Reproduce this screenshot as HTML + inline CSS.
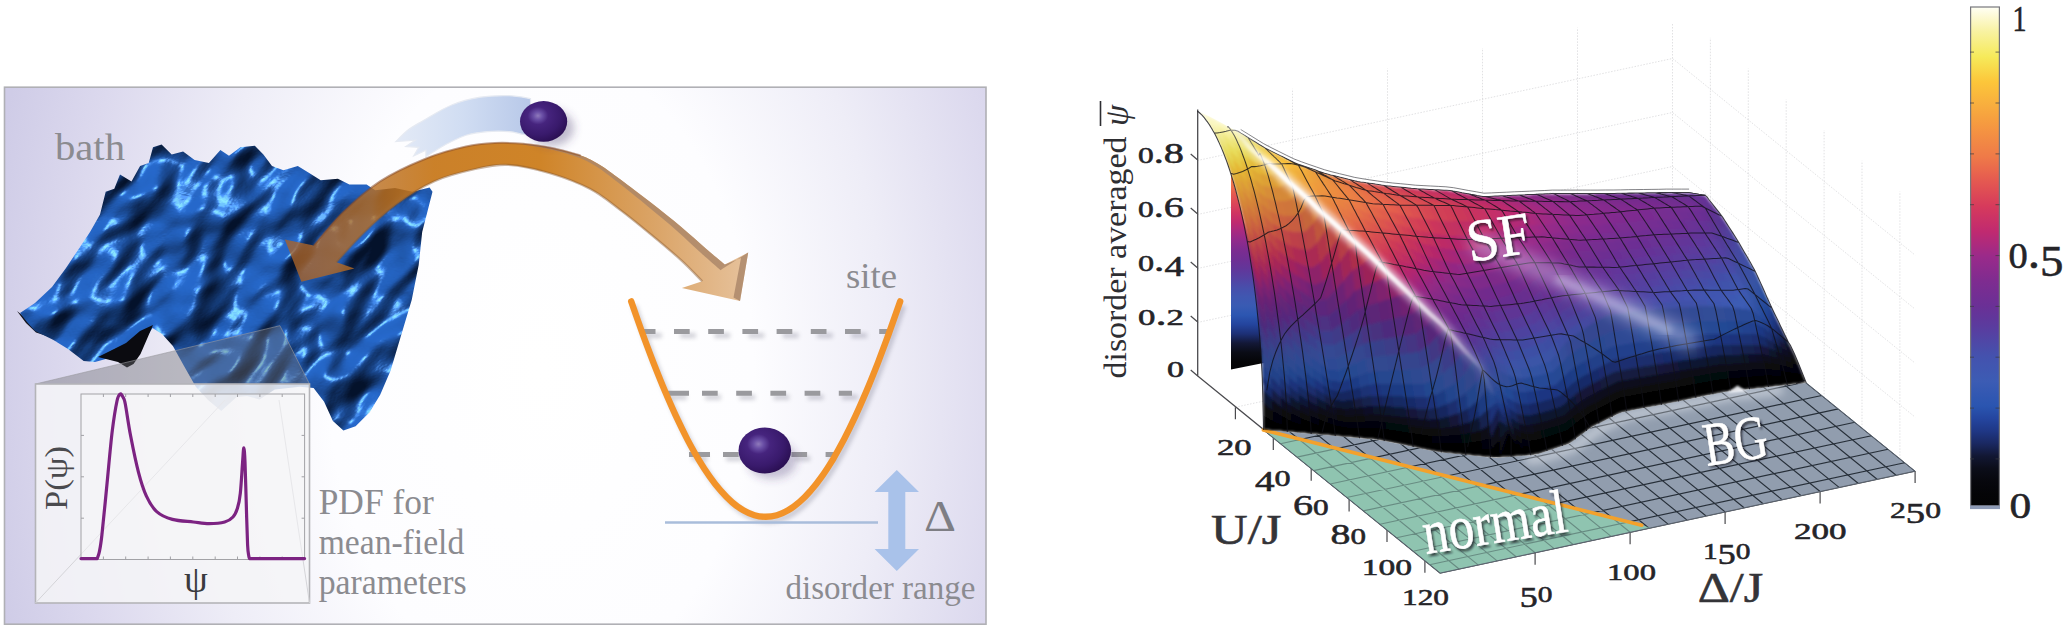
<!DOCTYPE html>
<html><head><meta charset="utf-8"><title>figure</title>
<style>
html,body{margin:0;padding:0;background:#fff;}
body{width:2066px;height:628px;overflow:hidden;}
svg{display:block;}
text{font-family:"Liberation Serif","DejaVu Serif",serif;}
</style></head><body>
<svg width="2066" height="628" viewBox="0 0 2066 628">
<rect x="0" y="0" width="2066" height="628" fill="#ffffff"/>

<defs>
 <radialGradient id="lbg" gradientUnits="userSpaceOnUse" cx="540" cy="370" r="560" gradientTransform="translate(540,370) scale(1,1.5) translate(-540,-370)">
  <stop offset="0" stop-color="#ffffff"/>
  <stop offset="0.38" stop-color="#fdfdff"/>
  <stop offset="0.62" stop-color="#eeedf7"/>
  <stop offset="0.84" stop-color="#dcd9ee"/>
  <stop offset="1" stop-color="#cfcce7"/>
 </radialGradient>
 <radialGradient id="ball" cx="0.38" cy="0.36" r="0.68">
  <stop offset="0" stop-color="#8f7abb"/>
  <stop offset="0.14" stop-color="#6a4fa6"/>
  <stop offset="0.32" stop-color="#46247e"/>
  <stop offset="0.7" stop-color="#391a6c"/>
  <stop offset="1" stop-color="#2a0f52"/>
 </radialGradient>
 <filter id="blur2" x="-20%" y="-20%" width="140%" height="140%"><feGaussianBlur stdDeviation="2"/></filter>
 <filter id="blur4" x="-30%" y="-30%" width="160%" height="160%"><feGaussianBlur stdDeviation="4"/></filter>
 <filter id="blur1" x="-20%" y="-20%" width="140%" height="140%"><feGaussianBlur stdDeviation="0.8"/></filter>
</defs>
<rect x="4.5" y="87.2" width="981.5" height="537" fill="url(#lbg)" stroke="#b0b0b5" stroke-width="1.6"/>


<defs>
 <clipPath id="bathclip"><path d="M20.0,313.0 L35.0,303.0 L52.0,287.0 L66.0,268.0 L78.0,250.0 L90.0,232.0 L100.0,214.6 L105.7,191.7 L114.3,188.8 L120.0,174.5 L131.5,181.6 L140.1,165.9 L148.7,163.0 L153.0,147.2 L161.6,144.4 L171.7,154.4 L183.1,151.5 L194.6,160.1 L208.9,163.0 L220.4,150.1 L229.0,155.8 L240.4,147.2 L254.8,145.8 L263.4,154.4 L272.0,165.9 L283.4,170.2 L297.8,165.9 L309.2,173.0 L320.7,180.2 L337.9,178.8 L349.4,184.5 L366.6,184.5 L375.2,190.2 L395.0,188.0 L412.4,191.7 L429.6,187.4 L432.5,191.7 L426.7,214.6 L422.2,232.0 L418.7,265.0 L411.7,300.0 L401.2,335.1 L390.7,370.2 L380.2,394.7 L369.6,412.2 L355.6,426.2 L343.4,430.4 L332.9,421.0 L324.1,401.7 L313.6,388.0 L300.0,386.8 L274.8,389.4 L259.5,399.5 L247.0,396.0 L236.6,397.0 L221.3,411.0 L208.0,400.0 L195.8,386.8 L184.0,366.0 L172.9,346.0 L162.0,334.0 L152.5,328.0 L146.0,338.0 L139.7,353.7 L133.0,363.0 L127.0,366.4 L118.0,361.0 L106.6,358.8 L95.0,362.0 L83.7,361.0 L68.0,349.0 L53.0,339.7 L35.0,331.0 L27.0,322.0Z"/></clipPath>
 <filter id="bathtex" filterUnits="userSpaceOnUse" x="0" y="0" width="700" height="420" color-interpolation-filters="sRGB">
  <feTurbulence type="fractalNoise" baseFrequency="0.026 0.021" numOctaves="2" seed="11" result="n"/>
  <feGaussianBlur in="n" stdDeviation="2" result="nb"/>
  <feDiffuseLighting in="nb" surfaceScale="26" diffuseConstant="1.0" lighting-color="#2a6cc8" result="dif">
    <feDistantLight azimuth="200" elevation="48"/>
  </feDiffuseLighting>
  <feSpecularLighting in="nb" surfaceScale="26" specularConstant="0.72" specularExponent="50" lighting-color="#a8dcff" result="spec">
    <feDistantLight azimuth="235" elevation="62"/>
  </feSpecularLighting>
  <feFlood flood-color="#0f3b8e" result="base"/>
  <feComposite in="dif" in2="base" operator="arithmetic" k1="0" k2="0.8" k3="0.3" k4="0" result="mix"/>
  <feComposite in="spec" in2="mix" operator="arithmetic" k1="0" k2="0.9" k3="1" k4="0" result="lit"/>
  <feComposite in="lit" in2="SourceGraphic" operator="in"/>
 </filter>
</defs>
<path d="M17,311 L26,323 L36,332.5 L50,337 L33,324 Z" fill="#14141c"/>
<g clip-path="url(#bathclip)">
 <g transform="matrix(1,0.167,-0.714,1,120,60)">
  <rect x="0" y="0" width="700" height="420" fill="#1d57a6" filter="url(#bathtex)"/>
 </g>
</g>
<path d="M98,357 L112,350 L126,343 L140,331 L153,325 L147,339 L140.5,354 L133.5,364 L127,367.5 L118,362 L108,359.5 Z" fill="#0b0b10"/>

<path d="M35.5,384 L279.9,325.7 L309.5,384 Z" fill="#707074" fill-opacity="0.42"/>
<path d="M35.5,384 L279.9,325.7 L309.5,384" fill="none" stroke="#9a9a9e" stroke-opacity="0.6" stroke-width="1"/>
<rect x="35.5" y="384" width="274" height="219" fill="#f4f4f7" fill-opacity="0.86" stroke="#b4b4b8" stroke-width="1.6"/>
<path d="M35.5,603 L225,400 M309.5,603 L279,400" stroke="#d4d4d8" stroke-width="1" fill="none"/>
<rect x="81" y="394" width="223.6" height="165.5" fill="#f6f6f8" fill-opacity="0.55" stroke="#a2a2a6" stroke-width="1"/>
<path d="M103.4,559.5v-3 M103.4,394v3 M125.7,559.5v-3 M125.7,394v3 M148.1,559.5v-3 M148.1,394v3 M170.4,559.5v-3 M170.4,394v3 M192.8,559.5v-3 M192.8,394v3 M215.2,559.5v-3 M215.2,394v3 M237.5,559.5v-3 M237.5,394v3 M259.9,559.5v-3 M259.9,394v3 M282.2,559.5v-3 M282.2,394v3 M81,435.4h3 M304.6,435.4h-3 M81,476.8h3 M304.6,476.8h-3 M81,518.2h3 M304.6,518.2h-3" stroke="#a2a2a6" stroke-width="1" fill="none"/>
<path d="M81,558.6 L97.2,558.6 L97.2,558.6C97.5,557.5 98.5,555.9 99.3,552.0C100.1,548.1 100.6,546.5 101.9,535.0C103.2,523.5 105.4,500.3 107.1,482.9C108.8,465.5 110.6,444.2 112.3,430.6C114.0,417.0 115.7,407.1 117.0,401.0C118.3,394.9 119.2,394.6 120.2,394.0C121.2,393.4 122.3,395.8 123.2,397.5C124.1,399.2 124.2,398.1 125.4,404.5C126.6,410.9 128.4,424.5 130.6,435.8C132.8,447.1 135.9,462.4 138.5,472.4C141.1,482.4 143.3,489.4 146.3,495.9C149.3,502.4 152.3,507.7 156.7,511.6C161.0,515.5 166.3,517.7 172.4,519.4C178.5,521.1 187.2,521.3 193.3,522.0C199.4,522.7 203.8,523.6 209.0,523.6C214.2,523.6 220.7,523.1 224.7,522.0C228.7,520.9 230.9,519.3 233.0,517.0C235.1,514.7 236.3,511.9 237.5,508.0C238.7,504.1 239.5,501.0 240.3,493.3C241.2,485.6 242.0,469.6 242.6,462.0C243.2,454.4 243.4,447.9 243.8,447.9C244.2,447.9 244.6,452.5 245.0,462.0C245.4,471.5 245.9,491.2 246.3,505.0C246.7,518.8 247.2,536.5 247.6,545.0C248.0,553.5 248.5,553.7 248.8,556.0C249.1,558.3 249.5,558.2 249.6,558.6 L304.6,558.6" fill="none" stroke="#7c2382" stroke-width="3.2" stroke-linejoin="round" stroke-linecap="round"/>
<text transform="translate(67,478) rotate(-90)" font-size="31" fill="#4a4a4e" text-anchor="middle" textLength="64" lengthAdjust="spacingAndGlyphs">P(ψ)</text>
<text x="196.0" y="592.0" font-size="38.0" fill="#3a3a3e" text-anchor="middle" >ψ</text>
<text x="318.7" y="514.0" font-size="35.0" fill="#8b8b90" text-anchor="start" textLength="115.0" lengthAdjust="spacingAndGlyphs" >PDF for</text>
<text x="318.7" y="554.4" font-size="35.0" fill="#8b8b90" text-anchor="start" textLength="145.5" lengthAdjust="spacingAndGlyphs" >mean-field</text>
<text x="318.7" y="593.6" font-size="35.0" fill="#8b8b90" text-anchor="start" textLength="148.0" lengthAdjust="spacingAndGlyphs" >parameters</text>
<text x="55.0" y="160.0" font-size="37.0" fill="#8b8b90" text-anchor="start" textLength="70.0" lengthAdjust="spacingAndGlyphs" >bath</text>
<text x="846.0" y="288.0" font-size="36.0" fill="#8b8b90" text-anchor="start" textLength="51.0" lengthAdjust="spacingAndGlyphs" >site</text>
<text x="785.5" y="598.6" font-size="34.0" fill="#8b8b90" text-anchor="start" textLength="190.0" lengthAdjust="spacingAndGlyphs" >disorder range</text>
<text x="924.0" y="530.6" font-size="44.0" fill="#7e7e84" text-anchor="start" textLength="32.0" lengthAdjust="spacingAndGlyphs" >Δ</text>
<defs>
 <linearGradient id="arrg" gradientUnits="userSpaceOnUse" x1="285" y1="0" x2="750" y2="0">
  <stop offset="0" stop-color="#a8622a" stop-opacity="0.78"/>
  <stop offset="0.18" stop-color="#b96e22" stop-opacity="0.8"/>
  <stop offset="0.32" stop-color="#c87a1e" stop-opacity="0.95"/>
  <stop offset="0.55" stop-color="#cf8428" stop-opacity="1"/>
  <stop offset="0.8" stop-color="#d9a060" stop-opacity="0.95"/>
  <stop offset="1" stop-color="#e4bc92" stop-opacity="0.9"/>
 </linearGradient>
 <linearGradient id="swg" gradientUnits="userSpaceOnUse" x1="396" y1="0" x2="530" y2="0">
  <stop offset="0" stop-color="#e2e9f6" stop-opacity="0.95"/>
  <stop offset="0.5" stop-color="#cfdcf2" stop-opacity="0.97"/>
  <stop offset="1" stop-color="#b6c7e8" stop-opacity="0.97"/>
 </linearGradient>
</defs>
<path d="M395.8,141.6C397.8,139.7 403.5,133.5 408.0,130.0C412.5,126.5 415.7,125.0 423.0,120.8C430.3,116.6 442.1,108.9 451.7,105.0C461.2,101.1 470.8,98.8 480.3,97.2C489.9,95.7 500.6,95.5 509.0,95.7C517.4,95.9 526.9,98.1 530.5,98.6 L531,134.5 C529.7,134.5 527.0,134.9 523.3,134.4C519.6,133.9 515.0,132.1 509.0,131.6C503.0,131.1 494.7,131.0 487.5,131.6C480.3,132.2 473.2,132.9 466.0,135.2C458.8,137.5 451.2,141.6 444.5,145.2C437.8,148.8 429.0,154.8 425.9,156.7 L425.9,150.2 L413.7,156 L418.7,147.3 L405.8,146.6 L415.1,140.2 Z" fill="url(#swg)" stroke="#e6eaf2" stroke-width="1.2"/>
<path d="M284.8,239.4 L313.8,245.6 C318.6,240.1 331.8,223.2 342.8,212.5C353.8,201.8 366.2,190.4 380.0,181.4C393.8,172.4 411.3,164.5 425.6,158.7C439.9,152.9 454.5,149.2 466.0,146.6C477.5,144.0 485.1,143.5 494.7,143.0C504.2,142.5 513.8,143.0 523.3,143.8C532.8,144.6 542.4,146.0 552.0,148.0C561.6,150.0 572.7,152.8 580.7,155.6C588.7,158.4 593.4,161.0 600.0,165.0C606.6,169.0 612.0,173.2 620.5,179.5C629.0,185.8 640.7,194.7 650.8,202.6C660.9,210.5 671.9,219.2 681.0,226.8C690.1,234.4 697.9,241.7 705.2,248.0C712.5,254.3 721.6,261.8 724.9,264.6 L748.2,252.5 L740,301 L681.9,288 L702.2,281.3 C698.7,277.8 689.6,267.9 681.0,260.1C672.4,252.3 660.9,242.7 650.8,234.4C640.7,226.1 630.6,217.8 620.5,210.2C610.4,202.6 602.1,195.2 590.3,189.0C578.5,182.8 563.5,177.2 549.9,173.2C536.2,169.2 520.8,165.6 508.4,164.9C496.0,164.2 487.7,166.2 475.3,169.0C462.9,171.8 447.0,175.5 433.9,181.4C420.8,187.3 408.3,195.6 396.6,204.2C384.9,212.8 373.5,223.5 363.5,233.2C353.5,242.9 341.1,257.4 336.6,262.2 L354.4,268.4 L301.4,281.7 Z" fill="url(#arrg)"/>
<path d="M523.3,143.8C528.1,144.5 542.4,146.0 552.0,148.0C561.6,150.0 572.7,152.8 580.7,155.6C588.7,158.4 593.4,161.0 600.0,165.0C606.6,169.0 612.0,173.2 620.5,179.5C629.0,185.8 640.7,194.7 650.8,202.6C660.9,210.5 671.9,219.2 681.0,226.8C690.1,234.4 697.9,241.7 705.2,248.0C712.5,254.3 721.6,261.8 724.9,264.6 L720.7,270.2 C717.4,267.4 708.5,259.6 701.3,253.2C694.1,246.7 686.5,239.2 677.6,231.4C668.7,223.6 657.8,214.6 647.9,206.5C638.0,198.3 626.5,189.1 618.1,182.6C609.8,176.2 604.5,171.8 598.0,167.6C591.5,163.5 586.9,160.8 579.1,157.8C571.2,154.8 560.3,151.7 550.9,149.5C541.5,147.3 527.4,145.4 522.7,144.6 Z" fill="#a98468" fill-opacity="0.8"/>
<path d="M748.2,252.5 L740,301 L733.5,297.5 L741,258 L724.9,264.6 L720.5,270 Z" fill="#a98468" fill-opacity="0.8"/>
<path d="M313.8,245.6C318.6,240.1 331.8,223.2 342.8,212.5C353.8,201.8 366.2,190.4 380.0,181.4C393.8,172.4 411.3,164.5 425.6,158.7C439.9,152.9 454.5,149.2 466.0,146.6C477.5,144.0 485.1,143.5 494.7,143.0C504.2,142.5 513.8,143.0 523.3,143.8C532.8,144.6 542.4,146.0 552.0,148.0C561.6,150.0 575.9,154.3 580.7,155.6" fill="none" stroke="#8a4f2a" stroke-opacity="0.55" stroke-width="2"/>
<path d="M336.6,262.2C341.1,257.4 353.5,242.9 363.5,233.2C373.5,223.5 384.9,212.8 396.6,204.2C408.3,195.6 420.8,187.3 433.9,181.4C447.0,175.5 462.9,171.8 475.3,169.0C487.7,166.2 496.0,164.2 508.4,164.9C520.8,165.6 536.2,169.2 549.9,173.2C563.5,177.2 578.5,182.8 590.3,189.0C602.1,195.2 610.4,202.6 620.5,210.2C630.6,217.8 640.7,226.1 650.8,234.4C660.9,242.7 672.4,252.3 681.0,260.1C689.6,267.9 698.7,277.8 702.2,281.3" fill="none" stroke="#8a5a30" stroke-opacity="0.45" stroke-width="2.2"/>
<ellipse cx="552" cy="128" rx="22" ry="18" fill="#4a3a70" fill-opacity="0.35" filter="url(#blur4)"/>
<ellipse cx="543.6" cy="121.4" rx="23.6" ry="20.3" fill="url(#ball)"/>
<g transform="translate(3,4)" filter="url(#blur2)" opacity="0.28"><path d="M631.2,301.4C633.1,306.7 638.7,322.9 642.4,333.2C646.1,343.4 649.9,353.4 653.6,363.1C657.4,372.7 661.1,382.0 664.8,390.8C668.6,399.7 672.3,408.2 676.0,416.2C679.8,424.3 683.5,431.9 687.2,439.1C691.0,446.3 694.7,453.0 698.5,459.3C702.2,465.5 705.9,471.3 709.7,476.6C713.4,481.9 717.1,486.7 720.9,490.9C724.6,495.2 728.3,499.0 732.1,502.2C735.8,505.4 739.5,508.1 743.3,510.3C747.0,512.5 750.8,514.1 754.5,515.2C758.2,516.3 762.0,516.8 765.7,516.8C769.4,516.8 773.2,516.3 776.9,515.2C780.6,514.1 784.4,512.5 788.1,510.3C791.9,508.1 795.6,505.4 799.3,502.2C803.1,499.0 806.8,495.2 810.5,490.9C814.3,486.7 818.0,481.9 821.7,476.6C825.5,471.3 829.2,465.5 833.0,459.3C836.7,453.0 840.4,446.3 844.2,439.1C847.9,431.9 851.6,424.3 855.4,416.2C859.1,408.2 862.8,399.7 866.6,390.8C870.3,382.0 874.0,372.7 877.8,363.1C881.5,353.4 885.3,343.4 889.0,333.2C892.7,322.9 898.3,306.7 900.2,301.4" fill="none" stroke="#5a5a70" stroke-width="6"/><path d="M643,331.5 H889 M668,393.3 H856 M689,454.5 H836" stroke="#5a5a70" stroke-width="5" stroke-dasharray="15.7 18.5" fill="none"/></g>
<path d="M643,331.5 H887" stroke="#9a9a9e" stroke-width="5" stroke-dasharray="12.5 18.5 15.7 18.5 15.7 18.5 15.7 18.5 15.7 18.5 15.7 18.5 15.7 18.5 15.7 18.5" fill="none"/>
<path d="M668,393.3 H852 M689,454.5 H836" stroke="#9a9a9e" stroke-width="5" stroke-dasharray="21 13 15.7 18.5 15.7 18.5 15.7 18.5 15.7 18.5 15.7 18.5 15.7 18.5" fill="none"/>
<path d="M631.2,301.4C633.1,306.7 638.7,322.9 642.4,333.2C646.1,343.4 649.9,353.4 653.6,363.1C657.4,372.7 661.1,382.0 664.8,390.8C668.6,399.7 672.3,408.2 676.0,416.2C679.8,424.3 683.5,431.9 687.2,439.1C691.0,446.3 694.7,453.0 698.5,459.3C702.2,465.5 705.9,471.3 709.7,476.6C713.4,481.9 717.1,486.7 720.9,490.9C724.6,495.2 728.3,499.0 732.1,502.2C735.8,505.4 739.5,508.1 743.3,510.3C747.0,512.5 750.8,514.1 754.5,515.2C758.2,516.3 762.0,516.8 765.7,516.8C769.4,516.8 773.2,516.3 776.9,515.2C780.6,514.1 784.4,512.5 788.1,510.3C791.9,508.1 795.6,505.4 799.3,502.2C803.1,499.0 806.8,495.2 810.5,490.9C814.3,486.7 818.0,481.9 821.7,476.6C825.5,471.3 829.2,465.5 833.0,459.3C836.7,453.0 840.4,446.3 844.2,439.1C847.9,431.9 851.6,424.3 855.4,416.2C859.1,408.2 862.8,399.7 866.6,390.8C870.3,382.0 874.0,372.7 877.8,363.1C881.5,353.4 885.3,343.4 889.0,333.2C892.7,322.9 898.3,306.7 900.2,301.4" fill="none" stroke="#f2932a" stroke-width="6.4" stroke-linecap="round" stroke-linejoin="round"/>
<ellipse cx="772" cy="460" rx="25" ry="19" fill="#4a3a70" fill-opacity="0.3" filter="url(#blur4)"/>
<ellipse cx="764.8" cy="450.5" rx="26.3" ry="23" fill="url(#ball)"/>
<path d="M665,522.5 H878" stroke="#a9bddb" stroke-width="2.4"/>
<path d="M896.8,470 L919,492 L905.3,492 L905.3,549 L919,549 L896.8,571 L874.6,549 L888.3,549 L888.3,492 L874.6,492 Z" fill="#a9c2ea"/>
<defs><filter id="sblur" x="-5%" y="-5%" width="110%" height="110%"><feGaussianBlur stdDeviation="1.6"/></filter></defs>
<path d="M1292.5,356.1 V88.8 M1387.5,335.7 V68.4 M1482.5,315.3 V48.0 M1577.5,294.9 V27.6 M1672.5,274.5 V24.0 M1710.4,305.2 V37.9 M1748.3,335.9 V68.6 M1786.2,366.7 V99.4 M1824.1,397.4 V130.1 M1862.0,428.1 V160.8 M1899.9,458.8 V191.5 M1197.5,322.5 L1672.5,220.5 L1915.1,417.1 M1197.5,268.5 L1672.5,166.5 L1915.1,363.1 M1197.5,214.5 L1672.5,112.5 L1915.1,309.1 M1197.5,160.5 L1672.5,58.5 L1915.1,255.1 M1292.5,356.1 L1368.3,417.5 M1387.5,335.7 L1463.3,397.1 M1482.5,315.3 L1558.3,376.7 M1577.5,294.9 L1653.3,356.3 M1672.5,274.5 L1748.3,335.9 M1235.4,407.2 L1710.4,305.2 M1273.3,437.9 L1748.3,335.9 M1311.2,468.7 L1786.2,366.7 M1349.1,499.4 L1824.1,397.4 M1387.0,530.1 L1862.0,428.1 M1424.9,560.8 L1899.9,458.8" fill="none" stroke="#bcbcc0" stroke-opacity="0.5" stroke-width="0.9" stroke-dasharray="1.5 1.5"/>
<path d="M1197.7,109.5 V376 L1440.1,573.1 L1915.1,471.1" fill="none" stroke="#4a4a4e" stroke-width="1.3"/>
<path d="M1197.7,376.0 l-7,-6 M1197.7,322.0 l-7,-6 M1197.7,268.0 l-7,-6 M1197.7,214.0 l-7,-6 M1197.7,160.0 l-7,-6 M1235.4,407.2 v12 M1273.3,437.9 v12 M1311.2,468.7 v12 M1349.1,499.4 v12 M1387.0,530.1 v12 M1424.9,560.8 v12 M1535.1,552.7 v12 M1630.1,532.3 v12 M1725.1,511.9 v12 M1820.1,491.5 v12 M1915.1,471.1 v12" fill="none" stroke="#4a4a4e" stroke-width="1.2"/>
<text x="1184.0" y="377.0" font-size="30.0" fill="#242428" stroke="#242428" stroke-width="0.55" text-anchor="end" textLength="17.0" lengthAdjust="spacingAndGlyphs" ><tspan font-size="23.4" dy="0.0">0</tspan></text>
<text x="1184.0" y="325.0" font-size="30.0" fill="#242428" stroke="#242428" stroke-width="0.55" text-anchor="end" textLength="46.0" lengthAdjust="spacingAndGlyphs" ><tspan font-size="23.4" dy="0.0">0</tspan><tspan font-size="30.0" dy="0.0">.</tspan><tspan font-size="23.4" dy="0.0">2</tspan></text>
<text x="1184.0" y="271.0" font-size="30.0" fill="#242428" stroke="#242428" stroke-width="0.55" text-anchor="end" textLength="46.0" lengthAdjust="spacingAndGlyphs" ><tspan font-size="23.4" dy="0.0">0</tspan><tspan font-size="30.0" dy="0.0">.</tspan><tspan font-size="28.5" dy="5.1">4</tspan></text>
<text x="1184.0" y="217.0" font-size="30.0" fill="#242428" stroke="#242428" stroke-width="0.55" text-anchor="end" textLength="46.0" lengthAdjust="spacingAndGlyphs" ><tspan font-size="23.4" dy="0.0">0</tspan><tspan font-size="30.0" dy="0.0">.</tspan><tspan font-size="30.0" dy="0.0">6</tspan></text>
<text x="1184.0" y="163.0" font-size="30.0" fill="#242428" stroke="#242428" stroke-width="0.55" text-anchor="end" textLength="46.0" lengthAdjust="spacingAndGlyphs" ><tspan font-size="23.4" dy="0.0">0</tspan><tspan font-size="30.0" dy="0.0">.</tspan><tspan font-size="30.0" dy="0.0">8</tspan></text>
<text x="1217.0" y="454.6" font-size="30.0" fill="#242428" stroke="#242428" stroke-width="0.55" text-anchor="start" textLength="34.7" lengthAdjust="spacingAndGlyphs" ><tspan font-size="23.4" dy="0.0">2</tspan><tspan font-size="23.4" dy="0.0">0</tspan></text>
<text x="1255.0" y="485.8" font-size="30.0" fill="#242428" stroke="#242428" stroke-width="0.55" text-anchor="start" textLength="35.7" lengthAdjust="spacingAndGlyphs" ><tspan font-size="28.5" dy="5.1">4</tspan><tspan font-size="23.4" dy="-5.1">0</tspan></text>
<text x="1293.0" y="515.0" font-size="30.0" fill="#242428" stroke="#242428" stroke-width="0.55" text-anchor="start" textLength="35.7" lengthAdjust="spacingAndGlyphs" ><tspan font-size="30.0" dy="0.0">6</tspan><tspan font-size="23.4" dy="0.0">0</tspan></text>
<text x="1330.6" y="544.0" font-size="30.0" fill="#242428" stroke="#242428" stroke-width="0.55" text-anchor="start" textLength="35.4" lengthAdjust="spacingAndGlyphs" ><tspan font-size="30.0" dy="0.0">8</tspan><tspan font-size="23.4" dy="0.0">0</tspan></text>
<text x="1361.7" y="574.8" font-size="30.0" fill="#242428" stroke="#242428" stroke-width="0.55" text-anchor="start" textLength="50.3" lengthAdjust="spacingAndGlyphs" ><tspan font-size="23.4" dy="0.0">1</tspan><tspan font-size="23.4" dy="0.0">0</tspan><tspan font-size="23.4" dy="0.0">0</tspan></text>
<text x="1402.0" y="605.0" font-size="30.0" fill="#242428" stroke="#242428" stroke-width="0.55" text-anchor="start" textLength="47.0" lengthAdjust="spacingAndGlyphs" ><tspan font-size="23.4" dy="0.0">1</tspan><tspan font-size="23.4" dy="0.0">2</tspan><tspan font-size="23.4" dy="0.0">0</tspan></text>
<text x="1519.8" y="601.5" font-size="30.0" fill="#242428" stroke="#242428" stroke-width="0.55" text-anchor="start" textLength="32.7" lengthAdjust="spacingAndGlyphs" ><tspan font-size="28.5" dy="5.1">5</tspan><tspan font-size="23.4" dy="-5.1">0</tspan></text>
<text x="1607.0" y="579.7" font-size="30.0" fill="#242428" stroke="#242428" stroke-width="0.55" text-anchor="start" textLength="49.0" lengthAdjust="spacingAndGlyphs" ><tspan font-size="23.4" dy="0.0">1</tspan><tspan font-size="23.4" dy="0.0">0</tspan><tspan font-size="23.4" dy="0.0">0</tspan></text>
<text x="1703.0" y="559.0" font-size="30.0" fill="#242428" stroke="#242428" stroke-width="0.55" text-anchor="start" textLength="47.4" lengthAdjust="spacingAndGlyphs" ><tspan font-size="23.4" dy="0.0">1</tspan><tspan font-size="28.5" dy="5.1">5</tspan><tspan font-size="23.4" dy="-5.1">0</tspan></text>
<text x="1794.0" y="539.0" font-size="30.0" fill="#242428" stroke="#242428" stroke-width="0.55" text-anchor="start" textLength="52.6" lengthAdjust="spacingAndGlyphs" ><tspan font-size="23.4" dy="0.0">2</tspan><tspan font-size="23.4" dy="0.0">0</tspan><tspan font-size="23.4" dy="0.0">0</tspan></text>
<text x="1890.0" y="518.0" font-size="30.0" fill="#242428" stroke="#242428" stroke-width="0.55" text-anchor="start" textLength="51.0" lengthAdjust="spacingAndGlyphs" ><tspan font-size="23.4" dy="0.0">2</tspan><tspan font-size="28.5" dy="5.1">5</tspan><tspan font-size="23.4" dy="-5.1">0</tspan></text>
<text x="1211.0" y="544.0" font-size="42.0" fill="#343438" stroke="#343438" stroke-width="0.55" text-anchor="start" textLength="70.5" lengthAdjust="spacingAndGlyphs" >U/J</text>
<text x="1697.7" y="601.5" font-size="42.0" fill="#343438" stroke="#343438" stroke-width="0.55" text-anchor="start" textLength="65.5" lengthAdjust="spacingAndGlyphs" >Δ/J</text>
<text transform="translate(1126,378.5) rotate(-90)" font-size="31" fill="#2e2e32" textLength="242" lengthAdjust="spacingAndGlyphs">disorder averaged</text>
<text transform="translate(1128,126) rotate(-90)" font-size="34" fill="#2e2e32" font-style="italic">ψ</text>
<path d="M1100.5,126 V101" stroke="#2e2e32" stroke-width="1.6"/>
<path d="M1263.4,430.0 L1270.1,430.5 L1276.8,431.1 L1283.5,431.6 L1290.2,432.2 L1296.9,432.7 L1303.6,433.3 L1310.3,433.8 L1317.0,434.4 L1323.7,435.0 L1330.5,435.6 L1337.3,436.2 L1344.0,436.8 L1350.8,437.4 L1357.6,438.1 L1364.3,438.7 L1371.1,439.3 L1377.9,439.9 L1385.5,441.2 L1393.6,442.9 L1401.7,444.6 L1409.8,446.3 L1417.9,448.0 L1426.0,449.7 L1434.0,451.3 L1441.4,452.4 L1448.2,453.1 L1455.1,453.8 L1462.0,454.5 L1468.9,455.2 L1475.8,456.0 L1482.7,456.7 L1489.5,457.4 L1496.1,457.9 L1501.7,457.5 L1507.2,457.0 L1512.7,456.6 L1518.2,456.2 L1523.7,455.8 L1529.2,455.4 L1534.7,455.0 L1539.1,453.7 L1543.4,452.3 L1547.6,450.9 L1551.9,449.5 L1556.2,448.1 L1560.5,446.7 L1564.8,445.3 L1569.1,443.9 L1572.2,441.6 L1575.4,439.3 L1578.5,437.0 L1581.7,434.6 L1584.8,432.3 L1587.9,430.0 L1591.1,427.7 L1594.7,425.7 L1598.4,423.8 L1602.1,422.0 L1605.8,420.1 L1609.5,418.3 L1613.3,416.4 L1617.0,414.6 L1620.7,412.7 L1625.3,411.6 L1630.2,410.7 L1635.1,409.8 L1640.0,408.8 L1644.8,407.9 L1649.7,407.0 L1654.6,406.1 L1659.5,405.2 L1664.3,404.3 L1669.2,403.3 L1674.0,402.3 L1678.8,401.3 L1683.6,400.3 L1688.4,399.4 L1693.1,398.4 L1697.9,397.4 L1702.7,396.4 L1707.5,395.4 L1712.3,394.5 L1717.1,393.5 L1721.9,392.5 L1727.0,391.7 L1732.3,391.1 L1737.6,390.6 L1742.9,390.0 L1748.1,389.4 L1753.4,388.8 L1758.7,388.2 L1764.0,387.6 L1769.3,387.0 L1774.6,386.5 L1779.9,385.9 L1785.1,385.3 L1790.4,384.7 L1795.7,384.1 L1801.0,383.5 L1806.3,382.9 L1915.1,471.1 L1440.1,573.1 Z" fill="#919dae"/>
<path d="M1263.4,430.0 L1641.7,525.2 L1651.0,527.8 L1440.1,573.1 Z" fill="#8fc4b0"/>
<clipPath id="flclip"><path d="M1263.4,430.0 L1270.1,430.5 L1276.8,431.1 L1283.5,431.6 L1290.2,432.2 L1296.9,432.7 L1303.6,433.3 L1310.3,433.8 L1317.0,434.4 L1323.7,435.0 L1330.5,435.6 L1337.3,436.2 L1344.0,436.8 L1350.8,437.4 L1357.6,438.1 L1364.3,438.7 L1371.1,439.3 L1377.9,439.9 L1385.5,441.2 L1393.6,442.9 L1401.7,444.6 L1409.8,446.3 L1417.9,448.0 L1426.0,449.7 L1434.0,451.3 L1441.4,452.4 L1448.2,453.1 L1455.1,453.8 L1462.0,454.5 L1468.9,455.2 L1475.8,456.0 L1482.7,456.7 L1489.5,457.4 L1496.1,457.9 L1501.7,457.5 L1507.2,457.0 L1512.7,456.6 L1518.2,456.2 L1523.7,455.8 L1529.2,455.4 L1534.7,455.0 L1539.1,453.7 L1543.4,452.3 L1547.6,450.9 L1551.9,449.5 L1556.2,448.1 L1560.5,446.7 L1564.8,445.3 L1569.1,443.9 L1572.2,441.6 L1575.4,439.3 L1578.5,437.0 L1581.7,434.6 L1584.8,432.3 L1587.9,430.0 L1591.1,427.7 L1594.7,425.7 L1598.4,423.8 L1602.1,422.0 L1605.8,420.1 L1609.5,418.3 L1613.3,416.4 L1617.0,414.6 L1620.7,412.7 L1625.3,411.6 L1630.2,410.7 L1635.1,409.8 L1640.0,408.8 L1644.8,407.9 L1649.7,407.0 L1654.6,406.1 L1659.5,405.2 L1664.3,404.3 L1669.2,403.3 L1674.0,402.3 L1678.8,401.3 L1683.6,400.3 L1688.4,399.4 L1693.1,398.4 L1697.9,397.4 L1702.7,396.4 L1707.5,395.4 L1712.3,394.5 L1717.1,393.5 L1721.9,392.5 L1727.0,391.7 L1732.3,391.1 L1737.6,390.6 L1742.9,390.0 L1748.1,389.4 L1753.4,388.8 L1758.7,388.2 L1764.0,387.6 L1769.3,387.0 L1774.6,386.5 L1779.9,385.9 L1785.1,385.3 L1790.4,384.7 L1795.7,384.1 L1801.0,383.5 L1806.3,382.9 L1915.1,471.1 L1440.1,573.1 Z"/></clipPath>
<g clip-path="url(#flclip)"><path d="M1263.8,430.3 L1738.8,328.3 M1280.4,443.7 L1755.4,341.7 M1297.0,457.1 L1772.0,355.1 M1313.6,470.6 L1788.6,368.6 M1330.2,484.0 L1805.2,382.0 M1346.7,497.5 L1821.7,395.5 M1363.3,510.9 L1838.3,408.9 M1379.9,524.3 L1854.9,422.3 M1396.5,537.8 L1871.5,435.8 M1413.1,551.2 L1888.1,449.2 M1429.6,564.7 L1904.6,462.7 M1254.3,422.6 L1440.1,573.1 M1273.3,418.5 L1459.1,569.0 M1292.3,414.4 L1478.1,564.9 M1311.3,410.3 L1497.1,560.9 M1330.3,406.3 L1516.1,556.8 M1349.3,402.2 L1535.1,552.7 M1368.3,398.1 L1554.1,548.6 M1387.3,394.0 L1573.1,544.5 M1406.3,389.9 L1592.1,540.5 M1425.3,385.9 L1611.1,536.4 M1444.3,381.8 L1630.1,532.3 M1463.3,377.7 L1649.1,528.2 M1482.3,373.6 L1668.1,524.1 M1501.3,369.5 L1687.1,520.1 M1520.3,365.5 L1706.1,516.0 M1539.3,361.4 L1725.1,511.9 M1558.3,357.3 L1744.1,507.8 M1577.3,353.2 L1763.1,503.7 M1596.3,349.1 L1782.1,499.7 M1615.3,345.1 L1801.1,495.6 M1634.3,341.0 L1820.1,491.5 M1653.3,336.9 L1839.1,487.4 M1672.3,332.8 L1858.1,483.3 M1691.3,328.7 L1877.1,479.3 M1710.3,324.7 L1896.1,475.2 M1729.3,320.6 L1915.1,471.1" stroke="#1c232c" stroke-opacity="0.9" stroke-width="1.15" fill="none"/>
<path d="M1263.4,430.0 L1641.7,525.2 L1651.0,527.8 L1440.1,573.1 Z" fill="#8fc4b0" fill-opacity="0.62"/>
</g>
<path d="M1528.4,459.7 1539.1,458.9 1547.5,456.3 1555.8,453.6 1564.1,451.0 1572.4,448.3 1578.8,444.1 1584.9,439.6 1590.9,435.1 1597.1,430.7 1604.3,427.1 1611.5,423.5 1618.6,419.9 1625.8,416.4 1635.1,414.5 1644.5,412.7 1653.9,410.9 1663.4,409.2 1672.7,407.4 1682.0,405.5 1691.3,403.6 1700.5,401.7 1709.8,399.8 1719.1,397.9 1728.3,396.0 1738.5,394.8 1748.7,393.7 1758.9,392.6 1769.1,391.4 1779.3,390.3" fill="none" stroke="#e9edf3" stroke-opacity="0.55" stroke-width="9" stroke-linecap="round" filter="url(#blur4)"/>
<path d="M1263.4,430.0 L1440.1,573.1 L1915.1,471.1 L1806.3,382.9" fill="none" stroke="#59626e" stroke-width="1"/>
<path d="M1263.4,430.0 L1641.7,525.2" stroke="#f3a12c" stroke-width="3.6" stroke-linecap="round"/>
<defs><linearGradient id="bwg" x1="0" y1="185" x2="0" y2="371" gradientUnits="userSpaceOnUse"><stop offset="0.000" stop-color="#ed724a"/><stop offset="0.050" stop-color="#e55a50"/><stop offset="0.100" stop-color="#dc4658"/><stop offset="0.150" stop-color="#d03562"/><stop offset="0.200" stop-color="#c02a70"/><stop offset="0.250" stop-color="#a72a81"/><stop offset="0.300" stop-color="#902b8c"/><stop offset="0.350" stop-color="#7c2c90"/><stop offset="0.400" stop-color="#6f2f94"/><stop offset="0.450" stop-color="#62369a"/><stop offset="0.500" stop-color="#5541a2"/><stop offset="0.550" stop-color="#484eab"/><stop offset="0.600" stop-color="#4057b1"/><stop offset="0.650" stop-color="#395bb3"/><stop offset="0.700" stop-color="#2c56b1"/><stop offset="0.750" stop-color="#24449d"/><stop offset="0.800" stop-color="#1d3076"/><stop offset="0.850" stop-color="#131837"/><stop offset="0.900" stop-color="#0a0c16"/><stop offset="0.950" stop-color="#050507"/><stop offset="1.000" stop-color="#030304"/></linearGradient></defs><path d="M1231,174 L1266,300 L1266,362.5 L1231,369.5 Z" fill="url(#bwg)"/>
<clipPath id="sclip"><path d="M1197.5,111.1 1209.2,116.3 1220.9,122.4 1232.5,128.9 1240.8,133.0 1247.5,137.2 1254.2,141.3 1260.9,145.4 1267.6,149.3 1274.3,152.6 1281.0,155.9 1287.7,159.3 1294.4,162.6 1301.1,165.1 1307.7,167.4 1314.4,169.7 1321.1,172.0 1327.8,174.2 1334.5,175.8 1341.2,177.5 1347.9,179.1 1354.6,180.8 1361.3,182.0 1368.0,183.0 1374.6,184.0 1381.3,185.0 1388.0,185.9 1394.7,186.6 1401.4,187.2 1408.1,187.8 1414.8,188.5 1421.5,189.0 1428.2,189.3 1434.9,189.7 1441.5,190.0 1448.2,190.4 1454.9,191.4 1461.6,192.6 1468.3,193.8 1475.0,195.0 1481.7,196.2 1488.4,196.4 1495.1,196.1 1501.8,195.8 1508.4,195.5 1515.1,195.2 1521.8,194.9 1528.5,194.6 1535.2,194.3 1541.9,194.0 1548.6,193.7 1555.3,193.5 1562.0,193.5 1568.7,193.5 1575.3,193.5 1582.0,193.5 1588.7,193.5 1595.4,193.5 1602.1,193.4 1608.8,193.4 1615.5,193.3 1622.2,193.2 1628.9,193.1 1635.6,193.0 1642.3,192.9 1648.9,192.8 1655.6,192.7 1662.3,192.6 1669.0,192.5 1675.7,192.5 1682.4,192.5 1689.1,192.5 1697.0,193.8 1704.7,195.1 1712.1,203.5 1719.2,212.5 1726.0,222.3 1732.6,232.6 1738.8,242.4 1744.8,252.9 1750.5,262.9 1756.0,272.6 1761.1,284.1 1766.0,294.9 1770.6,305.1 1774.9,314.3 1779.0,322.7 1782.7,330.5 1786.2,337.7 1789.4,343.7 1792.4,349.5 1795.0,355.2 1797.4,360.6 1799.5,365.8 1801.3,370.3 1802.8,374.2 1804.1,377.3 1805.0,379.8 1805.7,381.5 1806.1,382.6 1806.3,382.9 1806.3,382.9 1798.8,383.8 1791.4,384.6 1784.0,385.4 1776.5,386.2 1769.1,387.1 1761.6,387.9 1754.2,388.7 1746.7,389.5 1739.3,390.4 1731.8,391.2 1724.4,392.0 1717.6,393.4 1710.8,394.8 1704.1,396.1 1697.3,397.5 1690.6,398.9 1683.8,400.3 1677.1,401.7 1670.3,403.1 1663.5,404.4 1656.7,405.7 1649.8,407.0 1642.9,408.3 1636.1,409.6 1629.2,410.9 1622.3,412.2 1616.9,414.6 1611.6,417.2 1606.4,419.8 1601.2,422.4 1595.9,425.1 1590.9,427.8 1586.4,431.1 1582.0,434.4 1577.6,437.6 1573.2,440.9 1568.6,444.1 1562.6,446.1 1556.5,448.0 1550.5,450.0 1544.4,451.9 1538.4,453.9 1531.6,455.3 1523.8,455.8 1516.1,456.4 1508.3,457.0 1500.6,457.5 1492.3,457.6 1482.6,456.7 1472.9,455.7 1463.2,454.7 1453.5,453.7 1443.8,452.7 1433.6,451.3 1422.2,448.9 1410.8,446.5 1399.4,444.1 1388.0,441.8 1377.2,439.8 1367.7,439.0 1358.1,438.1 1348.6,437.2 1339.1,436.4 1329.6,435.5 1320.0,434.7 1310.6,433.9 1301.1,433.1 1291.7,432.3 1282.3,431.5 1272.9,430.7 1263.4,430.0 1263.4,427.7 1263.4,415.4 1263.1,402.3 1262.7,389.1 1262.2,375.8 1261.5,362.6 1260.6,349.3 1259.6,336.1 1258.4,322.9 1257.1,309.7 1255.6,296.7 1254.0,283.7 1252.2,271.0 1250.2,258.4 1248.1,246.0 1245.8,233.8 1243.4,221.9 1240.8,210.3 1238.0,199.0 1235.1,188.2 1232.1,177.7 1228.9,167.7 1225.5,158.2 1222.0,149.3 1218.3,141.0 1214.4,133.3 1210.4,126.4 1206.3,120.4 1202.0,115.2 Z"/></clipPath>
<g clip-path="url(#sclip)"><g filter="url(#sblur)" shape-rendering="crispEdges"><path d="M1682.4,192.5 1689.1,192.5 1697.0,193.8 1690.3,193.9" fill="#563691"/><path d="M1675.7,192.5 1682.4,192.5 1690.3,193.9 1683.5,194.1" fill="#573490"/><path d="M1669.0,192.5 1675.7,192.5 1683.5,194.1 1676.8,194.2" fill="#593390"/><path d="M1662.3,192.6 1669.0,192.5 1676.8,194.2 1670.1,194.3" fill="#5b328f"/><path d="M1655.6,192.7 1662.3,192.6 1670.1,194.3 1663.3,194.5" fill="#5d318f"/><path d="M1648.9,192.8 1655.6,192.7 1663.3,194.5 1656.6,194.7" fill="#5f308e"/><path d="M1642.3,192.9 1648.9,192.8 1656.6,194.7 1649.8,194.9" fill="#612e8d"/><path d="M1635.6,193.0 1642.3,192.9 1649.8,194.9 1643.1,195.1" fill="#632d8d"/><path d="M1628.9,193.1 1635.6,193.0 1643.1,195.1 1636.4,195.3" fill="#652d8c"/><path d="M1622.2,193.2 1628.9,193.1 1636.4,195.3 1629.6,195.5" fill="#672c8c"/><path d="M1615.5,193.3 1622.2,193.2 1629.6,195.5 1622.9,195.7" fill="#692c8c"/><path d="M1608.8,193.4 1615.5,193.3 1622.9,195.7 1616.2,195.9" fill="#6a2c8b"/><path d="M1602.1,193.4 1608.8,193.4 1616.2,195.9 1609.5,196.0" fill="#6c2c8b"/><path d="M1595.4,193.5 1602.1,193.4 1609.5,196.0 1602.8,196.2" fill="#6f2b8b"/><path d="M1588.7,193.5 1595.4,193.5 1602.8,196.2 1596.1,196.3" fill="#712b8a"/><path d="M1582.0,193.5 1588.7,193.5 1596.1,196.3 1589.4,196.5" fill="#732b8a"/><path d="M1575.3,193.5 1582.0,193.5 1589.4,196.5 1582.7,196.6" fill="#752a8a"/><path d="M1568.7,193.5 1575.3,193.5 1582.7,196.6 1576.0,196.8" fill="#772a8a"/><path d="M1562.0,193.5 1568.7,193.5 1576.0,196.8 1569.3,196.9" fill="#7a2a8a"/><path d="M1555.3,193.5 1562.0,193.5 1569.3,196.9 1562.6,197.1" fill="#7d2a89"/><path d="M1548.6,193.7 1555.3,193.5 1562.6,197.1 1555.9,197.2" fill="#802a89"/><path d="M1541.9,194.0 1548.6,193.7 1555.9,197.2 1549.2,197.3" fill="#832a88"/><path d="M1535.2,194.3 1541.9,194.0 1549.2,197.3 1542.5,197.5" fill="#852987"/><path d="M1528.5,194.6 1535.2,194.3 1542.5,197.5 1535.8,197.6" fill="#872987"/><path d="M1521.8,194.9 1528.5,194.6 1535.8,197.6 1529.1,197.7" fill="#892986"/><path d="M1515.1,195.2 1521.8,194.9 1529.1,197.7 1522.4,197.8" fill="#8b2885"/><path d="M1508.4,195.5 1515.1,195.2 1522.4,197.8 1515.8,198.0" fill="#8d2884"/><path d="M1501.8,195.8 1508.4,195.5 1515.8,198.0 1509.2,198.1" fill="#8f2883"/><path d="M1495.1,196.1 1501.8,195.8 1509.2,198.1 1502.6,198.3" fill="#912882"/><path d="M1488.4,196.4 1495.1,196.1 1502.6,198.3 1496.0,198.4" fill="#93277f"/><path d="M1481.7,196.2 1488.4,196.4 1496.0,198.4 1489.4,198.2" fill="#96277c"/><path d="M1475.0,195.0 1481.7,196.2 1489.4,198.2 1482.9,197.5" fill="#9a2777"/><path d="M1468.3,193.8 1475.0,195.0 1482.9,197.5 1476.3,196.9" fill="#a22774"/><path d="M1461.6,192.6 1468.3,193.8 1476.3,196.9 1469.8,196.2" fill="#aa2770"/><path d="M1454.9,191.4 1461.6,192.6 1469.8,196.2 1463.2,195.6" fill="#b1286d"/><path d="M1448.2,190.4 1454.9,191.4 1463.2,195.6 1456.7,195.1" fill="#b8296a"/><path d="M1441.5,190.0 1448.2,190.4 1456.7,195.1 1450.2,194.9" fill="#be2c68"/><path d="M1434.9,189.7 1441.5,190.0 1450.2,194.9 1443.5,194.6" fill="#c12e66"/><path d="M1428.2,189.3 1434.9,189.7 1443.5,194.6 1436.9,194.3" fill="#c33063"/><path d="M1421.5,189.0 1428.2,189.3 1436.9,194.3 1430.2,193.9" fill="#c63261"/><path d="M1414.8,188.5 1421.5,189.0 1430.2,193.9 1423.6,193.4" fill="#c9345e"/><path d="M1408.1,187.8 1414.8,188.5 1423.6,193.4 1416.9,192.9" fill="#cc365b"/><path d="M1401.4,187.2 1408.1,187.8 1416.9,192.9 1410.2,192.4" fill="#cf3958"/><path d="M1394.7,186.6 1401.4,187.2 1410.2,192.4 1403.5,191.8" fill="#d13d57"/><path d="M1388.0,185.9 1394.7,186.6 1403.5,191.8 1396.7,191.2" fill="#d34255"/><path d="M1381.3,185.0 1388.0,185.9 1396.7,191.2 1389.9,190.3" fill="#d44653"/><path d="M1374.6,184.0 1381.3,185.0 1389.9,190.3 1383.2,189.2" fill="#d64b51"/><path d="M1368.0,183.0 1374.6,184.0 1383.2,189.2 1376.4,188.1" fill="#d9504f"/><path d="M1361.3,182.0 1368.0,183.0 1376.4,188.1 1369.5,187.0" fill="#db554d"/><path d="M1354.6,180.8 1361.3,182.0 1369.5,187.0 1362.6,185.8" fill="#dd5b4b"/><path d="M1347.9,179.1 1354.6,180.8 1362.6,185.8 1355.7,184.2" fill="#dd6149"/><path d="M1341.2,177.5 1347.9,179.1 1355.7,184.2 1348.8,182.2" fill="#df6847"/><path d="M1334.5,175.8 1341.2,177.5 1348.8,182.2 1341.9,180.3" fill="#e17045"/><path d="M1327.8,174.2 1334.5,175.8 1341.9,180.3 1335.0,178.3" fill="#e27643"/><path d="M1321.1,172.0 1327.8,174.2 1335.0,178.3 1328.0,176.0" fill="#e17a41"/><path d="M1314.4,169.7 1321.1,172.0 1328.0,176.0 1321.0,173.4" fill="#e1803f"/><path d="M1307.7,167.4 1314.4,169.7 1321.0,173.4 1314.0,170.6" fill="#e1853d"/><path d="M1301.1,165.1 1307.7,167.4 1314.0,170.6 1306.9,167.8" fill="#e18b3c"/><path d="M1294.4,162.6 1301.1,165.1 1306.9,167.8 1300.0,165.0" fill="#e0913a"/><path d="M1287.7,159.3 1294.4,162.6 1300.0,165.0 1293.1,161.7" fill="#de9638"/><path d="M1281.0,155.9 1287.7,159.3 1293.1,161.7 1286.2,158.8" fill="#e2a038"/><path d="M1274.3,152.6 1281.0,155.9 1286.2,158.8 1279.3,155.9" fill="#e5aa37"/><path d="M1267.6,149.3 1274.3,152.6 1279.3,155.9 1272.4,153.5" fill="#eab537"/><path d="M1260.9,145.4 1267.6,149.3 1272.4,153.5 1265.6,150.6" fill="#ebbe39"/><path d="M1254.2,141.3 1260.9,145.4 1265.6,150.6 1258.7,147.4" fill="#e9ca44"/><path d="M1247.5,137.2 1254.2,141.3 1258.7,147.4 1251.8,144.3" fill="#e7d650"/><path d="M1240.8,133.0 1247.5,137.2 1251.8,144.3 1244.9,141.4" fill="#e5db63"/><path d="M1232.5,128.9 1240.8,133.0 1244.9,141.4 1236.6,133.3" fill="#e7df7e"/><path d="M1220.9,122.4 1232.5,128.9 1236.6,133.3 1225.0,127.2" fill="#f6f1a0"/><path d="M1209.2,116.3 1220.9,122.4 1225.0,127.2 1213.5,121.1" fill="#f9f4b7"/><path d="M1197.5,111.1 1209.2,116.3 1213.5,121.1 1202.0,115.2" fill="#faf7cc"/><path d="M1690.3,193.9 1697.0,193.8 1704.7,195.1 1697.9,195.3" fill="#5c318e"/><path d="M1683.5,194.1 1690.3,193.9 1697.9,195.3 1691.1,195.5" fill="#5e308d"/><path d="M1676.8,194.2 1683.5,194.1 1691.1,195.5 1684.3,195.8" fill="#602e8c"/><path d="M1670.1,194.3 1676.8,194.2 1684.3,195.8 1677.5,196.0" fill="#612d8c"/><path d="M1663.3,194.5 1670.1,194.3 1677.5,196.0 1670.7,196.3" fill="#632d8c"/><path d="M1656.6,194.7 1663.3,194.5 1670.7,196.3 1663.9,196.6" fill="#652c8b"/><path d="M1649.8,194.9 1656.6,194.7 1663.9,196.6 1657.2,196.9" fill="#672c8b"/><path d="M1643.1,195.1 1649.8,194.9 1657.2,196.9 1650.4,197.1" fill="#682c8b"/><path d="M1636.4,195.3 1643.1,195.1 1650.4,197.1 1643.6,197.4" fill="#6a2c8b"/><path d="M1629.6,195.5 1636.4,195.3 1643.6,197.4 1636.8,197.7" fill="#6c2b8a"/><path d="M1622.9,195.7 1629.6,195.5 1636.8,197.7 1630.0,197.9" fill="#6e2b8a"/><path d="M1616.2,195.9 1622.9,195.7 1630.0,197.9 1623.3,198.2" fill="#6f2b8a"/><path d="M1609.5,196.0 1616.2,195.9 1623.3,198.2 1616.6,198.5" fill="#712b8a"/><path d="M1602.8,196.2 1609.5,196.0 1616.6,198.5 1609.9,198.8" fill="#732a89"/><path d="M1596.1,196.3 1602.8,196.2 1609.9,198.8 1603.2,199.1" fill="#752a89"/><path d="M1589.4,196.5 1596.1,196.3 1603.2,199.1 1596.5,199.4" fill="#772a89"/><path d="M1582.7,196.6 1589.4,196.5 1596.5,199.4 1589.8,199.7" fill="#7a2a89"/><path d="M1576.0,196.8 1582.7,196.6 1589.8,199.7 1583.1,199.9" fill="#7d2a89"/><path d="M1569.3,196.9 1576.0,196.8 1583.1,199.9 1576.4,200.2" fill="#802a89"/><path d="M1562.6,197.1 1569.3,196.9 1576.4,200.2 1569.7,200.5" fill="#822a89"/><path d="M1555.9,197.2 1562.6,197.1 1569.7,200.5 1563.0,200.6" fill="#852988"/><path d="M1549.2,197.3 1555.9,197.2 1563.0,200.6 1556.3,200.6" fill="#872987"/><path d="M1542.5,197.5 1549.2,197.3 1556.3,200.6 1549.6,200.5" fill="#8a2986"/><path d="M1535.8,197.6 1542.5,197.5 1549.6,200.5 1542.8,200.5" fill="#8c2985"/><path d="M1529.1,197.7 1535.8,197.6 1542.8,200.5 1536.1,200.4" fill="#8e2884"/><path d="M1522.4,197.8 1529.1,197.7 1536.1,200.4 1529.4,200.4" fill="#912883"/><path d="M1515.8,198.0 1522.4,197.8 1529.4,200.4 1522.9,200.4" fill="#932881"/><path d="M1509.2,198.1 1515.8,198.0 1522.9,200.4 1516.4,200.4" fill="#97287e"/><path d="M1502.6,198.3 1509.2,198.1 1516.4,200.4 1509.9,200.4" fill="#9a277b"/><path d="M1496.0,198.4 1502.6,198.3 1509.9,200.4 1503.4,200.3" fill="#9d2778"/><path d="M1489.4,198.2 1496.0,198.4 1503.4,200.3 1496.9,200.1" fill="#a12774"/><path d="M1482.9,197.5 1489.4,198.2 1496.9,200.1 1490.4,199.9" fill="#a62771"/><path d="M1476.3,196.9 1482.9,197.5 1490.4,199.9 1484.0,199.8" fill="#ad276e"/><path d="M1469.8,196.2 1476.3,196.9 1484.0,199.8 1477.6,199.7" fill="#b3286c"/><path d="M1463.2,195.6 1469.8,196.2 1477.6,199.7 1471.3,199.6" fill="#b92969"/><path d="M1456.7,195.1 1463.2,195.6 1471.3,199.6 1464.9,199.6" fill="#bd2c67"/><path d="M1450.2,194.9 1456.7,195.1 1464.9,199.6 1458.5,199.6" fill="#c12e65"/><path d="M1443.5,194.6 1450.2,194.9 1458.5,199.6 1451.9,199.4" fill="#c43063"/><path d="M1436.9,194.3 1443.5,194.6 1451.9,199.4 1445.3,199.0" fill="#c63260"/><path d="M1430.2,193.9 1436.9,194.3 1445.3,199.0 1438.7,198.6" fill="#c9345d"/><path d="M1423.6,193.4 1430.2,193.9 1438.7,198.6 1432.1,198.1" fill="#cc365b"/><path d="M1416.9,192.9 1423.6,193.4 1432.1,198.1 1425.4,197.7" fill="#cf3958"/><path d="M1410.2,192.4 1416.9,192.9 1425.4,197.7 1418.7,197.3" fill="#d13d57"/><path d="M1403.5,191.8 1410.2,192.4 1418.7,197.3 1411.9,196.8" fill="#d34155"/><path d="M1396.7,191.2 1403.5,191.8 1411.9,196.8 1405.1,196.2" fill="#d54654"/><path d="M1389.9,190.3 1396.7,191.2 1405.1,196.2 1398.2,195.4" fill="#d64a52"/><path d="M1383.2,189.2 1389.9,190.3 1398.2,195.4 1391.4,194.3" fill="#d84e50"/><path d="M1376.4,188.1 1383.2,189.2 1391.4,194.3 1384.5,193.1" fill="#da534e"/><path d="M1369.5,187.0 1376.4,188.1 1384.5,193.1 1377.4,191.9" fill="#dd594c"/><path d="M1362.6,185.8 1369.5,187.0 1377.4,191.9 1370.3,190.6" fill="#de5f4b"/><path d="M1355.7,184.2 1362.6,185.8 1370.3,190.6 1363.2,189.1" fill="#e06549"/><path d="M1348.8,182.2 1355.7,184.2 1363.2,189.1 1356.1,186.8" fill="#df6b46"/><path d="M1341.9,180.3 1348.8,182.2 1356.1,186.8 1349.1,184.6" fill="#e17344"/><path d="M1335.0,178.3 1341.9,180.3 1349.1,184.6 1341.9,182.3" fill="#e27842"/><path d="M1328.0,176.0 1335.0,178.3 1341.9,182.3 1334.6,179.8" fill="#e27d41"/><path d="M1321.0,173.4 1328.0,176.0 1334.6,179.8 1327.3,176.9" fill="#e0823e"/><path d="M1314.0,170.6 1321.0,173.4 1327.3,176.9 1320.0,173.7" fill="#e0873c"/><path d="M1306.9,167.8 1314.0,170.6 1320.0,173.7 1312.6,170.5" fill="#e08d3a"/><path d="M1300.0,165.0 1306.9,167.8 1312.6,170.5 1305.4,167.3" fill="#e09439"/><path d="M1293.1,161.7 1300.0,165.0 1305.4,167.3 1298.3,164.1" fill="#df9a38"/><path d="M1286.2,158.8 1293.1,161.7 1298.3,164.1 1291.3,161.6" fill="#e5a538"/><path d="M1279.3,155.9 1286.2,158.8 1291.3,161.6 1284.2,159.1" fill="#e8ae37"/><path d="M1272.4,153.5 1279.3,155.9 1284.2,159.1 1277.1,157.6" fill="#f0b938"/><path d="M1265.6,150.6 1272.4,153.5 1277.1,157.6 1270.1,155.6" fill="#f2c138"/><path d="M1258.7,147.4 1265.6,150.6 1270.1,155.6 1263.0,153.4" fill="#f0ca41"/><path d="M1251.8,144.3 1258.7,147.4 1263.0,153.4 1255.9,151.3" fill="#eed44b"/><path d="M1244.9,141.4 1251.8,144.3 1255.9,151.3 1248.9,144.9" fill="#e2d753"/><path d="M1236.6,133.3 1244.9,141.4 1248.9,144.9 1240.4,140.3" fill="#e5dc71"/><path d="M1225.0,127.2 1236.6,133.3 1240.4,140.3 1229.0,133.7" fill="#f7f094"/><path d="M1213.5,121.1 1225.0,127.2 1229.0,133.7 1217.7,127.0" fill="#f9f4ab"/><path d="M1202.0,115.2 1213.5,121.1 1217.7,127.0 1206.3,120.4" fill="#fbf8c4"/><path d="M1697.9,195.3 1704.7,195.1 1712.1,203.5 1705.2,202.2" fill="#663398"/><path d="M1691.1,195.5 1697.9,195.3 1705.2,202.2 1698.4,200.9" fill="#673095"/><path d="M1684.3,195.8 1691.1,195.5 1698.4,200.9 1691.6,199.8" fill="#682e92"/><path d="M1677.5,196.0 1684.3,195.8 1691.6,199.8 1684.7,199.8" fill="#6a2e91"/><path d="M1670.7,196.3 1677.5,196.0 1684.7,199.8 1677.9,200.0" fill="#6c2e90"/><path d="M1663.9,196.6 1670.7,196.3 1677.9,200.0 1671.0,200.3" fill="#6d2d8f"/><path d="M1657.2,196.9 1663.9,196.6 1671.0,200.3 1664.2,200.5" fill="#6f2d8f"/><path d="M1650.4,197.1 1657.2,196.9 1664.2,200.5 1657.4,200.7" fill="#702c8e"/><path d="M1643.6,197.4 1650.4,197.1 1657.4,200.7 1650.5,201.0" fill="#722c8e"/><path d="M1636.8,197.7 1643.6,197.4 1650.5,201.0 1643.7,201.2" fill="#732c8d"/><path d="M1630.0,197.9 1636.8,197.7 1643.7,201.2 1636.9,201.5" fill="#752c8d"/><path d="M1623.3,198.2 1630.0,197.9 1636.9,201.5 1630.1,202.0" fill="#762b8d"/><path d="M1616.6,198.5 1623.3,198.2 1630.1,202.0 1623.4,202.4" fill="#782b8d"/><path d="M1609.9,198.8 1616.6,198.5 1623.4,202.4 1616.7,202.8" fill="#7a2b8c"/><path d="M1603.2,199.1 1609.9,198.8 1616.7,202.8 1610.0,203.3" fill="#7d2b8c"/><path d="M1596.5,199.4 1603.2,199.1 1610.0,203.3 1603.3,203.7" fill="#7f2b8c"/><path d="M1589.8,199.7 1596.5,199.4 1603.3,203.7 1596.6,204.1" fill="#822b8c"/><path d="M1583.1,199.9 1589.8,199.7 1596.6,204.1 1589.9,204.5" fill="#842b8c"/><path d="M1576.4,200.2 1583.1,199.9 1589.9,204.5 1583.2,204.8" fill="#872b8c"/><path d="M1569.7,200.5 1576.4,200.2 1583.2,204.8 1576.5,205.2" fill="#892a8b"/><path d="M1563.0,200.6 1569.7,200.5 1576.5,205.2 1569.8,205.4" fill="#8b2a8b"/><path d="M1556.3,200.6 1563.0,200.6 1569.8,205.4 1563.1,205.4" fill="#8e2a8a"/><path d="M1549.6,200.5 1556.3,200.6 1563.1,205.4 1556.3,205.2" fill="#912a89"/><path d="M1542.8,200.5 1549.6,200.5 1556.3,205.2 1549.6,205.0" fill="#942988"/><path d="M1536.1,200.4 1542.8,200.5 1549.6,205.0 1542.9,204.8" fill="#962987"/><path d="M1529.4,200.4 1536.1,200.4 1542.9,204.8 1536.2,204.7" fill="#9a2985"/><path d="M1522.9,200.4 1529.4,200.4 1536.2,204.7 1529.7,204.7" fill="#9e2981"/><path d="M1516.4,200.4 1522.9,200.4 1529.7,204.7 1523.3,204.7" fill="#a2297e"/><path d="M1509.9,200.4 1516.4,200.4 1523.3,204.7 1516.9,204.6" fill="#a7297b"/><path d="M1503.4,200.3 1509.9,200.4 1516.9,204.6 1510.5,204.5" fill="#ab2977"/><path d="M1496.9,200.1 1503.4,200.3 1510.5,204.5 1504.1,204.3" fill="#af2974"/><path d="M1490.4,199.9 1496.9,200.1 1504.1,204.3 1497.7,204.2" fill="#b42970"/><path d="M1484.0,199.8 1490.4,199.9 1497.7,204.2 1491.5,204.1" fill="#b9296d"/><path d="M1477.6,199.7 1484.0,199.8 1491.5,204.1 1485.2,204.0" fill="#bc2a6a"/><path d="M1471.3,199.6 1477.6,199.7 1485.2,204.0 1479.0,203.9" fill="#bf2c67"/><path d="M1464.9,199.6 1471.3,199.6 1479.0,203.9 1472.7,203.7" fill="#c12e64"/><path d="M1458.5,199.6 1464.9,199.6 1472.7,203.7 1466.5,203.5" fill="#c43062"/><path d="M1451.9,199.4 1458.5,199.6 1466.5,203.5 1459.9,203.2" fill="#c6325f"/><path d="M1445.3,199.0 1451.9,199.4 1459.9,203.2 1453.4,202.7" fill="#c8345b"/><path d="M1438.7,198.6 1445.3,199.0 1453.4,202.7 1446.8,202.2" fill="#ca3659"/><path d="M1432.1,198.1 1438.7,198.6 1446.8,202.2 1440.2,201.9" fill="#cd3a57"/><path d="M1425.4,197.7 1432.1,198.1 1440.2,201.9 1433.7,201.7" fill="#cf3e55"/><path d="M1418.7,197.3 1425.4,197.7 1433.7,201.7 1427.0,201.5" fill="#d24254"/><path d="M1411.9,196.8 1418.7,197.3 1427.0,201.5 1420.1,201.1" fill="#d44653"/><path d="M1405.1,196.2 1411.9,196.8 1420.1,201.1 1413.2,200.8" fill="#d74a52"/><path d="M1398.2,195.4 1405.1,196.2 1413.2,200.8 1406.3,200.3" fill="#d94d51"/><path d="M1391.4,194.3 1398.2,195.4 1406.3,200.3 1399.4,199.6" fill="#db524f"/><path d="M1384.5,193.1 1391.4,194.3 1399.4,199.6 1392.3,198.8" fill="#de574e"/><path d="M1377.4,191.9 1384.5,193.1 1392.3,198.8 1385.1,197.7" fill="#e15d4d"/><path d="M1370.3,190.6 1377.4,191.9 1385.1,197.7 1377.8,196.5" fill="#e3634b"/><path d="M1363.2,189.1 1370.3,190.6 1377.8,196.5 1370.5,195.1" fill="#e5684a"/><path d="M1356.1,186.8 1363.2,189.1 1370.5,195.1 1363.2,193.1" fill="#e46e47"/><path d="M1349.1,184.6 1356.1,186.8 1363.2,193.1 1355.9,190.8" fill="#e67645"/><path d="M1341.9,182.3 1349.1,184.6 1355.9,190.8 1348.6,188.3" fill="#e77c44"/><path d="M1334.6,179.8 1341.9,182.3 1348.6,188.3 1341.0,185.4" fill="#e88142"/><path d="M1327.3,176.9 1334.6,179.8 1341.0,185.4 1333.3,181.9" fill="#e5863f"/><path d="M1320.0,173.7 1327.3,176.9 1333.3,181.9 1325.7,177.8" fill="#e38b3d"/><path d="M1312.6,170.5 1320.0,173.7 1325.7,177.8 1318.1,173.5" fill="#e1903a"/><path d="M1305.4,167.3 1312.6,170.5 1318.1,173.5 1310.6,169.6" fill="#df9638"/><path d="M1298.3,164.1 1305.4,167.3 1310.6,169.6 1303.4,166.4" fill="#e09e37"/><path d="M1291.3,161.6 1298.3,164.1 1303.4,166.4 1296.1,164.3" fill="#e8a938"/><path d="M1284.2,159.1 1291.3,161.6 1296.1,164.3 1288.9,162.2" fill="#ebb138"/><path d="M1277.1,157.6 1284.2,159.1 1288.9,162.2 1281.6,161.5" fill="#f5be39"/><path d="M1270.1,155.6 1277.1,157.6 1281.6,161.5 1274.4,160.5" fill="#f8c439"/><path d="M1263.0,153.4 1270.1,155.6 1274.4,160.5 1267.1,159.1" fill="#f7ca3e"/><path d="M1255.9,151.3 1263.0,153.4 1267.1,159.1 1259.9,154.4" fill="#eccc45"/><path d="M1248.9,144.9 1255.9,151.3 1259.9,154.4 1252.7,153.2" fill="#e9d74f"/><path d="M1240.4,140.3 1248.9,144.9 1252.7,153.2 1244.2,148.8" fill="#e9df61"/><path d="M1229.0,133.7 1240.4,140.3 1244.2,148.8 1232.9,141.3" fill="#efe67a"/><path d="M1217.7,127.0 1229.0,133.7 1232.9,141.3 1221.7,134.0" fill="#f4ed94"/><path d="M1206.3,120.4 1217.7,127.0 1221.7,134.0 1210.4,126.4" fill="#f8f3b1"/><path d="M1705.2,202.2 1712.1,203.5 1719.2,212.5 1712.3,209.7" fill="#603495"/><path d="M1698.4,200.9 1705.2,202.2 1712.3,209.7 1705.4,206.9" fill="#643092"/><path d="M1691.6,199.8 1698.4,200.9 1705.4,206.9 1698.5,204.2" fill="#682d8e"/><path d="M1684.7,199.8 1691.6,199.8 1698.5,204.2 1691.6,204.0" fill="#6d2e91"/><path d="M1677.9,200.0 1684.7,199.8 1691.6,204.0 1684.8,204.2" fill="#6f2d90"/><path d="M1671.0,200.3 1677.9,200.0 1684.8,204.2 1677.9,204.4" fill="#712d90"/><path d="M1664.2,200.5 1671.0,200.3 1677.9,204.4 1671.0,204.5" fill="#722d8f"/><path d="M1657.4,200.7 1664.2,200.5 1671.0,204.5 1664.1,204.7" fill="#742c8f"/><path d="M1650.5,201.0 1657.4,200.7 1664.1,204.7 1657.2,204.9" fill="#752c8e"/><path d="M1643.7,201.2 1650.5,201.0 1657.2,204.9 1650.3,205.1" fill="#772c8e"/><path d="M1636.9,201.5 1643.7,201.2 1650.3,205.1 1643.5,205.6" fill="#782b8e"/><path d="M1630.1,202.0 1636.9,201.5 1643.5,205.6 1636.7,206.2" fill="#7a2b8e"/><path d="M1623.4,202.4 1630.1,202.0 1636.7,206.2 1630.0,206.7" fill="#7c2b8e"/><path d="M1616.7,202.8 1623.4,202.4 1630.0,206.7 1623.3,207.3" fill="#7e2b8e"/><path d="M1610.0,203.3 1616.7,202.8 1623.3,207.3 1616.6,207.9" fill="#802b8e"/><path d="M1603.3,203.7 1610.0,203.3 1616.6,207.9 1609.9,208.5" fill="#832b8d"/><path d="M1596.6,204.1 1603.3,203.7 1609.9,208.5 1603.2,209.0" fill="#852b8d"/><path d="M1589.9,204.5 1596.6,204.1 1603.2,209.0 1596.5,209.4" fill="#872b8d"/><path d="M1583.2,204.8 1589.9,204.5 1596.5,209.4 1589.8,209.9" fill="#892b8d"/><path d="M1576.5,205.2 1583.2,204.8 1589.8,209.9 1583.1,210.4" fill="#8b2b8c"/><path d="M1569.8,205.4 1576.5,205.2 1583.1,210.4 1576.3,210.8" fill="#8e2b8c"/><path d="M1563.1,205.4 1569.8,205.4 1576.3,210.8 1569.6,210.9" fill="#902a8b"/><path d="M1556.3,205.2 1563.1,205.4 1569.6,210.9 1562.9,210.6" fill="#922a8a"/><path d="M1549.6,205.0 1556.3,205.2 1562.9,210.6 1556.1,210.3" fill="#962a89"/><path d="M1542.9,204.8 1549.6,205.0 1556.1,210.3 1549.4,210.0" fill="#992a88"/><path d="M1536.2,204.7 1542.9,204.8 1549.4,210.0 1542.7,209.7" fill="#9e2a85"/><path d="M1529.7,204.7 1536.2,204.7 1542.7,209.7 1536.3,209.7" fill="#a22981"/><path d="M1523.3,204.7 1529.7,204.7 1536.3,209.7 1530.0,209.6" fill="#a6297e"/><path d="M1516.9,204.6 1523.3,204.7 1530.0,209.6 1523.7,209.4" fill="#ab297a"/><path d="M1510.5,204.5 1516.9,204.6 1523.7,209.4 1517.3,209.1" fill="#af2976"/><path d="M1504.1,204.3 1510.5,204.5 1517.3,209.1 1511.0,208.9" fill="#b42972"/><path d="M1497.7,204.2 1504.1,204.3 1511.0,208.9 1504.8,208.6" fill="#b9296e"/><path d="M1491.5,204.1 1497.7,204.2 1504.8,208.6 1498.6,208.4" fill="#bc2a6b"/><path d="M1485.2,204.0 1491.5,204.1 1498.6,208.4 1492.5,208.2" fill="#bf2c68"/><path d="M1479.0,203.9 1485.2,204.0 1492.5,208.2 1486.4,208.0" fill="#c12f64"/><path d="M1472.7,203.7 1479.0,203.9 1486.4,208.0 1480.3,207.7" fill="#c43161"/><path d="M1466.5,203.5 1472.7,203.7 1480.3,207.7 1474.2,207.4" fill="#c7335e"/><path d="M1459.9,203.2 1466.5,203.5 1474.2,207.4 1467.7,206.8" fill="#c9355b"/><path d="M1453.4,202.7 1459.9,203.2 1467.7,206.8 1461.1,206.3" fill="#cc3758"/><path d="M1446.8,202.2 1453.4,202.7 1461.1,206.3 1454.6,205.7" fill="#cd3b56"/><path d="M1440.2,201.9 1446.8,202.2 1454.6,205.7 1448.1,205.6" fill="#d04055"/><path d="M1433.7,201.7 1440.2,201.9 1448.1,205.6 1441.6,206.0" fill="#d44454"/><path d="M1427.0,201.5 1433.7,201.7 1441.6,206.0 1434.8,205.9" fill="#d64753"/><path d="M1420.1,201.1 1427.0,201.5 1434.8,205.9 1427.9,205.3" fill="#d74b52"/><path d="M1413.2,200.8 1420.1,201.1 1427.9,205.3 1420.9,205.2" fill="#d94e51"/><path d="M1406.3,200.3 1413.2,200.8 1420.9,205.2 1414.0,205.0" fill="#dc5250"/><path d="M1399.4,199.6 1406.3,200.3 1414.0,205.0 1407.0,204.8" fill="#de564f"/><path d="M1392.3,198.8 1399.4,199.6 1407.0,204.8 1399.9,204.3" fill="#e15a4e"/><path d="M1385.1,197.7 1392.3,198.8 1399.9,204.3 1392.4,203.3" fill="#e25f4d"/><path d="M1377.8,196.5 1385.1,197.7 1392.4,203.3 1385.0,202.3" fill="#e4644c"/><path d="M1370.5,195.1 1377.8,196.5 1385.0,202.3 1377.5,201.1" fill="#e6694a"/><path d="M1363.2,193.1 1370.5,195.1 1377.5,201.1 1370.0,199.7" fill="#e76f49"/><path d="M1355.9,190.8 1363.2,193.1 1370.0,199.7 1362.6,197.6" fill="#e97547"/><path d="M1348.6,188.3 1355.9,190.8 1362.6,197.6 1355.0,195.3" fill="#ea7b45"/><path d="M1341.0,185.4 1348.6,188.3 1355.0,195.3 1347.1,192.4" fill="#eb8144"/><path d="M1333.3,181.9 1341.0,185.4 1347.1,192.4 1339.2,189.1" fill="#ea8641"/><path d="M1325.7,177.8 1333.3,181.9 1339.2,189.1 1331.3,185.4" fill="#e98c3f"/><path d="M1318.1,173.5 1325.7,177.8 1331.3,185.4 1323.4,181.4" fill="#ea943d"/><path d="M1310.6,169.6 1318.1,173.5 1323.4,181.4 1315.6,177.3" fill="#eb9c3c"/><path d="M1303.4,166.4 1310.6,169.6 1315.6,177.3 1308.2,173.7" fill="#eda53b"/><path d="M1296.1,164.3 1303.4,166.4 1308.2,173.7 1300.8,171.1" fill="#f3b03b"/><path d="M1288.9,162.2 1296.1,164.3 1300.8,171.1 1293.4,168.5" fill="#f4b73a"/><path d="M1281.6,161.5 1288.9,162.2 1293.4,168.5 1286.0,167.4" fill="#fbc03b"/><path d="M1274.4,160.5 1281.6,161.5 1286.0,167.4 1278.5,166.2" fill="#fbc33a"/><path d="M1267.1,159.1 1274.4,160.5 1278.5,166.2 1271.1,163.9" fill="#f9c63a"/><path d="M1259.9,154.4 1267.1,159.1 1271.1,163.9 1263.7,163.7" fill="#f1c940"/><path d="M1252.7,153.2 1259.9,154.4 1263.7,163.7 1256.3,163.0" fill="#e8c944"/><path d="M1244.2,148.8 1252.7,153.2 1256.3,163.0 1247.7,158.3" fill="#e5cf4b"/><path d="M1232.9,141.3 1244.2,148.8 1247.7,158.3 1236.6,150.0" fill="#e8dd5c"/><path d="M1221.7,134.0 1232.9,141.3 1236.6,150.0 1225.5,141.9" fill="#eee57a"/><path d="M1210.4,126.4 1221.7,134.0 1225.5,141.9 1214.4,133.3" fill="#f2ec98"/><path d="M1712.3,209.7 1719.2,212.5 1726.0,222.3 1719.1,218.8" fill="#5a3694"/><path d="M1705.4,206.9 1712.3,209.7 1719.1,218.8 1712.2,215.3" fill="#603191"/><path d="M1698.5,204.2 1705.4,206.9 1712.2,215.3 1705.2,211.8" fill="#662d8e"/><path d="M1691.6,204.0 1698.5,204.2 1705.2,211.8 1698.3,210.8" fill="#6f2f94"/><path d="M1684.8,204.2 1691.6,204.0 1698.3,210.8 1691.4,210.7" fill="#722f94"/><path d="M1677.9,204.4 1684.8,204.2 1691.4,210.7 1684.4,210.6" fill="#742e94"/><path d="M1671.0,204.5 1677.9,204.4 1684.4,210.6 1677.5,210.5" fill="#752e93"/><path d="M1664.1,204.7 1671.0,204.5 1677.5,210.5 1670.6,210.4" fill="#772d92"/><path d="M1657.2,204.9 1664.1,204.7 1670.6,210.4 1663.7,210.3" fill="#782d91"/><path d="M1650.3,205.1 1657.2,204.9 1663.7,210.3 1656.7,210.2" fill="#7a2c90"/><path d="M1643.5,205.6 1650.3,205.1 1656.7,210.2 1649.8,210.5" fill="#7c2c90"/><path d="M1636.7,206.2 1643.5,205.6 1649.8,210.5 1643.1,211.2" fill="#7d2c90"/><path d="M1630.0,206.7 1636.7,206.2 1643.1,211.2 1636.4,211.8" fill="#7f2c8f"/><path d="M1623.3,207.3 1630.0,206.7 1636.4,211.8 1629.7,212.5" fill="#812c8f"/><path d="M1616.6,207.9 1623.3,207.3 1629.7,212.5 1623.0,213.2" fill="#832c8f"/><path d="M1609.9,208.5 1616.6,207.9 1623.0,213.2 1616.2,213.9" fill="#842c8f"/><path d="M1603.2,209.0 1609.9,208.5 1616.2,213.9 1609.5,214.4" fill="#862b8e"/><path d="M1596.5,209.4 1603.2,209.0 1609.5,214.4 1602.8,215.0" fill="#882b8e"/><path d="M1589.8,209.9 1596.5,209.4 1602.8,215.0 1596.1,215.5" fill="#8a2b8e"/><path d="M1583.1,210.4 1589.8,209.9 1596.1,215.5 1589.4,216.0" fill="#8c2b8e"/><path d="M1576.3,210.8 1583.1,210.4 1589.4,216.0 1582.6,216.5" fill="#8e2b8d"/><path d="M1569.6,210.9 1576.3,210.8 1582.6,216.5 1575.9,216.6" fill="#902b8c"/><path d="M1562.9,210.6 1569.6,210.9 1575.9,216.6 1569.1,216.3" fill="#922a8b"/><path d="M1556.1,210.3 1562.9,210.6 1569.1,216.3 1562.4,215.9" fill="#962a8a"/><path d="M1549.4,210.0 1556.1,210.3 1562.4,215.9 1555.7,215.5" fill="#992a89"/><path d="M1542.7,209.7 1549.4,210.0 1555.7,215.5 1548.9,215.1" fill="#9e2a85"/><path d="M1536.3,209.7 1542.7,209.7 1548.9,215.1 1542.6,215.3" fill="#a32a82"/><path d="M1530.0,209.6 1536.3,209.7 1542.6,215.3 1536.4,215.4" fill="#a72a7f"/><path d="M1523.7,209.4 1530.0,209.6 1536.4,215.4 1530.1,215.5" fill="#ac2a7b"/><path d="M1517.3,209.1 1523.7,209.4 1530.1,215.5 1523.9,215.6" fill="#b22a78"/><path d="M1511.0,208.9 1517.3,209.1 1523.9,215.6 1517.7,215.8" fill="#b72a75"/><path d="M1504.8,208.6 1511.0,208.9 1517.7,215.8 1511.5,216.1" fill="#bd2a72"/><path d="M1498.6,208.4 1504.8,208.6 1511.5,216.1 1505.5,216.9" fill="#c12b6f"/><path d="M1492.5,208.2 1498.6,208.4 1505.5,216.9 1499.6,217.7" fill="#c32d6c"/><path d="M1486.4,208.0 1492.5,208.2 1499.6,217.7 1493.6,218.6" fill="#c52e69"/><path d="M1480.3,207.7 1486.4,208.0 1493.6,218.6 1487.6,219.5" fill="#c63066"/><path d="M1474.2,207.4 1480.3,207.7 1487.6,219.5 1481.6,220.5" fill="#c73163"/><path d="M1467.7,206.8 1474.2,207.4 1481.6,220.5 1475.1,220.6" fill="#c93360"/><path d="M1461.1,206.3 1467.7,206.8 1475.1,220.6 1468.6,220.8" fill="#ca355d"/><path d="M1454.6,205.7 1461.1,206.3 1468.6,220.8 1462.1,220.9" fill="#cc375a"/><path d="M1448.1,205.6 1454.6,205.7 1462.1,220.9 1455.6,221.2" fill="#ce3958"/><path d="M1441.6,206.0 1448.1,205.6 1455.6,221.2 1449.2,221.4" fill="#d03c57"/><path d="M1434.8,205.9 1441.6,206.0 1449.2,221.4 1442.4,221.2" fill="#d13f56"/><path d="M1427.9,205.3 1434.8,205.9 1442.4,221.2 1435.4,220.3" fill="#d34354"/><path d="M1420.9,205.2 1427.9,205.3 1435.4,220.3 1428.4,219.5" fill="#d64753"/><path d="M1414.0,205.0 1420.9,205.2 1428.4,219.5 1421.4,218.6" fill="#d94b52"/><path d="M1407.0,204.8 1414.0,205.0 1421.4,218.6 1414.3,217.8" fill="#dc4f51"/><path d="M1399.9,204.3 1407.0,204.8 1414.3,217.8 1407.1,216.5" fill="#df5450"/><path d="M1392.4,203.3 1399.9,204.3 1407.1,216.5 1399.5,214.3" fill="#e2594f"/><path d="M1385.0,202.3 1392.4,203.3 1399.5,214.3 1391.8,212.1" fill="#e55f4e"/><path d="M1377.5,201.1 1385.0,202.3 1391.8,212.1 1384.2,209.9" fill="#e7654d"/><path d="M1370.0,199.7 1377.5,201.1 1384.2,209.9 1376.6,207.8" fill="#e96b4b"/><path d="M1362.6,197.6 1370.0,199.7 1376.6,207.8 1368.9,205.2" fill="#e97148"/><path d="M1355.0,195.3 1362.6,197.6 1368.9,205.2 1361.1,202.1" fill="#e97846"/><path d="M1347.1,192.4 1355.0,195.3 1361.1,202.1 1353.0,199.1" fill="#eb7f45"/><path d="M1339.2,189.1 1347.1,192.4 1353.0,199.1 1344.8,196.1" fill="#ec8443"/><path d="M1331.3,185.4 1339.2,189.1 1344.8,196.1 1336.6,192.7" fill="#ec8a41"/><path d="M1323.4,181.4 1331.3,185.4 1336.6,192.7 1328.5,188.9" fill="#ec903f"/><path d="M1315.6,177.3 1323.4,181.4 1328.5,188.9 1320.5,185.0" fill="#ec973d"/><path d="M1308.2,173.7 1315.6,177.3 1320.5,185.0 1312.9,181.9" fill="#ec9f3c"/><path d="M1300.8,171.1 1308.2,173.7 1312.9,181.9 1305.3,179.5" fill="#efa73b"/><path d="M1293.4,168.5 1300.8,171.1 1305.3,179.5 1297.7,177.1" fill="#efac3a"/><path d="M1286.0,167.4 1293.4,168.5 1297.7,177.1 1290.1,175.9" fill="#f1b23a"/><path d="M1278.5,166.2 1286.0,167.4 1290.1,175.9 1282.5,174.7" fill="#f1b539"/><path d="M1271.1,163.9 1278.5,166.2 1282.5,174.7 1275.0,174.3" fill="#ecb538"/><path d="M1263.7,163.7 1271.1,163.9 1275.0,174.3 1267.4,175.0" fill="#e7b336"/><path d="M1256.3,163.0 1263.7,163.7 1267.4,175.0 1259.8,174.0" fill="#e4b335"/><path d="M1247.7,158.3 1256.3,163.0 1259.8,174.0 1251.2,168.6" fill="#e3ba39"/><path d="M1236.6,150.0 1247.7,158.3 1251.2,168.6 1240.2,159.4" fill="#e5cb47"/><path d="M1225.5,141.9 1236.6,150.0 1240.2,159.4 1229.2,150.6" fill="#e8dd5c"/><path d="M1214.4,133.3 1225.5,141.9 1229.2,150.6 1218.3,141.0" fill="#ece47e"/><path d="M1719.1,218.8 1726.0,222.3 1732.6,232.6 1725.6,229.4" fill="#533a97"/><path d="M1712.2,215.3 1719.1,218.8 1725.6,229.4 1718.6,226.2" fill="#593693"/><path d="M1705.2,211.8 1712.2,215.3 1718.6,226.2 1711.7,223.0" fill="#5f3190"/><path d="M1698.3,210.8 1705.2,211.8 1711.7,223.0 1704.7,221.1" fill="#672f92"/><path d="M1691.4,210.7 1698.3,210.8 1704.7,221.1 1697.7,220.8" fill="#6c2f94"/><path d="M1684.4,210.6 1691.4,210.7 1697.7,220.8 1690.7,220.5" fill="#6e2f93"/><path d="M1677.5,210.5 1684.4,210.6 1690.7,220.5 1683.8,220.2" fill="#702e93"/><path d="M1670.6,210.4 1677.5,210.5 1683.8,220.2 1676.8,220.1" fill="#732e92"/><path d="M1663.7,210.3 1670.6,210.4 1676.8,220.1 1669.8,219.9" fill="#742d92"/><path d="M1656.7,210.2 1663.7,210.3 1669.8,219.9 1662.9,219.8" fill="#762d91"/><path d="M1649.8,210.5 1656.7,210.2 1662.9,219.8 1655.9,219.9" fill="#782d91"/><path d="M1643.1,211.2 1649.8,210.5 1655.9,219.9 1649.2,220.4" fill="#7a2c91"/><path d="M1636.4,211.8 1643.1,211.2 1649.2,220.4 1642.5,220.9" fill="#7b2c91"/><path d="M1629.7,212.5 1636.4,211.8 1642.5,220.9 1635.7,221.6" fill="#7d2c90"/><path d="M1623.0,213.2 1629.7,212.5 1635.7,221.6 1629.0,222.2" fill="#7e2c90"/><path d="M1616.2,213.9 1623.0,213.2 1629.0,222.2 1622.3,222.9" fill="#802c90"/><path d="M1609.5,214.4 1616.2,213.9 1622.3,222.9 1615.6,223.4" fill="#812c8f"/><path d="M1602.8,215.0 1609.5,214.4 1615.6,223.4 1608.9,224.0" fill="#832c8f"/><path d="M1596.1,215.5 1602.8,215.0 1608.9,224.0 1602.2,224.5" fill="#852b8e"/><path d="M1589.4,216.0 1596.1,215.5 1602.2,224.5 1595.4,224.9" fill="#872b8e"/><path d="M1582.6,216.5 1589.4,216.0 1595.4,224.9 1588.7,225.3" fill="#892b8e"/><path d="M1575.9,216.6 1582.6,216.5 1588.7,225.3 1581.9,225.4" fill="#8b2b8d"/><path d="M1569.1,216.3 1575.9,216.6 1581.9,225.4 1575.2,225.3" fill="#8d2b8c"/><path d="M1562.4,215.9 1569.1,216.3 1575.2,225.3 1568.4,225.1" fill="#902a8b"/><path d="M1555.7,215.5 1562.4,215.9 1568.4,225.1 1561.7,224.5" fill="#942a89"/><path d="M1548.9,215.1 1555.7,215.5 1561.7,224.5 1554.9,224.0" fill="#982a89"/><path d="M1542.6,215.3 1548.9,215.1 1554.9,224.0 1548.7,224.3" fill="#9c2a86"/><path d="M1536.4,215.4 1542.6,215.3 1548.7,224.3 1542.5,224.5" fill="#a02a83"/><path d="M1530.1,215.5 1536.4,215.4 1542.5,224.5 1536.4,224.7" fill="#a5297f"/><path d="M1523.9,215.6 1530.1,215.5 1536.4,224.7 1530.2,225.0" fill="#aa2a7c"/><path d="M1517.7,215.8 1523.9,215.6 1530.2,225.0 1524.1,225.7" fill="#ae2a7a"/><path d="M1511.5,216.1 1517.7,215.8 1524.1,225.7 1518.0,226.5" fill="#b12977"/><path d="M1505.5,216.9 1511.5,216.1 1518.0,226.5 1512.1,227.8" fill="#b42974"/><path d="M1499.6,217.7 1505.5,216.9 1512.1,227.8 1506.3,229.2" fill="#b72972"/><path d="M1493.6,218.6 1499.6,217.7 1506.3,229.2 1500.4,230.7" fill="#b92970"/><path d="M1487.6,219.5 1493.6,218.6 1500.4,230.7 1494.6,232.2" fill="#bb296e"/><path d="M1481.6,220.5 1487.6,219.5 1494.6,232.2 1488.7,233.8" fill="#bc296c"/><path d="M1475.1,220.6 1481.6,220.5 1488.7,233.8 1482.2,234.4" fill="#bd2a6b"/><path d="M1468.6,220.8 1475.1,220.6 1482.2,234.4 1475.8,234.9" fill="#be2c68"/><path d="M1462.1,220.9 1468.6,220.8 1475.8,234.9 1469.3,235.6" fill="#bf2d66"/><path d="M1455.6,221.2 1462.1,220.9 1469.3,235.6 1462.9,236.2" fill="#c12e64"/><path d="M1449.2,221.4 1455.6,221.2 1462.9,236.2 1456.4,236.3" fill="#c23062"/><path d="M1442.4,221.2 1449.2,221.4 1456.4,236.3 1449.7,235.8" fill="#c53160"/><path d="M1435.4,220.3 1442.4,221.2 1449.7,235.8 1442.6,234.7" fill="#c8345d"/><path d="M1428.4,219.5 1435.4,220.3 1442.6,234.7 1435.5,233.5" fill="#cc365b"/><path d="M1421.4,218.6 1428.4,219.5 1435.5,233.5 1428.4,232.4" fill="#cf3a58"/><path d="M1414.3,217.8 1421.4,218.6 1428.4,232.4 1421.4,231.2" fill="#d23e57"/><path d="M1407.1,216.5 1414.3,217.8 1421.4,231.2 1414.1,229.5" fill="#d44355"/><path d="M1399.5,214.3 1407.1,216.5 1414.1,229.5 1406.3,226.9" fill="#d74953"/><path d="M1391.8,212.1 1399.5,214.3 1406.3,226.9 1398.5,224.3" fill="#da5050"/><path d="M1384.2,209.9 1391.8,212.1 1398.5,224.3 1390.7,221.7" fill="#de564e"/><path d="M1376.6,207.8 1384.2,209.9 1390.7,221.7 1382.8,219.2" fill="#e05d4c"/><path d="M1368.9,205.2 1376.6,207.8 1382.8,219.2 1375.0,216.4" fill="#e2654a"/><path d="M1361.1,202.1 1368.9,205.2 1375.0,216.4 1367.1,213.0" fill="#e46d48"/><path d="M1353.0,199.1 1361.1,202.1 1367.1,213.0 1358.6,208.8" fill="#e87746"/><path d="M1344.8,196.1 1353.0,199.1 1358.6,208.8 1350.2,204.5" fill="#ea7e44"/><path d="M1336.6,192.7 1344.8,196.1 1350.2,204.5 1341.8,200.1" fill="#eb8543"/><path d="M1328.5,188.9 1336.6,192.7 1341.8,200.1 1333.3,196.1" fill="#ec8c41"/><path d="M1320.5,185.0 1328.5,188.9 1333.3,196.1 1325.1,192.5" fill="#ed923f"/><path d="M1312.9,181.9 1320.5,185.0 1325.1,192.5 1317.3,189.7" fill="#ee993d"/><path d="M1305.3,179.5 1312.9,181.9 1317.3,189.7 1309.6,187.6" fill="#f0a03d"/><path d="M1297.7,177.1 1305.3,179.5 1309.6,187.6 1301.9,185.3" fill="#efa43c"/><path d="M1290.1,175.9 1297.7,177.1 1301.9,185.3 1294.1,184.1" fill="#f0a93b"/><path d="M1282.5,174.7 1290.1,175.9 1294.1,184.1 1286.4,184.1" fill="#eeaa3a"/><path d="M1275.0,174.3 1282.5,174.7 1286.4,184.1 1278.6,187.3" fill="#e3a337"/><path d="M1267.4,175.0 1275.0,174.3 1278.6,187.3 1270.9,187.4" fill="#dd9e36"/><path d="M1259.8,174.0 1267.4,175.0 1270.9,187.4 1263.2,185.7" fill="#dda036"/><path d="M1251.2,168.6 1259.8,174.0 1263.2,185.7 1254.5,179.6" fill="#dfa735"/><path d="M1240.2,159.4 1251.2,168.6 1254.5,179.6 1243.7,169.6" fill="#e4b635"/><path d="M1229.2,150.6 1240.2,159.4 1243.7,169.6 1232.8,159.9" fill="#e5cc47"/><path d="M1218.3,141.0 1229.2,150.6 1232.8,159.9 1222.0,149.3" fill="#e7dd61"/><path d="M1725.6,229.4 1732.6,232.6 1738.8,242.4 1731.8,239.5" fill="#4d429d"/><path d="M1718.6,226.2 1725.6,229.4 1731.8,239.5 1724.8,236.6" fill="#523c98"/><path d="M1711.7,223.0 1718.6,226.2 1724.8,236.6 1717.8,233.7" fill="#583795"/><path d="M1704.7,221.1 1711.7,223.0 1717.8,233.7 1710.8,231.0" fill="#5f3494"/><path d="M1697.7,220.8 1704.7,221.1 1710.8,231.0 1703.8,230.5" fill="#653397"/><path d="M1690.7,220.5 1697.7,220.8 1703.8,230.5 1696.8,230.0" fill="#673196"/><path d="M1683.8,220.2 1690.7,220.5 1696.8,230.0 1689.8,229.6" fill="#6a3095"/><path d="M1676.8,220.1 1683.8,220.2 1689.8,229.6 1682.8,229.4" fill="#6c2f94"/><path d="M1669.8,219.9 1676.8,220.1 1682.8,229.4 1675.7,229.2" fill="#6e2f94"/><path d="M1662.9,219.8 1669.8,219.9 1675.7,229.2 1668.7,229.0" fill="#702e93"/><path d="M1655.9,219.9 1662.9,219.8 1668.7,229.0 1661.7,228.9" fill="#722e93"/><path d="M1649.2,220.4 1655.9,219.9 1661.7,228.9 1655.0,229.2" fill="#742e93"/><path d="M1642.5,220.9 1649.2,220.4 1655.0,229.2 1648.3,229.7" fill="#752e92"/><path d="M1635.7,221.6 1642.5,220.9 1648.3,229.7 1641.6,230.3" fill="#772d92"/><path d="M1629.0,222.2 1635.7,221.6 1641.6,230.3 1634.8,230.9" fill="#782d92"/><path d="M1622.3,222.9 1629.0,222.2 1634.8,230.9 1628.1,231.5" fill="#792d91"/><path d="M1615.6,223.4 1622.3,222.9 1628.1,231.5 1621.4,232.1" fill="#7a2d91"/><path d="M1608.9,224.0 1615.6,223.4 1621.4,232.1 1614.7,232.6" fill="#7b2c91"/><path d="M1602.2,224.5 1608.9,224.0 1614.7,232.6 1608.0,233.0" fill="#7d2c90"/><path d="M1595.4,224.9 1602.2,224.5 1608.0,233.0 1601.2,233.4" fill="#7f2c90"/><path d="M1588.7,225.3 1595.4,224.9 1601.2,233.4 1594.5,233.6" fill="#812c8f"/><path d="M1581.9,225.4 1588.7,225.3 1594.5,233.6 1587.7,233.8" fill="#832c8f"/><path d="M1575.2,225.3 1581.9,225.4 1587.7,233.8 1580.9,233.9" fill="#852b8e"/><path d="M1568.4,225.1 1575.2,225.3 1580.9,233.9 1574.2,233.9" fill="#882b8d"/><path d="M1561.7,224.5 1568.4,225.1 1574.2,233.9 1567.4,233.2" fill="#8b2a8b"/><path d="M1554.9,224.0 1561.7,224.5 1567.4,233.2 1560.6,232.6" fill="#8f2a8a"/><path d="M1548.7,224.3 1554.9,224.0 1560.6,232.6 1554.5,232.8" fill="#932a8a"/><path d="M1542.5,224.5 1548.7,224.3 1554.5,232.8 1548.4,233.1" fill="#962a89"/><path d="M1536.4,224.7 1542.5,224.5 1548.4,233.1 1542.3,233.4" fill="#9a2987"/><path d="M1530.2,225.0 1536.4,224.7 1542.3,233.4 1536.2,234.1" fill="#9f2a85"/><path d="M1524.1,225.7 1530.2,225.0 1536.2,234.1 1530.2,235.2" fill="#a22a83"/><path d="M1518.0,226.5 1524.1,225.7 1530.2,235.2 1524.2,236.5" fill="#a52a81"/><path d="M1512.1,227.8 1518.0,226.5 1524.2,236.5 1518.5,238.3" fill="#a62a7f"/><path d="M1506.3,229.2 1512.1,227.8 1518.5,238.3 1512.7,240.0" fill="#a8297d"/><path d="M1500.4,230.7 1506.3,229.2 1512.7,240.0 1507.0,241.8" fill="#a9297c"/><path d="M1494.6,232.2 1500.4,230.7 1507.0,241.8 1501.3,243.7" fill="#ab297b"/><path d="M1488.7,233.8 1494.6,232.2 1501.3,243.7 1495.5,245.7" fill="#ab297a"/><path d="M1482.2,234.4 1488.7,233.8 1495.5,245.7 1489.1,246.6" fill="#ad2979"/><path d="M1475.8,234.9 1482.2,234.4 1489.1,246.6 1482.7,247.6" fill="#af2977"/><path d="M1469.3,235.6 1475.8,234.9 1482.7,247.6 1476.2,248.6" fill="#b12975"/><path d="M1462.9,236.2 1469.3,235.6 1476.2,248.6 1469.8,249.6" fill="#b22973"/><path d="M1456.4,236.3 1462.9,236.2 1469.8,249.6 1463.4,250.2" fill="#b42970"/><path d="M1449.7,235.8 1456.4,236.3 1463.4,250.2 1456.7,250.2" fill="#b7286d"/><path d="M1442.6,234.7 1449.7,235.8 1456.7,250.2 1449.5,249.3" fill="#ba2a69"/><path d="M1435.5,233.5 1442.6,234.7 1449.5,249.3 1442.4,248.0" fill="#bd2c66"/><path d="M1428.4,232.4 1435.5,233.5 1442.4,248.0 1435.2,246.5" fill="#c02f63"/><path d="M1421.4,231.2 1428.4,232.4 1435.2,246.5 1428.1,244.9" fill="#c4325f"/><path d="M1414.1,229.5 1421.4,231.2 1428.1,244.9 1420.7,242.8" fill="#c9355c"/><path d="M1406.3,226.9 1414.1,229.5 1420.7,242.8 1412.8,239.4" fill="#ce3958"/><path d="M1398.5,224.3 1406.3,226.9 1412.8,239.4 1404.8,236.0" fill="#d24055"/><path d="M1390.7,221.7 1398.5,224.3 1404.8,236.0 1396.8,232.9" fill="#d74853"/><path d="M1382.8,219.2 1390.7,221.7 1396.8,232.9 1388.9,230.0" fill="#da4f51"/><path d="M1375.0,216.4 1382.8,219.2 1388.9,230.0 1380.9,227.0" fill="#dd564e"/><path d="M1367.1,213.0 1375.0,216.4 1380.9,227.0 1372.7,223.5" fill="#df5e4b"/><path d="M1358.6,208.8 1367.1,213.0 1372.7,223.5 1364.0,219.0" fill="#e26849"/><path d="M1350.2,204.5 1358.6,208.8 1364.0,219.0 1355.3,214.3" fill="#e57246"/><path d="M1341.8,200.1 1350.2,204.5 1355.3,214.3 1346.7,209.7" fill="#e67b44"/><path d="M1333.3,196.1 1341.8,200.1 1346.7,209.7 1338.0,204.9" fill="#e88242"/><path d="M1325.1,192.5 1333.3,196.1 1338.0,204.9 1329.5,200.4" fill="#ea8a40"/><path d="M1317.3,189.7 1325.1,192.5 1329.5,200.4 1321.6,197.4" fill="#ec913f"/><path d="M1309.6,187.6 1317.3,189.7 1321.6,197.4 1313.7,195.3" fill="#ef983e"/><path d="M1301.9,185.3 1309.6,187.6 1313.7,195.3 1305.8,193.2" fill="#ee9c3d"/><path d="M1294.1,184.1 1301.9,185.3 1305.8,193.2 1297.9,193.7" fill="#ec9e3c"/><path d="M1286.4,184.1 1294.1,184.1 1297.9,193.7 1290.1,199.7" fill="#dc9138"/><path d="M1278.6,187.3 1286.4,184.1 1290.1,199.7 1282.2,201.5" fill="#d58937"/><path d="M1270.9,187.4 1278.6,187.3 1282.2,201.5 1274.3,200.5" fill="#d68a37"/><path d="M1263.2,185.7 1270.9,187.4 1274.3,200.5 1266.4,197.9" fill="#d78d37"/><path d="M1254.5,179.6 1263.2,185.7 1266.4,197.9 1257.7,191.2" fill="#d99536"/><path d="M1243.7,169.6 1254.5,179.6 1257.7,191.2 1246.9,180.3" fill="#dfa436"/><path d="M1232.8,159.9 1243.7,169.6 1246.9,180.3 1236.2,169.8" fill="#e5b736"/><path d="M1222.0,149.3 1232.8,159.9 1236.2,169.8 1225.5,158.2" fill="#e4ce4a"/><path d="M1731.8,239.5 1738.8,242.4 1744.8,252.9 1737.8,249.6" fill="#4648a1"/><path d="M1724.8,236.6 1731.8,239.5 1737.8,249.6 1730.7,246.4" fill="#4c439d"/><path d="M1717.8,233.7 1724.8,236.6 1730.7,246.4 1723.7,243.2" fill="#513d99"/><path d="M1710.8,231.0 1717.8,233.7 1723.7,243.2 1716.6,240.1" fill="#573997"/><path d="M1703.8,230.5 1710.8,231.0 1716.6,240.1 1709.6,239.4" fill="#5f389a"/><path d="M1696.8,230.0 1703.8,230.5 1709.6,239.4 1702.5,238.9" fill="#613699"/><path d="M1689.8,229.6 1696.8,230.0 1702.5,238.9 1695.5,238.5" fill="#643498"/><path d="M1682.8,229.4 1689.8,229.6 1695.5,238.5 1688.4,238.3" fill="#663397"/><path d="M1675.7,229.2 1682.8,229.4 1688.4,238.3 1681.4,238.0" fill="#683196"/><path d="M1668.7,229.0 1675.7,229.2 1681.4,238.0 1674.3,237.8" fill="#6a3095"/><path d="M1661.7,228.9 1668.7,229.0 1674.3,237.8 1667.3,237.6" fill="#6c2f95"/><path d="M1655.0,229.2 1661.7,228.9 1667.3,237.6 1660.5,237.8" fill="#6e2f94"/><path d="M1648.3,229.7 1655.0,229.2 1660.5,237.8 1653.8,238.3" fill="#6f2f94"/><path d="M1641.6,230.3 1648.3,229.7 1653.8,238.3 1647.1,238.8" fill="#712e94"/><path d="M1634.8,230.9 1641.6,230.3 1647.1,238.8 1640.4,239.4" fill="#722e93"/><path d="M1628.1,231.5 1634.8,230.9 1640.4,239.4 1633.7,240.0" fill="#732e93"/><path d="M1621.4,232.1 1628.1,231.5 1633.7,240.0 1626.9,240.6" fill="#742e93"/><path d="M1614.7,232.6 1621.4,232.1 1626.9,240.6 1620.2,241.2" fill="#752d92"/><path d="M1608.0,233.0 1614.7,232.6 1620.2,241.2 1613.5,241.6" fill="#762d91"/><path d="M1601.2,233.4 1608.0,233.0 1613.5,241.6 1606.8,241.8" fill="#782d91"/><path d="M1594.5,233.6 1601.2,233.4 1606.8,241.8 1600.0,242.1" fill="#792c90"/><path d="M1587.7,233.8 1594.5,233.6 1600.0,242.1 1593.2,242.2" fill="#7b2c90"/><path d="M1580.9,233.9 1587.7,233.8 1593.2,242.2 1586.4,242.4" fill="#7d2c8f"/><path d="M1574.2,233.9 1580.9,233.9 1586.4,242.4 1579.7,242.4" fill="#802b8e"/><path d="M1567.4,233.2 1574.2,233.9 1579.7,242.4 1572.9,241.7" fill="#822b8c"/><path d="M1560.6,232.6 1567.4,233.2 1572.9,241.7 1566.1,241.0" fill="#862b8b"/><path d="M1554.5,232.8 1560.6,232.6 1566.1,241.0 1560.0,241.4" fill="#8a2a8b"/><path d="M1548.4,233.1 1554.5,232.8 1560.0,241.4 1554.0,241.8" fill="#8d2a8a"/><path d="M1542.3,233.4 1548.4,233.1 1554.0,241.8 1548.0,242.2" fill="#912a89"/><path d="M1536.2,234.1 1542.3,233.4 1548.0,242.2 1542.0,243.0" fill="#942a89"/><path d="M1530.2,235.2 1536.2,234.1 1542.0,243.0 1536.0,244.2" fill="#972a8a"/><path d="M1524.2,236.5 1530.2,235.2 1536.0,244.2 1530.1,245.6" fill="#992a89"/><path d="M1518.5,238.3 1524.2,236.5 1530.1,245.6 1524.5,247.4" fill="#9a2a89"/><path d="M1512.7,240.0 1518.5,238.3 1524.5,247.4 1518.9,249.2" fill="#9c2a88"/><path d="M1507.0,241.8 1512.7,240.0 1518.9,249.2 1513.3,251.6" fill="#9d2a87"/><path d="M1501.3,243.7 1507.0,241.8 1513.3,251.6 1507.6,254.0" fill="#9d2a87"/><path d="M1495.5,245.7 1501.3,243.7 1507.6,254.0 1502.0,256.5" fill="#9d2a86"/><path d="M1489.1,246.6 1495.5,245.7 1502.0,256.5 1495.6,257.9" fill="#9d2a86"/><path d="M1482.7,247.6 1489.1,246.6 1495.6,257.9 1489.2,259.2" fill="#9e2984"/><path d="M1476.2,248.6 1482.7,247.6 1489.2,259.2 1482.8,260.6" fill="#9f2983"/><path d="M1469.8,249.6 1476.2,248.6 1482.8,260.6 1476.5,262.1" fill="#9f2981"/><path d="M1463.4,250.2 1469.8,249.6 1476.5,262.1 1470.1,263.4" fill="#a0297f"/><path d="M1456.7,250.2 1463.4,250.2 1470.1,263.4 1463.3,264.0" fill="#a1297d"/><path d="M1449.5,249.3 1456.7,250.2 1463.3,264.0 1456.1,263.6" fill="#a42879"/><path d="M1442.4,248.0 1449.5,249.3 1456.1,263.6 1448.9,262.2" fill="#a82874"/><path d="M1435.2,246.5 1442.4,248.0 1448.9,262.2 1441.7,260.5" fill="#ae2870"/><path d="M1428.1,244.9 1435.2,246.5 1441.7,260.5 1434.5,258.7" fill="#b5286b"/><path d="M1420.7,242.8 1428.1,244.9 1434.5,258.7 1427.1,256.3" fill="#ba2b67"/><path d="M1412.8,239.4 1420.7,242.8 1427.1,256.3 1419.0,252.6" fill="#c02f62"/><path d="M1404.8,236.0 1412.8,239.4 1419.0,252.6 1410.8,248.6" fill="#c6335c"/><path d="M1396.8,232.9 1404.8,236.0 1410.8,248.6 1402.7,244.8" fill="#cd3857"/><path d="M1388.9,230.0 1396.8,232.9 1402.7,244.8 1394.6,241.1" fill="#d24155"/><path d="M1380.9,227.0 1388.9,230.0 1394.6,241.1 1386.5,237.5" fill="#d64952"/><path d="M1372.7,223.5 1380.9,227.0 1386.5,237.5 1378.1,233.6" fill="#da5150"/><path d="M1364.0,219.0 1372.7,223.5 1378.1,233.6 1369.2,228.7" fill="#de5a4c"/><path d="M1355.3,214.3 1364.0,219.0 1369.2,228.7 1360.3,223.8" fill="#e1654a"/><path d="M1346.7,209.7 1355.3,214.3 1360.3,223.8 1351.3,218.9" fill="#e47047"/><path d="M1338.0,204.9 1346.7,209.7 1351.3,218.9 1342.4,213.8" fill="#e67944"/><path d="M1329.5,200.4 1338.0,204.9 1342.4,213.8 1333.8,209.0" fill="#e78042"/><path d="M1321.6,197.4 1329.5,200.4 1333.8,209.0 1325.7,205.8" fill="#e88840"/><path d="M1313.7,195.3 1321.6,197.4 1325.7,205.8 1317.7,203.8" fill="#eb8e3f"/><path d="M1305.8,193.2 1313.7,195.3 1317.7,203.8 1309.6,201.1" fill="#ea923e"/><path d="M1297.9,193.7 1305.8,193.2 1309.6,201.1 1301.6,212.7" fill="#d58239"/><path d="M1290.1,199.7 1297.9,193.7 1301.6,212.7 1293.6,216.0" fill="#cd7739"/><path d="M1282.2,201.5 1290.1,199.7 1293.6,216.0 1285.5,216.2" fill="#cf753b"/><path d="M1274.3,200.5 1282.2,201.5 1285.5,216.2 1277.5,214.1" fill="#d1763b"/><path d="M1266.4,197.9 1274.3,200.5 1277.5,214.1 1269.5,210.7" fill="#d27b3a"/><path d="M1257.7,191.2 1266.4,197.9 1269.5,210.7 1260.7,203.1" fill="#d48338"/><path d="M1246.9,180.3 1257.7,191.2 1260.7,203.1 1250.1,191.5" fill="#d99337"/><path d="M1236.2,169.8 1246.9,180.3 1250.1,191.5 1239.5,180.2" fill="#dfa636"/><path d="M1225.5,158.2 1236.2,169.8 1239.5,180.2 1228.9,167.7" fill="#e3ba39"/><path d="M1737.8,249.6 1744.8,252.9 1750.5,262.9 1743.5,259.3" fill="#3f4ea4"/><path d="M1730.7,246.4 1737.8,249.6 1743.5,259.3 1736.4,255.7" fill="#4549a1"/><path d="M1723.7,243.2 1730.7,246.4 1736.4,255.7 1729.3,252.1" fill="#4b439d"/><path d="M1716.6,240.1 1723.7,243.2 1729.3,252.1 1722.2,248.7" fill="#513d99"/><path d="M1709.6,239.4 1716.6,240.1 1722.2,248.7 1715.1,247.7" fill="#593c9e"/><path d="M1702.5,238.9 1709.6,239.4 1715.1,247.7 1708.0,247.4" fill="#5c3a9d"/><path d="M1695.5,238.5 1702.5,238.9 1708.0,247.4 1700.9,247.0" fill="#5e399c"/><path d="M1688.4,238.3 1695.5,238.5 1700.9,247.0 1693.9,246.7" fill="#60379b"/><path d="M1681.4,238.0 1688.4,238.3 1693.9,246.7 1686.8,246.4" fill="#623699"/><path d="M1674.3,237.8 1681.4,238.0 1686.8,246.4 1679.7,246.2" fill="#643498"/><path d="M1667.3,237.6 1674.3,237.8 1679.7,246.2 1672.6,246.1" fill="#663397"/><path d="M1660.5,237.8 1667.3,237.6 1672.6,246.1 1665.9,246.4" fill="#673196"/><path d="M1653.8,238.3 1660.5,237.8 1665.9,246.4 1659.1,246.9" fill="#693095"/><path d="M1647.1,238.8 1653.8,238.3 1659.1,246.9 1652.4,247.5" fill="#6a3095"/><path d="M1640.4,239.4 1647.1,238.8 1652.4,247.5 1645.7,248.1" fill="#6b2f94"/><path d="M1633.7,240.0 1640.4,239.4 1645.7,248.1 1639.0,248.7" fill="#6c2f94"/><path d="M1626.9,240.6 1633.7,240.0 1639.0,248.7 1632.2,249.3" fill="#6d2f94"/><path d="M1620.2,241.2 1626.9,240.6 1632.2,249.3 1625.5,249.9" fill="#6f2e93"/><path d="M1613.5,241.6 1620.2,241.2 1625.5,249.9 1618.8,250.4" fill="#702e92"/><path d="M1606.8,241.8 1613.5,241.6 1618.8,250.4 1612.0,250.8" fill="#712e92"/><path d="M1600.0,242.1 1606.8,241.8 1612.0,250.8 1605.3,251.0" fill="#722d91"/><path d="M1593.2,242.2 1600.0,242.1 1605.3,251.0 1598.5,251.0" fill="#742d90"/><path d="M1586.4,242.4 1593.2,242.2 1598.5,251.0 1591.7,251.0" fill="#762d90"/><path d="M1579.7,242.4 1586.4,242.4 1591.7,251.0 1584.9,251.0" fill="#782c8f"/><path d="M1572.9,241.7 1579.7,242.4 1584.9,251.0 1578.1,250.4" fill="#792b8e"/><path d="M1566.1,241.0 1572.9,241.7 1578.1,250.4 1571.3,249.9" fill="#7d2b8c"/><path d="M1560.0,241.4 1566.1,241.0 1571.3,249.9 1565.3,250.2" fill="#802b8b"/><path d="M1554.0,241.8 1560.0,241.4 1565.3,250.2 1559.4,250.5" fill="#832a8b"/><path d="M1548.0,242.2 1554.0,241.8 1559.4,250.5 1553.4,250.7" fill="#872a8a"/><path d="M1542.0,243.0 1548.0,242.2 1553.4,250.7 1547.5,251.6" fill="#8b2a8b"/><path d="M1536.0,244.2 1542.0,243.0 1547.5,251.6 1541.6,252.9" fill="#8e2a8b"/><path d="M1530.1,245.6 1536.0,244.2 1541.6,252.9 1535.8,254.3" fill="#902a8b"/><path d="M1524.5,247.4 1530.1,245.6 1535.8,254.3 1530.3,256.1" fill="#912a8b"/><path d="M1518.9,249.2 1524.5,247.4 1530.3,256.1 1524.7,258.1" fill="#932a8b"/><path d="M1513.3,251.6 1518.9,249.2 1524.7,258.1 1519.2,260.9" fill="#932b8c"/><path d="M1507.6,254.0 1513.3,251.6 1519.2,260.9 1513.7,263.9" fill="#922a8b"/><path d="M1502.0,256.5 1507.6,254.0 1513.7,263.9 1508.2,267.1" fill="#912a8b"/><path d="M1495.6,257.9 1502.0,256.5 1508.2,267.1 1501.8,268.9" fill="#902a8a"/><path d="M1489.2,259.2 1495.6,257.9 1501.8,268.9 1495.5,270.8" fill="#8f2a8a"/><path d="M1482.8,260.6 1489.2,259.2 1495.5,270.8 1489.1,272.6" fill="#8f2a89"/><path d="M1476.5,262.1 1482.8,260.6 1489.1,272.6 1482.8,274.4" fill="#8f2a88"/><path d="M1470.1,263.4 1476.5,262.1 1482.8,274.4 1476.4,276.1" fill="#8e2988"/><path d="M1463.3,264.0 1470.1,263.4 1476.4,276.1 1469.7,277.0" fill="#8e2987"/><path d="M1456.1,263.6 1463.3,264.0 1469.7,277.0 1462.4,276.8" fill="#902986"/><path d="M1448.9,262.2 1456.1,263.6 1462.4,276.8 1455.2,275.6" fill="#922884"/><path d="M1441.7,260.5 1448.9,262.2 1455.2,275.6 1447.9,273.8" fill="#97287f"/><path d="M1434.5,258.7 1441.7,260.5 1447.9,273.8 1440.7,271.9" fill="#9f287a"/><path d="M1427.1,256.3 1434.5,258.7 1440.7,271.9 1433.1,269.3" fill="#a72875"/><path d="M1419.0,252.6 1427.1,256.3 1433.1,269.3 1424.9,265.1" fill="#b1286e"/><path d="M1410.8,248.6 1419.0,252.6 1424.9,265.1 1416.6,260.6" fill="#ba2a67"/><path d="M1402.7,244.8 1410.8,248.6 1416.6,260.6 1408.3,256.3" fill="#c13061"/><path d="M1394.6,241.1 1402.7,244.8 1408.3,256.3 1400.1,252.1" fill="#c8345b"/><path d="M1386.5,237.5 1394.6,241.1 1400.1,252.1 1391.8,248.0" fill="#ce3b57"/><path d="M1378.1,233.6 1386.5,237.5 1391.8,248.0 1383.3,243.5" fill="#d34454"/><path d="M1369.2,228.7 1378.1,233.6 1383.3,243.5 1374.1,238.0" fill="#d84d51"/><path d="M1360.3,223.8 1369.2,228.7 1374.1,238.0 1365.0,232.7" fill="#dd584d"/><path d="M1351.3,218.9 1360.3,223.8 1365.0,232.7 1355.8,227.6" fill="#e1634a"/><path d="M1342.4,213.8 1351.3,218.9 1355.8,227.6 1346.7,222.2" fill="#e36e47"/><path d="M1333.8,209.0 1342.4,213.8 1346.7,222.2 1337.8,217.2" fill="#e57844"/><path d="M1325.7,205.8 1333.8,209.0 1337.8,217.2 1329.6,213.7" fill="#e77f42"/><path d="M1317.7,203.8 1325.7,205.8 1329.6,213.7 1321.4,212.0" fill="#e98542"/><path d="M1309.6,201.1 1317.7,203.8 1321.4,212.0 1313.3,222.8" fill="#d1763b"/><path d="M1301.6,212.7 1309.6,201.1 1313.3,222.8 1305.1,231.6" fill="#c5663b"/><path d="M1293.6,216.0 1301.6,212.7 1305.1,231.6 1296.9,232.5" fill="#c65d3f"/><path d="M1285.5,216.2 1293.6,216.0 1296.9,232.5 1288.7,231.2" fill="#c85d40"/><path d="M1277.5,214.1 1285.5,216.2 1288.7,231.2 1280.6,228.0" fill="#ca613f"/><path d="M1269.5,210.7 1277.5,214.1 1280.6,228.0 1272.5,223.7" fill="#cd693e"/><path d="M1260.7,203.1 1269.5,210.7 1272.5,223.7 1263.6,215.4" fill="#cf733b"/><path d="M1250.1,191.5 1260.7,203.1 1263.6,215.4 1253.1,203.1" fill="#d48239"/><path d="M1239.5,180.2 1250.1,191.5 1253.1,203.1 1242.6,191.1" fill="#da9537"/><path d="M1228.9,167.7 1239.5,180.2 1242.6,191.1 1232.1,177.7" fill="#dfa935"/><path d="M1743.5,259.3 1750.5,262.9 1756.0,272.6 1748.9,268.5" fill="#3c51a5"/><path d="M1736.4,255.7 1743.5,259.3 1748.9,268.5 1741.7,264.5" fill="#3f4ea4"/><path d="M1729.3,252.1 1736.4,255.7 1741.7,264.5 1734.6,260.7" fill="#4549a1"/><path d="M1722.2,248.7 1729.3,252.1 1734.6,260.7 1727.5,256.8" fill="#4b429c"/><path d="M1715.1,247.7 1722.2,248.7 1727.5,256.8 1720.4,255.7" fill="#5341a1"/><path d="M1708.0,247.4 1715.1,247.7 1720.4,255.7 1713.3,255.4" fill="#573fa0"/><path d="M1700.9,247.0 1708.0,247.4 1713.3,255.4 1706.1,255.0" fill="#593d9f"/><path d="M1693.9,246.7 1700.9,247.0 1706.1,255.0 1699.0,254.7" fill="#5b3c9e"/><path d="M1686.8,246.4 1693.9,246.7 1699.0,254.7 1691.9,254.4" fill="#5c3a9d"/><path d="M1679.7,246.2 1686.8,246.4 1691.9,254.4 1684.8,254.3" fill="#5e399c"/><path d="M1672.6,246.1 1679.7,246.2 1684.8,254.3 1677.6,254.2" fill="#60379b"/><path d="M1665.9,246.4 1672.6,246.1 1677.6,254.2 1670.9,254.6" fill="#623699"/><path d="M1659.1,246.9 1665.9,246.4 1670.9,254.6 1664.2,255.2" fill="#633599"/><path d="M1652.4,247.5 1659.1,246.9 1664.2,255.2 1657.4,255.8" fill="#643498"/><path d="M1645.7,248.1 1652.4,247.5 1657.4,255.8 1650.7,256.4" fill="#653397"/><path d="M1639.0,248.7 1645.7,248.1 1650.7,256.4 1644.0,257.0" fill="#663297"/><path d="M1632.2,249.3 1639.0,248.7 1644.0,257.0 1637.3,257.6" fill="#673196"/><path d="M1625.5,249.9 1632.2,249.3 1637.3,257.6 1630.5,258.2" fill="#683095"/><path d="M1618.8,250.4 1625.5,249.9 1630.5,258.2 1623.8,258.8" fill="#6a3095"/><path d="M1612.0,250.8 1618.8,250.4 1623.8,258.8 1617.1,259.2" fill="#6b2f94"/><path d="M1605.3,251.0 1612.0,250.8 1617.1,259.2 1610.3,259.5" fill="#6c2f93"/><path d="M1598.5,251.0 1605.3,251.0 1610.3,259.5 1603.5,259.4" fill="#6d2e92"/><path d="M1591.7,251.0 1598.5,251.0 1603.5,259.4 1596.7,259.2" fill="#702e92"/><path d="M1584.9,251.0 1591.7,251.0 1596.7,259.2 1589.9,259.1" fill="#722d91"/><path d="M1578.1,250.4 1584.9,251.0 1589.9,259.1 1583.1,258.7" fill="#732d90"/><path d="M1571.3,249.9 1578.1,250.4 1583.1,258.7 1576.3,258.3" fill="#762c8f"/><path d="M1565.3,250.2 1571.3,249.9 1576.3,258.3 1570.3,258.7" fill="#772b8d"/><path d="M1559.4,250.5 1565.3,250.2 1570.3,258.7 1564.5,258.8" fill="#7a2b8c"/><path d="M1553.4,250.7 1559.4,250.5 1564.5,258.8 1558.6,258.9" fill="#7e2b8b"/><path d="M1547.5,251.6 1553.4,250.7 1558.6,258.9 1552.7,259.8" fill="#832b8c"/><path d="M1541.6,252.9 1547.5,251.6 1552.7,259.8 1546.9,261.1" fill="#862b8d"/><path d="M1535.8,254.3 1541.6,252.9 1546.9,261.1 1541.1,262.5" fill="#872b8d"/><path d="M1530.3,256.1 1535.8,254.3 1541.1,262.5 1535.7,265.1" fill="#882b8c"/><path d="M1524.7,258.1 1530.3,256.1 1535.7,265.1 1530.3,268.1" fill="#882b8b"/><path d="M1519.2,260.9 1524.7,258.1 1530.3,268.1 1524.9,272.1" fill="#862a8b"/><path d="M1513.7,263.9 1519.2,260.9 1524.9,272.1 1519.5,276.2" fill="#822a89"/><path d="M1508.2,267.1 1513.7,263.9 1519.5,276.2 1514.1,280.1" fill="#7f2a89"/><path d="M1501.8,268.9 1508.2,267.1 1514.1,280.1 1507.8,281.9" fill="#7d2a89"/><path d="M1495.5,270.8 1501.8,268.9 1507.8,281.9 1501.4,283.6" fill="#7d2a89"/><path d="M1489.1,272.6 1495.5,270.8 1501.4,283.6 1495.1,285.3" fill="#7d2a89"/><path d="M1482.8,274.4 1489.1,272.6 1495.1,285.3 1488.8,287.0" fill="#7d2a89"/><path d="M1476.4,276.1 1482.8,274.4 1488.8,287.0 1482.5,288.7" fill="#7e2a8a"/><path d="M1469.7,277.0 1476.4,276.1 1482.5,288.7 1475.7,289.0" fill="#7f2a8a"/><path d="M1462.4,276.8 1469.7,277.0 1475.7,289.0 1468.4,288.2" fill="#822a8a"/><path d="M1455.2,275.6 1462.4,276.8 1468.4,288.2 1461.1,286.8" fill="#852a89"/><path d="M1447.9,273.8 1455.2,275.6 1461.1,286.8 1453.8,285.0" fill="#8a2987"/><path d="M1440.7,271.9 1447.9,273.8 1453.8,285.0 1446.5,283.1" fill="#8f2986"/><path d="M1433.1,269.3 1440.7,271.9 1446.5,283.1 1438.9,280.4" fill="#952883"/><path d="M1424.9,265.1 1433.1,269.3 1438.9,280.4 1430.5,276.2" fill="#9f287c"/><path d="M1416.6,260.6 1424.9,265.1 1430.5,276.2 1422.1,271.8" fill="#aa2873"/><path d="M1408.3,256.3 1416.6,260.6 1422.1,271.8 1413.7,267.2" fill="#b6286b"/><path d="M1400.1,252.1 1408.3,256.3 1413.7,267.2 1405.3,262.5" fill="#be2d64"/><path d="M1391.8,248.0 1400.1,252.1 1405.3,262.5 1396.9,257.9" fill="#c5325e"/><path d="M1383.3,243.5 1391.8,248.0 1396.9,257.9 1388.2,252.9" fill="#cd3758"/><path d="M1374.1,238.0 1383.3,243.5 1388.2,252.9 1378.8,246.9" fill="#d24255"/><path d="M1365.0,232.7 1374.1,238.0 1378.8,246.9 1369.4,241.0" fill="#d84d51"/><path d="M1355.8,227.6 1365.0,232.7 1369.4,241.0 1360.1,235.5" fill="#de574d"/><path d="M1346.7,222.2 1355.8,227.6 1360.1,235.5 1350.7,230.2" fill="#e1634a"/><path d="M1337.8,217.2 1346.7,222.2 1350.7,230.2 1341.6,225.0" fill="#e36e47"/><path d="M1329.6,213.7 1337.8,217.2 1341.6,225.0 1333.3,221.3" fill="#e57744"/><path d="M1321.4,212.0 1329.6,213.7 1333.3,221.3 1325.0,231.1" fill="#d16c3e"/><path d="M1313.3,222.8 1321.4,212.0 1325.0,231.1 1316.7,243.5" fill="#c0563e"/><path d="M1305.1,231.6 1313.3,222.8 1316.7,243.5 1308.4,250.1" fill="#ba4444"/><path d="M1296.9,232.5 1305.1,231.6 1308.4,250.1 1300.1,248.9" fill="#ba3f48"/><path d="M1288.7,231.2 1296.9,232.5 1300.1,248.9 1291.8,246.3" fill="#bd4148"/><path d="M1280.6,228.0 1288.7,231.2 1291.8,246.3 1283.5,242.0" fill="#c04746"/><path d="M1272.5,223.7 1280.6,228.0 1283.5,242.0 1275.3,236.9" fill="#c45043"/><path d="M1263.6,215.4 1272.5,223.7 1275.3,236.9 1266.3,228.0" fill="#c95f40"/><path d="M1253.1,203.1 1263.6,215.4 1266.3,228.0 1255.9,215.0" fill="#cf713c"/><path d="M1242.6,191.1 1253.1,203.1 1255.9,215.0 1245.5,202.3" fill="#d58438"/><path d="M1232.1,177.7 1242.6,191.1 1245.5,202.3 1235.1,188.2" fill="#da9836"/><path d="M1748.9,268.5 1756.0,272.6 1761.1,284.1 1754.0,279.2" fill="#3753a4"/><path d="M1741.7,264.5 1748.9,268.5 1754.0,279.2 1746.8,274.4" fill="#3b50a3"/><path d="M1734.6,260.7 1741.7,264.5 1746.8,274.4 1739.7,269.7" fill="#3e4da2"/><path d="M1727.5,256.8 1734.6,260.7 1739.7,269.7 1732.5,265.6" fill="#44489f"/><path d="M1720.4,255.7 1727.5,256.8 1732.5,265.6 1725.4,264.5" fill="#4d46a3"/><path d="M1713.3,255.4 1720.4,255.7 1725.4,264.5 1718.2,264.1" fill="#5044a2"/><path d="M1706.1,255.0 1713.3,255.4 1718.2,264.1 1711.1,263.5" fill="#5242a1"/><path d="M1699.0,254.7 1706.1,255.0 1711.1,263.5 1703.9,263.0" fill="#5440a0"/><path d="M1691.9,254.4 1699.0,254.7 1703.9,263.0 1696.7,262.5" fill="#563e9f"/><path d="M1684.8,254.3 1691.9,254.4 1696.7,262.5 1689.6,262.1" fill="#583d9e"/><path d="M1677.6,254.2 1684.8,254.3 1689.6,262.1 1682.4,261.9" fill="#5a3b9d"/><path d="M1670.9,254.6 1677.6,254.2 1682.4,261.9 1675.7,262.5" fill="#5c3a9d"/><path d="M1664.2,255.2 1670.9,254.6 1675.7,262.5 1669.0,263.1" fill="#5d399c"/><path d="M1657.4,255.8 1664.2,255.2 1669.0,263.1 1662.2,263.7" fill="#5e389b"/><path d="M1650.7,256.4 1657.4,255.8 1662.2,263.7 1655.5,264.3" fill="#5f379b"/><path d="M1644.0,257.0 1650.7,256.4 1655.5,264.3 1648.8,264.9" fill="#60379a"/><path d="M1637.3,257.6 1644.0,257.0 1648.8,264.9 1642.0,265.5" fill="#623699"/><path d="M1630.5,258.2 1637.3,257.6 1642.0,265.5 1635.3,266.1" fill="#633599"/><path d="M1623.8,258.8 1630.5,258.2 1635.3,266.1 1628.6,266.7" fill="#643498"/><path d="M1617.1,259.2 1623.8,258.8 1628.6,266.7 1621.8,267.2" fill="#653397"/><path d="M1610.3,259.5 1617.1,259.2 1621.8,267.2 1615.0,267.5" fill="#663296"/><path d="M1603.5,259.4 1610.3,259.5 1615.0,267.5 1608.2,267.3" fill="#673094"/><path d="M1596.7,259.2 1603.5,259.4 1608.2,267.3 1601.4,267.0" fill="#6a2f94"/><path d="M1589.9,259.1 1596.7,259.2 1601.4,267.0 1594.6,266.8" fill="#6c2f93"/><path d="M1583.1,258.7 1589.9,259.1 1594.6,266.8 1587.8,266.5" fill="#6e2e92"/><path d="M1576.3,258.3 1583.1,258.7 1587.8,266.5 1581.0,266.2" fill="#702d91"/><path d="M1570.3,258.7 1576.3,258.3 1581.0,266.2 1575.1,266.6" fill="#712d8f"/><path d="M1564.5,258.8 1570.3,258.7 1575.1,266.6 1569.3,266.8" fill="#732c8d"/><path d="M1558.6,258.9 1564.5,258.8 1569.3,266.8 1563.5,267.2" fill="#762b8c"/><path d="M1552.7,259.8 1558.6,258.9 1563.5,267.2 1557.7,268.7" fill="#792b8d"/><path d="M1546.9,261.1 1552.7,259.8 1557.7,268.7 1551.9,270.5" fill="#7a2b8c"/><path d="M1541.1,262.5 1546.9,261.1 1551.9,270.5 1546.2,272.8" fill="#7a2a8b"/><path d="M1535.7,265.1 1541.1,262.5 1546.2,272.8 1540.9,276.1" fill="#792a8a"/><path d="M1530.3,268.1 1535.7,265.1 1540.9,276.1 1535.6,279.7" fill="#782a8a"/><path d="M1524.9,272.1 1530.3,268.1 1535.6,279.7 1530.3,284.0" fill="#762a8a"/><path d="M1519.5,276.2 1524.9,272.1 1530.3,284.0 1525.0,288.3" fill="#742b8b"/><path d="M1514.1,280.1 1519.5,276.2 1525.0,288.3 1519.7,292.5" fill="#712b8c"/><path d="M1507.8,281.9 1514.1,280.1 1519.7,292.5 1513.4,294.2" fill="#702c8c"/><path d="M1501.4,283.6 1507.8,281.9 1513.4,294.2 1507.1,295.9" fill="#702c8c"/><path d="M1495.1,285.3 1501.4,283.6 1507.1,295.9 1500.8,297.5" fill="#712c8c"/><path d="M1488.8,287.0 1495.1,285.3 1500.8,297.5 1494.5,299.0" fill="#712c8d"/><path d="M1482.5,288.7 1488.8,287.0 1494.5,299.0 1488.2,300.6" fill="#712c8d"/><path d="M1475.7,289.0 1482.5,288.7 1488.2,300.6 1481.4,300.4" fill="#722c8c"/><path d="M1468.4,288.2 1475.7,289.0 1481.4,300.4 1474.1,299.0" fill="#752b8d"/><path d="M1461.1,286.8 1468.4,288.2 1474.1,299.0 1466.8,297.4" fill="#782b8b"/><path d="M1453.8,285.0 1461.1,286.8 1466.8,297.4 1459.4,295.6" fill="#7d2a8a"/><path d="M1446.5,283.1 1453.8,285.0 1459.4,295.6 1452.1,293.6" fill="#822a88"/><path d="M1438.9,280.4 1446.5,283.1 1452.1,293.6 1444.4,290.6" fill="#892987"/><path d="M1430.5,276.2 1438.9,280.4 1444.4,290.6 1435.8,286.1" fill="#912986"/><path d="M1422.1,271.8 1430.5,276.2 1435.8,286.1 1427.3,281.4" fill="#9b287f"/><path d="M1413.7,267.2 1422.1,271.8 1427.3,281.4 1418.8,276.7" fill="#a72877"/><path d="M1405.3,262.5 1413.7,267.2 1418.8,276.7 1410.2,272.0" fill="#b4286e"/><path d="M1396.9,257.9 1405.3,262.5 1410.2,272.0 1401.7,267.3" fill="#bc2c67"/><path d="M1388.2,252.9 1396.9,257.9 1401.7,267.3 1392.8,261.9" fill="#c43160"/><path d="M1378.8,246.9 1388.2,252.9 1392.8,261.9 1383.3,255.3" fill="#cd3759"/><path d="M1369.4,241.0 1378.8,246.9 1383.3,255.3 1373.7,248.9" fill="#d34355"/><path d="M1360.1,235.5 1369.4,241.0 1373.7,248.9 1364.1,242.8" fill="#d94e51"/><path d="M1350.7,230.2 1360.1,235.5 1364.1,242.8 1354.5,237.1" fill="#df594d"/><path d="M1341.6,225.0 1350.7,230.2 1354.5,237.1 1345.3,232.2" fill="#e2644a"/><path d="M1333.3,221.3 1341.6,225.0 1345.3,232.2 1336.8,239.7" fill="#ce5e43"/><path d="M1325.0,231.1 1333.3,221.3 1336.8,239.7 1328.4,252.1" fill="#bc4a42"/><path d="M1316.7,243.5 1325.0,231.1 1328.4,252.1 1320.0,263.1" fill="#b13549"/><path d="M1308.4,250.1 1316.7,243.5 1320.0,263.1 1311.5,267.8" fill="#aa2b53"/><path d="M1300.1,248.9 1308.4,250.1 1311.5,267.8 1303.1,265.1" fill="#aa2956"/><path d="M1291.8,246.3 1300.1,248.9 1303.1,265.1 1294.7,261.2" fill="#ae2c53"/><path d="M1283.5,242.0 1291.8,246.3 1294.7,261.2 1286.3,256.1" fill="#b4314e"/><path d="M1275.3,236.9 1283.5,242.0 1286.3,256.1 1277.9,250.2" fill="#b93a4a"/><path d="M1266.3,228.0 1275.3,236.9 1277.9,250.2 1268.9,240.7" fill="#bf4745"/><path d="M1255.9,215.0 1266.3,228.0 1268.9,240.7 1258.6,227.3" fill="#c95e40"/><path d="M1245.5,202.3 1255.9,215.0 1258.6,227.3 1248.3,214.0" fill="#d0743b"/><path d="M1235.1,188.2 1245.5,202.3 1248.3,214.0 1238.0,199.0" fill="#d58837"/><path d="M1754.0,279.2 1761.1,284.1 1766.0,294.9 1758.8,289.3" fill="#3051a1"/><path d="M1746.8,274.4 1754.0,279.2 1758.8,289.3 1751.6,283.8" fill="#3753a4"/><path d="M1739.7,269.7 1746.8,274.4 1751.6,283.8 1744.5,278.5" fill="#3b50a2"/><path d="M1732.5,265.6 1739.7,269.7 1744.5,278.5 1737.3,274.2" fill="#3f4da2"/><path d="M1725.4,264.5 1732.5,265.6 1737.3,274.2 1730.1,273.5" fill="#464ca7"/><path d="M1718.2,264.1 1725.4,264.5 1730.1,273.5 1722.9,273.1" fill="#484aa6"/><path d="M1711.1,263.5 1718.2,264.1 1722.9,273.1 1715.7,272.4" fill="#4a48a4"/><path d="M1703.9,263.0 1711.1,263.5 1715.7,272.4 1708.5,271.6" fill="#4d46a2"/><path d="M1696.7,262.5 1703.9,263.0 1708.5,271.6 1701.3,270.9" fill="#4f43a1"/><path d="M1689.6,262.1 1696.7,262.5 1701.3,270.9 1694.2,270.4" fill="#5142a0"/><path d="M1682.4,261.9 1689.6,262.1 1694.2,270.4 1687.0,269.9" fill="#54409f"/><path d="M1675.7,262.5 1682.4,261.9 1687.0,269.9 1680.2,270.3" fill="#553e9f"/><path d="M1669.0,263.1 1675.7,262.5 1680.2,270.3 1673.5,270.8" fill="#573d9e"/><path d="M1662.2,263.7 1669.0,263.1 1673.5,270.8 1666.7,271.4" fill="#583c9e"/><path d="M1655.5,264.3 1662.2,263.7 1666.7,271.4 1660.0,271.9" fill="#593c9d"/><path d="M1648.8,264.9 1655.5,264.3 1660.0,271.9 1653.3,272.4" fill="#5b3b9d"/><path d="M1642.0,265.5 1648.8,264.9 1653.3,272.4 1646.5,272.9" fill="#5c3a9c"/><path d="M1635.3,266.1 1642.0,265.5 1646.5,272.9 1639.8,273.4" fill="#5d399c"/><path d="M1628.6,266.7 1635.3,266.1 1639.8,273.4 1633.1,273.7" fill="#5f389b"/><path d="M1621.8,267.2 1628.6,266.7 1633.1,273.7 1626.3,273.9" fill="#61379b"/><path d="M1615.0,267.5 1621.8,267.2 1626.3,273.9 1619.5,274.0" fill="#62369b"/><path d="M1608.2,267.3 1615.0,267.5 1619.5,274.0 1612.7,273.7" fill="#643499"/><path d="M1601.4,267.0 1608.2,267.3 1612.7,273.7 1605.9,273.3" fill="#663398"/><path d="M1594.6,266.8 1601.4,267.0 1605.9,273.3 1599.1,273.2" fill="#683196"/><path d="M1587.8,266.5 1594.6,266.8 1599.1,273.2 1592.3,273.2" fill="#6a3095"/><path d="M1581.0,266.2 1587.8,266.5 1592.3,273.2 1585.5,273.1" fill="#6c2f94"/><path d="M1575.1,266.6 1581.0,266.2 1585.5,273.1 1579.6,273.9" fill="#6d2e92"/><path d="M1569.3,266.8 1575.1,266.6 1579.6,273.9 1573.9,274.8" fill="#6e2d8f"/><path d="M1563.5,267.2 1569.3,266.8 1573.9,274.8 1568.1,275.9" fill="#702c8e"/><path d="M1557.7,268.7 1563.5,267.2 1568.1,275.9 1562.4,277.7" fill="#712c8e"/><path d="M1551.9,270.5 1557.7,268.7 1562.4,277.7 1556.7,279.9" fill="#722c8e"/><path d="M1546.2,272.8 1551.9,270.5 1556.7,279.9 1551.1,282.6" fill="#712c8d"/><path d="M1540.9,276.1 1546.2,272.8 1551.1,282.6 1545.8,286.5" fill="#702c8d"/><path d="M1535.6,279.7 1540.9,276.1 1545.8,286.5 1540.6,290.7" fill="#6e2c8d"/><path d="M1530.3,284.0 1535.6,279.7 1540.6,290.7 1535.4,295.2" fill="#6c2d8e"/><path d="M1525.0,288.3 1530.3,284.0 1535.4,295.2 1530.2,299.7" fill="#6a2d8e"/><path d="M1519.7,292.5 1525.0,288.3 1530.2,299.7 1525.0,304.1" fill="#672e8f"/><path d="M1513.4,294.2 1519.7,292.5 1525.0,304.1 1518.7,305.8" fill="#662e8f"/><path d="M1507.1,295.9 1513.4,294.2 1518.7,305.8 1512.4,307.3" fill="#662e90"/><path d="M1500.8,297.5 1507.1,295.9 1512.4,307.3 1506.2,308.9" fill="#672e90"/><path d="M1494.5,299.0 1500.8,297.5 1506.2,308.9 1499.9,310.3" fill="#672e90"/><path d="M1488.2,300.6 1494.5,299.0 1499.9,310.3 1493.6,311.7" fill="#682e90"/><path d="M1481.4,300.4 1488.2,300.6 1493.6,311.7 1486.9,311.2" fill="#692d8f"/><path d="M1474.1,299.0 1481.4,300.4 1486.9,311.2 1479.5,309.4" fill="#6c2d8f"/><path d="M1466.8,297.4 1474.1,299.0 1479.5,309.4 1472.1,307.6" fill="#702c8e"/><path d="M1459.4,295.6 1466.8,297.4 1472.1,307.6 1464.7,305.7" fill="#732b8d"/><path d="M1452.1,293.6 1459.4,295.6 1464.7,305.7 1457.3,303.6" fill="#772a8b"/><path d="M1444.4,290.6 1452.1,293.6 1457.3,303.6 1449.5,300.3" fill="#7d2a89"/><path d="M1435.8,286.1 1444.4,290.6 1449.5,300.3 1440.9,295.4" fill="#852987"/><path d="M1427.3,281.4 1435.8,286.1 1440.9,295.4 1432.2,290.5" fill="#8f2985"/><path d="M1418.8,276.7 1427.3,281.4 1432.2,290.5 1423.6,285.5" fill="#9a2880"/><path d="M1410.2,272.0 1418.8,276.7 1423.6,285.5 1414.9,280.7" fill="#a62878"/><path d="M1401.7,267.3 1410.2,272.0 1414.9,280.7 1406.2,275.8" fill="#b3286f"/><path d="M1392.8,261.9 1401.7,267.3 1406.2,275.8 1397.2,270.3" fill="#bc2c67"/><path d="M1383.3,255.3 1392.8,261.9 1397.2,270.3 1387.5,263.2" fill="#c5325f"/><path d="M1373.7,248.9 1383.3,255.3 1387.5,263.2 1377.7,256.3" fill="#ce3958"/><path d="M1364.1,242.8 1373.7,248.9 1377.7,256.3 1367.9,249.7" fill="#d54554"/><path d="M1354.5,237.1 1364.1,242.8 1367.9,249.7 1358.1,243.5" fill="#db5050"/><path d="M1345.3,232.2 1354.5,237.1 1358.1,243.5 1348.7,249.2" fill="#c94d48"/><path d="M1336.8,239.7 1345.3,232.2 1348.7,249.2 1340.2,261.0" fill="#b63e46"/><path d="M1328.4,252.1 1336.8,239.7 1340.2,261.0 1331.6,271.9" fill="#aa2c4e"/><path d="M1320.0,263.1 1328.4,252.1 1331.6,271.9 1323.1,281.7" fill="#9c225c"/><path d="M1311.5,267.8 1320.0,263.1 1323.1,281.7 1314.5,284.9" fill="#8d2369"/><path d="M1303.1,265.1 1311.5,267.8 1314.5,284.9 1306.0,280.9" fill="#8e236a"/><path d="M1294.7,261.2 1303.1,265.1 1306.0,280.9 1297.4,276.0" fill="#972365"/><path d="M1286.3,256.1 1294.7,261.2 1297.4,276.0 1288.9,270.1" fill="#a2245d"/><path d="M1277.9,250.2 1286.3,256.1 1288.9,270.1 1280.4,263.5" fill="#aa2a56"/><path d="M1268.9,240.7 1277.9,250.2 1280.4,263.5 1271.4,253.6" fill="#b5334d"/><path d="M1258.6,227.3 1268.9,240.7 1271.4,253.6 1261.2,239.7" fill="#bf4746"/><path d="M1248.3,214.0 1258.6,227.3 1261.2,239.7 1251.0,225.9" fill="#ca613f"/><path d="M1238.0,199.0 1248.3,214.0 1251.0,225.9 1240.8,210.3" fill="#d0783a"/><path d="M1758.8,289.3 1766.0,294.9 1770.6,305.1 1763.4,298.8" fill="#284d9e"/><path d="M1751.6,283.8 1758.8,289.3 1763.4,298.8 1756.2,292.7" fill="#3051a1"/><path d="M1744.5,278.5 1751.6,283.8 1756.2,292.7 1749.0,286.7" fill="#3752a2"/><path d="M1737.3,274.2 1744.5,278.5 1749.0,286.7 1741.7,282.3" fill="#3c50a4"/><path d="M1730.1,273.5 1737.3,274.2 1741.7,282.3 1734.5,281.9" fill="#4152ab"/><path d="M1722.9,273.1 1730.1,273.5 1734.5,281.9 1727.3,281.6" fill="#4251aa"/><path d="M1715.7,272.4 1722.9,273.1 1727.3,281.6 1720.1,280.7" fill="#434ea8"/><path d="M1708.5,271.6 1715.7,272.4 1720.1,280.7 1712.9,279.8" fill="#464ca7"/><path d="M1701.3,270.9 1708.5,271.6 1712.9,279.8 1705.7,278.9" fill="#494aa5"/><path d="M1694.2,270.4 1701.3,270.9 1705.7,278.9 1698.5,278.2" fill="#4b48a4"/><path d="M1687.0,269.9 1694.2,270.4 1698.5,278.2 1691.2,277.5" fill="#4e46a3"/><path d="M1680.2,270.3 1687.0,269.9 1691.2,277.5 1684.5,277.7" fill="#5044a2"/><path d="M1673.5,270.8 1680.2,270.3 1684.5,277.7 1677.7,278.2" fill="#5143a2"/><path d="M1666.7,271.4 1673.5,270.8 1677.7,278.2 1671.0,278.6" fill="#5342a1"/><path d="M1660.0,271.9 1666.7,271.4 1671.0,278.6 1664.3,279.0" fill="#5440a1"/><path d="M1653.3,272.4 1660.0,271.9 1664.3,279.0 1657.5,279.5" fill="#553fa0"/><path d="M1646.5,272.9 1653.3,272.4 1657.5,279.5 1650.8,279.9" fill="#573e9f"/><path d="M1639.8,273.4 1646.5,272.9 1650.8,279.9 1644.1,280.2" fill="#583d9e"/><path d="M1633.1,273.7 1639.8,273.4 1644.1,280.2 1637.3,280.2" fill="#5a3c9e"/><path d="M1626.3,273.9 1633.1,273.7 1637.3,280.2 1630.6,280.2" fill="#5c3b9d"/><path d="M1619.5,274.0 1626.3,273.9 1630.6,280.2 1623.8,280.1" fill="#5e399c"/><path d="M1612.7,273.7 1619.5,274.0 1623.8,280.1 1616.9,279.7" fill="#60379b"/><path d="M1605.9,273.3 1612.7,273.7 1616.9,279.7 1610.1,279.3" fill="#623599"/><path d="M1599.1,273.2 1605.9,273.3 1610.1,279.3 1603.3,279.2" fill="#653499"/><path d="M1592.3,273.2 1599.1,273.2 1603.3,279.2 1596.5,279.4" fill="#673298"/><path d="M1585.5,273.1 1592.3,273.2 1596.5,279.4 1589.7,279.5" fill="#683196"/><path d="M1579.6,273.9 1585.5,273.1 1589.7,279.5 1583.9,280.8" fill="#692f94"/><path d="M1573.9,274.8 1579.6,273.9 1583.9,280.8 1578.2,282.3" fill="#6a2f92"/><path d="M1568.1,275.9 1573.9,274.8 1578.2,282.3 1572.5,284.0" fill="#6a2e91"/><path d="M1562.4,277.7 1568.1,275.9 1572.5,284.0 1566.8,286.3" fill="#6b2e91"/><path d="M1556.7,279.9 1562.4,277.7 1566.8,286.3 1561.1,288.8" fill="#6b2e90"/><path d="M1551.1,282.6 1556.7,279.9 1561.1,288.8 1555.6,291.9" fill="#6a2e90"/><path d="M1545.8,286.5 1551.1,282.6 1555.6,291.9 1550.5,296.3" fill="#682e90"/><path d="M1540.6,290.7 1545.8,286.5 1550.5,296.3 1545.4,300.9" fill="#662e90"/><path d="M1535.4,295.2 1540.6,290.7 1545.4,300.9 1540.2,305.4" fill="#633092"/><path d="M1530.2,299.7 1535.4,295.2 1540.2,305.4 1535.1,309.9" fill="#613294"/><path d="M1525.0,304.1 1530.2,299.7 1535.1,309.9 1530.0,314.3" fill="#5f3495"/><path d="M1518.7,305.8 1525.0,304.1 1530.0,314.3 1523.7,316.1" fill="#5e3596"/><path d="M1512.4,307.3 1518.7,305.8 1523.7,316.1 1517.5,317.8" fill="#5e3595"/><path d="M1506.2,308.9 1512.4,307.3 1517.5,317.8 1511.2,319.5" fill="#5e3595"/><path d="M1499.9,310.3 1506.2,308.9 1511.2,319.5 1505.0,320.8" fill="#5e3495"/><path d="M1493.6,311.7 1499.9,310.3 1505.0,320.8 1498.7,322.0" fill="#5f3495"/><path d="M1486.9,311.2 1493.6,311.7 1498.7,322.0 1492.0,321.6" fill="#603393"/><path d="M1479.5,309.4 1486.9,311.2 1492.0,321.6 1484.5,319.8" fill="#633091"/><path d="M1472.1,307.6 1479.5,309.4 1484.5,319.8 1477.1,317.6" fill="#662e8f"/><path d="M1464.7,305.7 1472.1,307.6 1477.1,317.6 1469.7,315.3" fill="#6b2d8e"/><path d="M1457.3,303.6 1464.7,305.7 1469.7,315.3 1462.2,312.9" fill="#6f2c8d"/><path d="M1449.5,300.3 1457.3,303.6 1462.2,312.9 1454.4,309.4" fill="#732b8b"/><path d="M1440.9,295.4 1449.5,300.3 1454.4,309.4 1445.6,304.2" fill="#7b2a89"/><path d="M1432.2,290.5 1440.9,295.4 1445.6,304.2 1436.9,299.0" fill="#852987"/><path d="M1423.6,285.5 1432.2,290.5 1436.9,299.0 1428.1,293.9" fill="#8e2986"/><path d="M1414.9,280.7 1423.6,285.5 1428.1,293.9 1419.3,288.8" fill="#9a2881"/><path d="M1406.2,275.8 1414.9,280.7 1419.3,288.8 1410.5,283.8" fill="#a62878"/><path d="M1397.2,270.3 1406.2,275.8 1410.5,283.8 1401.4,278.1" fill="#b3286f"/><path d="M1387.5,263.2 1397.2,270.3 1401.4,278.1 1391.4,270.9" fill="#be2d66"/><path d="M1377.7,256.3 1387.5,263.2 1391.4,270.9 1381.5,263.4" fill="#c7335d"/><path d="M1367.9,249.7 1377.7,256.3 1381.5,263.4 1371.5,256.2" fill="#d03d57"/><path d="M1358.1,243.5 1367.9,249.7 1371.5,256.2 1361.5,264.8" fill="#ba394c"/><path d="M1348.7,249.2 1358.1,243.5 1361.5,264.8 1352.0,270.7" fill="#ad2f4b"/><path d="M1340.2,261.0 1348.7,249.2 1352.0,270.7 1343.3,281.1" fill="#a12656"/><path d="M1331.6,271.9 1340.2,261.0 1343.3,281.1 1334.6,290.6" fill="#8d2266"/><path d="M1323.1,281.7 1331.6,271.9 1334.6,290.6 1326.0,299.2" fill="#792372"/><path d="M1314.5,284.9 1323.1,281.7 1326.0,299.2 1317.3,301.2" fill="#702475"/><path d="M1306.0,280.9 1314.5,284.9 1317.3,301.2 1308.7,296.1" fill="#722476"/><path d="M1297.4,276.0 1306.0,280.9 1308.7,296.1 1300.0,290.5" fill="#7b2475"/><path d="M1288.9,270.1 1297.4,276.0 1300.0,290.5 1291.4,284.0" fill="#862370"/><path d="M1280.4,263.5 1288.9,270.1 1291.4,284.0 1282.8,276.8" fill="#952365"/><path d="M1271.4,253.6 1280.4,263.5 1282.8,276.8 1273.7,266.5" fill="#a52659"/><path d="M1261.2,239.7 1271.4,253.6 1273.7,266.5 1263.6,252.3" fill="#b5334d"/><path d="M1251.0,225.9 1261.2,239.7 1263.6,252.3 1253.5,238.0" fill="#c14b44"/><path d="M1240.8,210.3 1251.0,225.9 1253.5,238.0 1243.4,221.9" fill="#cb683d"/><path d="M1763.4,298.8 1770.6,305.1 1774.9,314.3 1767.7,307.7" fill="#224393"/><path d="M1756.2,292.7 1763.4,298.8 1767.7,307.7 1760.4,301.2" fill="#294d9e"/><path d="M1749.0,286.7 1756.2,292.7 1760.4,301.2 1753.2,294.7" fill="#3251a1"/><path d="M1741.7,282.3 1749.0,286.7 1753.2,294.7 1746.0,290.0" fill="#3953a5"/><path d="M1734.5,281.9 1741.7,282.3 1746.0,290.0 1738.7,289.7" fill="#3f55ad"/><path d="M1727.3,281.6 1734.5,281.9 1738.7,289.7 1731.5,289.6" fill="#3f54ac"/><path d="M1720.1,280.7 1727.3,281.6 1731.5,289.6 1724.2,288.5" fill="#4052ab"/><path d="M1712.9,279.8 1720.1,280.7 1724.2,288.5 1717.0,287.4" fill="#4151aa"/><path d="M1705.7,278.9 1712.9,279.8 1717.0,287.4 1709.7,286.4" fill="#4250a9"/><path d="M1698.5,278.2 1705.7,278.9 1709.7,286.4 1702.5,285.5" fill="#454da8"/><path d="M1691.2,277.5 1698.5,278.2 1702.5,285.5 1695.3,284.6" fill="#484ba7"/><path d="M1684.5,277.7 1691.2,277.5 1695.3,284.6 1688.5,284.7" fill="#4a49a6"/><path d="M1677.7,278.2 1684.5,277.7 1688.5,284.7 1681.8,285.0" fill="#4c48a6"/><path d="M1671.0,278.6 1677.7,278.2 1681.8,285.0 1675.0,285.4" fill="#4d47a5"/><path d="M1664.3,279.0 1671.0,278.6 1675.0,285.4 1668.3,285.8" fill="#4f45a4"/><path d="M1657.5,279.5 1664.3,279.0 1668.3,285.8 1661.5,286.1" fill="#5044a3"/><path d="M1650.8,279.9 1657.5,279.5 1661.5,286.1 1654.8,286.5" fill="#5243a2"/><path d="M1644.1,280.2 1650.8,279.9 1654.8,286.5 1648.1,286.6" fill="#5341a1"/><path d="M1637.3,280.2 1644.1,280.2 1648.1,286.6 1641.3,286.4" fill="#553fa0"/><path d="M1630.6,280.2 1637.3,280.2 1641.3,286.4 1634.6,286.2" fill="#583e9f"/><path d="M1623.8,280.1 1630.6,280.2 1634.6,286.2 1627.7,285.8" fill="#5a3c9e"/><path d="M1616.9,279.7 1623.8,280.1 1627.7,285.8 1620.9,285.3" fill="#5c3a9d"/><path d="M1610.1,279.3 1616.9,279.7 1620.9,285.3 1614.1,284.8" fill="#5f389b"/><path d="M1603.3,279.2 1610.1,279.3 1614.1,284.8 1607.3,284.9" fill="#62379b"/><path d="M1596.5,279.4 1603.3,279.2 1607.3,284.9 1600.5,285.2" fill="#63359a"/><path d="M1589.7,279.5 1596.5,279.4 1600.5,285.2 1593.6,285.5" fill="#653499"/><path d="M1583.9,280.8 1589.7,279.5 1593.6,285.5 1587.9,287.2" fill="#653397"/><path d="M1578.2,282.3 1583.9,280.8 1587.9,287.2 1582.2,289.3" fill="#653296"/><path d="M1572.5,284.0 1578.2,282.3 1582.2,289.3 1576.6,291.7" fill="#653194"/><path d="M1566.8,286.3 1572.5,284.0 1576.6,291.7 1571.0,294.3" fill="#653194"/><path d="M1561.1,288.8 1566.8,286.3 1571.0,294.3 1565.4,297.5" fill="#643193"/><path d="M1555.6,291.9 1561.1,288.8 1565.4,297.5 1559.9,301.3" fill="#623193"/><path d="M1550.5,296.3 1555.6,291.9 1559.9,301.3 1554.8,306.0" fill="#5f3393"/><path d="M1545.4,300.9 1550.5,296.3 1554.8,306.0 1549.8,310.2" fill="#5d3595"/><path d="M1540.2,305.4 1545.4,300.9 1549.8,310.2 1544.8,314.8" fill="#5b3797"/><path d="M1535.1,309.9 1540.2,305.4 1544.8,314.8 1539.7,319.4" fill="#593999"/><path d="M1530.0,314.3 1535.1,309.9 1539.7,319.4 1534.6,323.9" fill="#573b9a"/><path d="M1523.7,316.1 1530.0,314.3 1534.6,323.9 1528.4,325.8" fill="#553c9b"/><path d="M1517.5,317.8 1523.7,316.1 1528.4,325.8 1522.2,327.7" fill="#553c9a"/><path d="M1511.2,319.5 1517.5,317.8 1522.2,327.7 1516.0,329.5" fill="#553b9a"/><path d="M1505.0,320.8 1511.2,319.5 1516.0,329.5 1509.8,330.6" fill="#553b99"/><path d="M1498.7,322.0 1505.0,320.8 1509.8,330.6 1503.5,331.6" fill="#573a99"/><path d="M1492.0,321.6 1498.7,322.0 1503.5,331.6 1496.8,331.3" fill="#583998"/><path d="M1484.5,319.8 1492.0,321.6 1496.8,331.3 1489.3,329.5" fill="#5b3796"/><path d="M1477.1,317.6 1484.5,319.8 1489.3,329.5 1481.8,327.1" fill="#5e3393"/><path d="M1469.7,315.3 1477.1,317.6 1481.8,327.1 1474.4,324.4" fill="#633091"/><path d="M1462.2,312.9 1469.7,315.3 1474.4,324.4 1466.9,321.7" fill="#672e8f"/><path d="M1454.4,309.4 1462.2,312.9 1466.9,321.7 1459.0,318.0" fill="#6c2c8d"/><path d="M1445.6,304.2 1454.4,309.4 1459.0,318.0 1450.1,312.5" fill="#732b8b"/><path d="M1436.9,299.0 1445.6,304.2 1450.1,312.5 1441.2,307.1" fill="#7b2a89"/><path d="M1428.1,293.9 1436.9,299.0 1441.2,307.1 1432.3,301.7" fill="#852987"/><path d="M1419.3,288.8 1428.1,293.9 1432.3,301.7 1423.4,296.5" fill="#8f2986"/><path d="M1410.5,283.8 1419.3,288.8 1423.4,296.5 1414.5,291.4" fill="#9a2880"/><path d="M1401.4,278.1 1410.5,283.8 1414.5,291.4 1405.3,285.5" fill="#a82877"/><path d="M1391.4,270.9 1401.4,278.1 1405.3,285.5 1395.2,278.0" fill="#b7286d"/><path d="M1381.5,263.4 1391.4,270.9 1395.2,278.0 1385.0,277.5" fill="#b52a61"/><path d="M1371.5,256.2 1381.5,263.4 1385.0,277.5 1374.9,281.8" fill="#a52856"/><path d="M1361.5,264.8 1371.5,256.2 1374.9,281.8 1364.8,285.9" fill="#9c2358"/><path d="M1352.0,270.7 1361.5,264.8 1364.8,285.9 1355.0,290.9" fill="#8f2263"/><path d="M1343.3,281.1 1352.0,270.7 1355.0,290.9 1346.3,299.9" fill="#7d2270"/><path d="M1334.6,290.6 1343.3,281.1 1346.3,299.9 1337.5,308.2" fill="#6d2374"/><path d="M1326.0,299.2 1334.6,290.6 1337.5,308.2 1328.7,315.7" fill="#612577"/><path d="M1317.3,301.2 1326.0,299.2 1328.7,315.7 1320.0,316.6" fill="#5c277b"/><path d="M1308.7,296.1 1317.3,301.2 1320.0,316.6 1311.2,310.9" fill="#5f277b"/><path d="M1300.0,290.5 1308.7,296.1 1311.2,310.9 1302.4,304.7" fill="#652579"/><path d="M1291.4,284.0 1300.0,290.5 1302.4,304.7 1293.7,297.6" fill="#6f2476"/><path d="M1282.8,276.8 1291.4,284.0 1293.7,297.6 1285.0,290.0" fill="#7b2374"/><path d="M1273.7,266.5 1282.8,276.8 1285.0,290.0 1275.9,279.4" fill="#8d236a"/><path d="M1263.6,252.3 1273.7,266.5 1275.9,279.4 1265.9,265.0" fill="#a52759"/><path d="M1253.5,238.0 1263.6,252.3 1265.9,265.0 1255.8,250.4" fill="#b6374b"/><path d="M1243.4,221.9 1253.5,238.0 1255.8,250.4 1245.8,233.8" fill="#c35242"/><path d="M1767.7,307.7 1774.9,314.3 1779.0,322.7 1771.7,315.9" fill="#1e3887"/><path d="M1760.4,301.2 1767.7,307.7 1771.7,315.9 1764.4,309.3" fill="#244898"/><path d="M1753.2,294.7 1760.4,301.2 1764.4,309.3 1757.2,302.6" fill="#2c4e9e"/><path d="M1746.0,290.0 1753.2,294.7 1757.2,302.6 1749.9,297.3" fill="#3654a5"/><path d="M1738.7,289.7 1746.0,290.0 1749.9,297.3 1742.6,295.5" fill="#3d58b0"/><path d="M1731.5,289.6 1738.7,289.7 1742.6,295.5 1735.4,295.1" fill="#3f59b3"/><path d="M1724.2,288.5 1731.5,289.6 1735.4,295.1 1728.1,294.3" fill="#3f57b0"/><path d="M1717.0,287.4 1724.2,288.5 1728.1,294.3 1720.8,293.5" fill="#4055af"/><path d="M1709.7,286.4 1717.0,287.4 1720.8,293.5 1713.6,292.6" fill="#4154ae"/><path d="M1702.5,285.5 1709.7,286.4 1713.6,292.6 1706.3,291.8" fill="#4252ac"/><path d="M1695.3,284.6 1702.5,285.5 1706.3,291.8 1699.0,291.0" fill="#4350ab"/><path d="M1688.5,284.7 1695.3,284.6 1699.0,291.0 1692.2,291.0" fill="#464eaa"/><path d="M1681.8,285.0 1688.5,284.7 1692.2,291.0 1685.5,291.3" fill="#474da9"/><path d="M1675.0,285.4 1681.8,285.0 1685.5,291.3 1678.8,291.6" fill="#494ca8"/><path d="M1668.3,285.8 1675.0,285.4 1678.8,291.6 1672.0,291.9" fill="#4a4aa7"/><path d="M1661.5,286.1 1668.3,285.8 1672.0,291.9 1665.3,292.3" fill="#4c49a7"/><path d="M1654.8,286.5 1661.5,286.1 1665.3,292.3 1658.5,292.6" fill="#4d47a6"/><path d="M1648.1,286.6 1654.8,286.5 1658.5,292.6 1651.8,292.6" fill="#4f46a4"/><path d="M1641.3,286.4 1648.1,286.6 1651.8,292.6 1645.1,292.2" fill="#5143a2"/><path d="M1634.6,286.2 1641.3,286.4 1645.1,292.2 1638.3,291.7" fill="#5341a1"/><path d="M1627.7,285.8 1634.6,286.2 1638.3,291.7 1631.5,291.1" fill="#563fa0"/><path d="M1620.9,285.3 1627.7,285.8 1631.5,291.1 1624.6,290.6" fill="#593d9e"/><path d="M1614.1,284.8 1620.9,285.3 1624.6,290.6 1617.8,290.0" fill="#5b3b9d"/><path d="M1607.3,284.9 1614.1,284.8 1617.8,290.0 1611.0,290.2" fill="#5e399d"/><path d="M1600.5,285.2 1607.3,284.9 1611.0,290.2 1604.2,290.7" fill="#60389c"/><path d="M1593.6,285.5 1600.5,285.2 1604.2,290.7 1597.3,291.1" fill="#61379b"/><path d="M1587.9,287.2 1593.6,285.5 1597.3,291.1 1591.6,293.4" fill="#61369a"/><path d="M1582.2,289.3 1587.9,287.2 1591.6,293.4 1586.0,296.8" fill="#603698"/><path d="M1576.6,291.7 1582.2,289.3 1586.0,296.8 1580.4,300.2" fill="#5d3595"/><path d="M1571.0,294.3 1576.6,291.7 1580.4,300.2 1574.9,303.6" fill="#5b3593"/><path d="M1565.4,297.5 1571.0,294.3 1574.9,303.6 1569.3,307.1" fill="#593593"/><path d="M1559.9,301.3 1565.4,297.5 1569.3,307.1 1563.9,310.8" fill="#583794"/><path d="M1554.8,306.0 1559.9,301.3 1563.9,310.8 1558.9,315.1" fill="#563896"/><path d="M1549.8,310.2 1554.8,306.0 1558.9,315.1 1554.0,318.9" fill="#553b98"/><path d="M1544.8,314.8 1549.8,310.2 1554.0,318.9 1549.0,323.5" fill="#543d9b"/><path d="M1539.7,319.4 1544.8,314.8 1549.0,323.5 1544.0,328.3" fill="#52409d"/><path d="M1534.6,323.9 1539.7,319.4 1544.0,328.3 1539.0,332.8" fill="#4f429f"/><path d="M1528.4,325.8 1534.6,323.9 1539.0,332.8 1532.8,334.9" fill="#4e43a0"/><path d="M1522.2,327.7 1528.4,325.8 1532.8,334.9 1526.6,337.0" fill="#4d43a0"/><path d="M1516.0,329.5 1522.2,327.7 1526.6,337.0 1520.4,338.8" fill="#4d439f"/><path d="M1509.8,330.6 1516.0,329.5 1520.4,338.8 1514.2,339.8" fill="#4d439e"/><path d="M1503.5,331.6 1509.8,330.6 1514.2,339.8 1508.0,340.8" fill="#4f429e"/><path d="M1496.8,331.3 1503.5,331.6 1508.0,340.8 1501.3,340.5" fill="#50409d"/><path d="M1489.3,329.5 1496.8,331.3 1501.3,340.5 1493.8,338.6" fill="#533d9b"/><path d="M1481.8,327.1 1489.3,329.5 1493.8,338.6 1486.2,335.9" fill="#573997"/><path d="M1474.4,324.4 1481.8,327.1 1486.2,335.9 1478.7,332.8" fill="#5b3594"/><path d="M1466.9,321.7 1474.4,324.4 1478.7,332.8 1471.2,329.8" fill="#603292"/><path d="M1459.0,318.0 1466.9,321.7 1471.2,329.8 1463.3,326.0" fill="#662e8f"/><path d="M1450.1,312.5 1459.0,318.0 1463.3,326.0 1454.3,320.3" fill="#6c2c8d"/><path d="M1441.2,307.1 1450.1,312.5 1454.3,320.3 1445.3,314.6" fill="#732b8b"/><path d="M1432.3,301.7 1441.2,307.1 1445.3,314.6 1436.3,309.0" fill="#7c2a89"/><path d="M1423.4,296.5 1432.3,301.7 1436.3,309.0 1427.3,303.7" fill="#872988"/><path d="M1414.5,291.4 1423.4,296.5 1427.3,303.7 1418.3,298.5" fill="#902986"/><path d="M1405.3,285.5 1414.5,291.4 1418.3,298.5 1408.9,292.4" fill="#9c287f"/><path d="M1395.2,278.0 1405.3,285.5 1408.9,292.4 1398.6,295.8" fill="#96256f"/><path d="M1385.0,277.5 1395.2,278.0 1398.6,295.8 1388.3,299.0" fill="#8a2269"/><path d="M1374.9,281.8 1385.0,277.5 1388.3,299.0 1378.0,302.4" fill="#7f226e"/><path d="M1364.8,285.9 1374.9,281.8 1378.0,302.4 1367.8,305.7" fill="#752271"/><path d="M1355.0,290.9 1364.8,285.9 1367.8,305.7 1357.9,309.8" fill="#6c2373"/><path d="M1346.3,299.9 1355.0,290.9 1357.9,309.8 1349.0,317.5" fill="#622476"/><path d="M1337.5,308.2 1346.3,299.9 1349.0,317.5 1340.2,324.7" fill="#59277a"/><path d="M1328.7,315.7 1337.5,308.2 1340.2,324.7 1331.3,331.1" fill="#502c7e"/><path d="M1320.0,316.6 1328.7,315.7 1331.3,331.1 1322.4,331.2" fill="#4d3183"/><path d="M1311.2,310.9 1320.0,316.6 1322.4,331.2 1313.6,325.0" fill="#502e81"/><path d="M1302.4,304.7 1311.2,310.9 1313.6,325.0 1304.7,318.3" fill="#57297d"/><path d="M1293.7,297.6 1302.4,304.7 1304.7,318.3 1295.9,311.0" fill="#5e267a"/><path d="M1285.0,290.0 1293.7,297.6 1295.9,311.0 1287.1,303.0" fill="#662477"/><path d="M1275.9,279.4 1285.0,290.0 1287.1,303.0 1277.9,292.2" fill="#762374"/><path d="M1265.9,265.0 1275.9,279.4 1277.9,292.2 1268.0,277.7" fill="#8e2369"/><path d="M1255.8,250.4 1265.9,265.0 1268.0,277.7 1258.0,262.9" fill="#a82956"/><path d="M1245.8,233.8 1255.8,250.4 1258.0,262.9 1248.1,246.0" fill="#b93d48"/><path d="M1771.7,315.9 1779.0,322.7 1782.7,330.5 1775.4,323.6" fill="#1b2f73"/><path d="M1764.4,309.3 1771.7,315.9 1775.4,323.6 1768.1,316.8" fill="#203e8e"/><path d="M1757.2,302.6 1764.4,309.3 1768.1,316.8 1760.9,310.0" fill="#274c9d"/><path d="M1749.9,297.3 1757.2,302.6 1760.9,310.0 1753.6,304.2" fill="#3051a2"/><path d="M1742.6,295.5 1749.9,297.3 1753.6,304.2 1746.3,300.8" fill="#3958ad"/><path d="M1735.4,295.1 1742.6,295.5 1746.3,300.8 1739.0,300.1" fill="#3d5bb3"/><path d="M1728.1,294.3 1735.4,295.1 1739.0,300.1 1731.7,299.2" fill="#3e59b2"/><path d="M1720.8,293.5 1728.1,294.3 1731.7,299.2 1724.4,298.4" fill="#3f58b1"/><path d="M1713.6,292.6 1720.8,293.5 1724.4,298.4 1717.1,297.5" fill="#4056b1"/><path d="M1706.3,291.8 1713.6,292.6 1717.1,297.5 1709.8,296.6" fill="#4155b0"/><path d="M1699.0,291.0 1706.3,291.8 1709.8,296.6 1702.5,295.8" fill="#4354af"/><path d="M1692.2,291.0 1699.0,291.0 1702.5,295.8 1695.7,295.8" fill="#4453af"/><path d="M1685.5,291.3 1692.2,291.0 1695.7,295.8 1689.0,296.1" fill="#4552ae"/><path d="M1678.8,291.6 1685.5,291.3 1689.0,296.1 1682.3,296.4" fill="#4650ad"/><path d="M1672.0,291.9 1678.8,291.6 1682.3,296.4 1675.5,296.7" fill="#484fac"/><path d="M1665.3,292.3 1672.0,291.9 1675.5,296.7 1668.8,297.0" fill="#494dab"/><path d="M1658.5,292.6 1665.3,292.3 1668.8,297.0 1662.0,297.4" fill="#4b4caa"/><path d="M1651.8,292.6 1658.5,292.6 1662.0,297.4 1655.3,297.7" fill="#4c4aa9"/><path d="M1645.1,292.2 1651.8,292.6 1655.3,297.7 1648.5,297.6" fill="#4e47a6"/><path d="M1638.3,291.7 1645.1,292.2 1648.5,297.6 1641.8,297.5" fill="#4f45a3"/><path d="M1631.5,291.1 1638.3,291.7 1641.8,297.5 1634.9,297.3" fill="#5142a0"/><path d="M1624.6,290.6 1631.5,291.1 1634.9,297.3 1628.1,297.2" fill="#533f9e"/><path d="M1617.8,290.0 1624.6,290.6 1628.1,297.2 1621.3,297.0" fill="#553c9b"/><path d="M1611.0,290.2 1617.8,290.0 1621.3,297.0 1614.4,297.5" fill="#563b9a"/><path d="M1604.2,290.7 1611.0,290.2 1614.4,297.5 1607.6,298.1" fill="#573a98"/><path d="M1597.3,291.1 1604.2,290.7 1607.6,298.1 1600.8,298.7" fill="#583997"/><path d="M1591.6,293.4 1597.3,291.1 1600.8,298.7 1595.1,301.8" fill="#573896"/><path d="M1586.0,296.8 1591.6,293.4 1595.1,301.8 1589.6,305.3" fill="#563895"/><path d="M1580.4,300.2 1586.0,296.8 1589.6,305.3 1584.0,308.9" fill="#543996"/><path d="M1574.9,303.6 1580.4,300.2 1584.0,308.9 1578.5,312.5" fill="#533b97"/><path d="M1569.3,307.1 1574.9,303.6 1578.5,312.5 1573.0,316.1" fill="#513c98"/><path d="M1563.9,310.8 1569.3,307.1 1573.0,316.1 1567.6,319.7" fill="#4f3e99"/><path d="M1558.9,315.1 1563.9,310.8 1567.6,319.7 1562.7,323.6" fill="#4e3f9a"/><path d="M1554.0,318.9 1558.9,315.1 1562.7,323.6 1557.8,327.0" fill="#4d419d"/><path d="M1549.0,323.5 1554.0,318.9 1557.8,327.0 1552.9,331.7" fill="#4d44a0"/><path d="M1544.0,328.3 1549.0,323.5 1552.9,331.7 1548.0,336.7" fill="#4a47a2"/><path d="M1539.0,332.8 1544.0,328.3 1548.0,336.7 1543.1,342.3" fill="#4749a3"/><path d="M1532.8,334.9 1539.0,332.8 1543.1,342.3 1536.9,344.6" fill="#444aa2"/><path d="M1526.6,337.0 1532.8,334.9 1536.9,344.6 1530.7,346.9" fill="#444aa2"/><path d="M1520.4,338.8 1526.6,337.0 1530.7,346.9 1524.6,348.9" fill="#434aa1"/><path d="M1514.2,339.8 1520.4,338.8 1524.6,348.9 1518.4,349.9" fill="#4349a0"/><path d="M1508.0,340.8 1514.2,339.8 1518.4,349.9 1512.2,350.9" fill="#44489f"/><path d="M1501.3,340.5 1508.0,340.8 1512.2,350.9 1505.4,350.5" fill="#46469f"/><path d="M1493.8,338.6 1501.3,340.5 1505.4,350.5 1497.9,348.2" fill="#4a449d"/><path d="M1486.2,335.9 1493.8,338.6 1497.9,348.2 1490.4,345.0" fill="#4e3f99"/><path d="M1478.7,332.8 1486.2,335.9 1490.4,345.0 1482.8,341.4" fill="#533a96"/><path d="M1471.2,329.8 1478.7,332.8 1482.8,341.4 1475.3,337.8" fill="#593694"/><path d="M1463.3,326.0 1471.2,329.8 1475.3,337.8 1467.3,333.5" fill="#5f3292"/><path d="M1454.3,320.3 1463.3,326.0 1467.3,333.5 1458.2,327.5" fill="#662e8f"/><path d="M1445.3,314.6 1454.3,320.3 1458.2,327.5 1449.1,321.6" fill="#6e2c8d"/><path d="M1436.3,309.0 1445.3,314.6 1449.1,321.6 1440.0,315.8" fill="#752b8b"/><path d="M1427.3,303.7 1436.3,309.0 1440.0,315.8 1430.9,310.5" fill="#7f2a89"/><path d="M1418.3,298.5 1427.3,303.7 1430.9,310.5 1421.8,305.4" fill="#892987"/><path d="M1408.9,292.4 1418.3,298.5 1421.8,305.4 1412.3,313.7" fill="#7c2578"/><path d="M1398.6,295.8 1408.9,292.4 1412.3,313.7 1401.9,316.5" fill="#6f2372"/><path d="M1388.3,299.0 1398.6,295.8 1401.9,316.5 1391.4,318.9" fill="#682374"/><path d="M1378.0,302.4 1388.3,299.0 1391.4,318.9 1381.0,321.6" fill="#612475"/><path d="M1367.8,305.7 1378.0,302.4 1381.0,321.6 1370.5,324.1" fill="#5c2577"/><path d="M1357.9,309.8 1367.8,305.7 1370.5,324.1 1360.5,327.4" fill="#572779"/><path d="M1349.0,317.5 1357.9,309.8 1360.5,327.4 1351.6,333.9" fill="#502c7d"/><path d="M1340.2,324.7 1349.0,317.5 1351.6,333.9 1342.6,340.0" fill="#483282"/><path d="M1331.3,331.1 1340.2,324.7 1342.6,340.0 1333.7,345.4" fill="#413a88"/><path d="M1322.4,331.2 1331.3,331.1 1333.7,345.4 1324.7,344.9" fill="#3e3e8c"/><path d="M1313.6,325.0 1322.4,331.2 1324.7,344.9 1315.8,338.4" fill="#413b8a"/><path d="M1304.7,318.3 1313.6,325.0 1315.8,338.4 1306.8,331.5" fill="#483485"/><path d="M1295.9,311.0 1304.7,318.3 1306.8,331.5 1297.9,324.0" fill="#502d80"/><path d="M1287.1,303.0 1295.9,311.0 1297.9,324.0 1289.0,315.8" fill="#59277b"/><path d="M1277.9,292.2 1287.1,303.0 1289.0,315.8 1279.8,304.9" fill="#632577"/><path d="M1268.0,277.7 1277.9,292.2 1279.8,304.9 1270.0,290.5" fill="#762373"/><path d="M1258.0,262.9 1268.0,277.7 1270.0,290.5 1260.1,275.5" fill="#932365"/><path d="M1248.1,246.0 1258.0,262.9 1260.1,275.5 1250.2,258.4" fill="#ac2c51"/><path d="M1775.4,323.6 1782.7,330.5 1786.2,337.7 1778.9,330.7" fill="#192760"/><path d="M1768.1,316.8 1775.4,323.6 1778.9,330.7 1771.6,323.8" fill="#1d3580"/><path d="M1760.9,310.0 1768.1,316.8 1771.6,323.8 1764.3,316.8" fill="#234595"/><path d="M1753.6,304.2 1760.9,310.0 1764.3,316.8 1757.0,310.5" fill="#2b4fa0"/><path d="M1746.3,300.8 1753.6,304.2 1757.0,310.5 1749.6,305.8" fill="#3455a8"/><path d="M1739.0,300.1 1746.3,300.8 1749.6,305.8 1742.3,304.7" fill="#3c5cb4"/><path d="M1731.7,299.2 1739.0,300.1 1742.3,304.7 1735.0,303.8" fill="#3d5bb3"/><path d="M1724.4,298.4 1731.7,299.2 1735.0,303.8 1727.7,302.9" fill="#3e59b2"/><path d="M1717.1,297.5 1724.4,298.4 1727.7,302.9 1720.4,302.0" fill="#3f58b1"/><path d="M1709.8,296.6 1717.1,297.5 1720.4,302.0 1713.1,301.1" fill="#4057b1"/><path d="M1702.5,295.8 1709.8,296.6 1713.1,301.1 1705.7,300.2" fill="#4155b0"/><path d="M1695.7,295.8 1702.5,295.8 1705.7,300.2 1699.0,300.3" fill="#4254b0"/><path d="M1689.0,296.1 1695.7,295.8 1699.0,300.3 1692.2,300.6" fill="#4353af"/><path d="M1682.3,296.4 1689.0,296.1 1692.2,300.6 1685.5,300.9" fill="#4453af"/><path d="M1675.5,296.7 1682.3,296.4 1685.5,300.9 1678.7,301.2" fill="#4551ae"/><path d="M1668.8,297.0 1675.5,296.7 1678.7,301.2 1672.0,301.5" fill="#4750ad"/><path d="M1662.0,297.4 1668.8,297.0 1672.0,301.5 1665.2,301.8" fill="#484eac"/><path d="M1655.3,297.7 1662.0,297.4 1665.2,301.8 1658.5,302.3" fill="#4a4dab"/><path d="M1648.5,297.6 1655.3,297.7 1658.5,302.3 1651.8,302.6" fill="#4b4ba9"/><path d="M1641.8,297.5 1648.5,297.6 1651.8,302.6 1645.0,302.9" fill="#4c49a6"/><path d="M1634.9,297.3 1641.8,297.5 1645.0,302.9 1638.1,303.0" fill="#4d46a4"/><path d="M1628.1,297.2 1634.9,297.3 1638.1,303.0 1631.3,303.4" fill="#4f44a2"/><path d="M1621.3,297.0 1628.1,297.2 1631.3,303.4 1624.5,303.7" fill="#4f429f"/><path d="M1614.4,297.5 1621.3,297.0 1624.5,303.7 1617.6,304.5" fill="#50409d"/><path d="M1607.6,298.1 1614.4,297.5 1617.6,304.5 1610.8,305.4" fill="#503f9b"/><path d="M1600.8,298.7 1607.6,298.1 1610.8,305.4 1604.0,306.2" fill="#513e9a"/><path d="M1595.1,301.8 1600.8,298.7 1604.0,306.2 1598.3,309.5" fill="#503d99"/><path d="M1589.6,305.3 1595.1,301.8 1598.3,309.5 1592.8,313.1" fill="#4f3f9a"/><path d="M1584.0,308.9 1589.6,305.3 1592.8,313.1 1587.3,316.9" fill="#4d409b"/><path d="M1578.5,312.5 1584.0,308.9 1587.3,316.9 1581.8,320.6" fill="#4b429c"/><path d="M1573.0,316.1 1578.5,312.5 1581.8,320.6 1576.4,324.5" fill="#49449d"/><path d="M1567.6,319.7 1573.0,316.1 1576.4,324.5 1571.0,328.0" fill="#48459e"/><path d="M1562.7,323.6 1567.6,319.7 1571.0,328.0 1566.2,331.5" fill="#47469f"/><path d="M1557.8,327.0 1562.7,323.6 1566.2,331.5 1561.4,334.6" fill="#4647a0"/><path d="M1552.9,331.7 1557.8,327.0 1561.4,334.6 1556.6,340.5" fill="#454aa3"/><path d="M1548.0,336.7 1552.9,331.7 1556.6,340.5 1551.8,346.5" fill="#414ca2"/><path d="M1543.1,342.3 1548.0,336.7 1551.8,346.5 1546.9,352.0" fill="#3e4ea3"/><path d="M1536.9,344.6 1543.1,342.3 1546.9,352.0 1540.7,354.3" fill="#3e4fa4"/><path d="M1530.7,346.9 1536.9,344.6 1540.7,354.3 1534.6,356.5" fill="#3d4fa4"/><path d="M1524.6,348.9 1530.7,346.9 1534.6,356.5 1528.4,358.4" fill="#3d50a5"/><path d="M1518.4,349.9 1524.6,348.9 1528.4,358.4 1522.2,359.3" fill="#3d4fa4"/><path d="M1512.2,350.9 1518.4,349.9 1522.2,359.3 1516.1,360.2" fill="#3e4fa4"/><path d="M1505.4,350.5 1512.2,350.9 1516.1,360.2 1509.3,359.7" fill="#3f4ea4"/><path d="M1497.9,348.2 1505.4,350.5 1509.3,359.7 1501.7,357.2" fill="#414ca2"/><path d="M1490.4,345.0 1497.9,348.2 1501.7,357.2 1494.2,353.9" fill="#45469e"/><path d="M1482.8,341.4 1490.4,345.0 1494.2,353.9 1486.6,349.9" fill="#4b419a"/><path d="M1475.3,337.8 1482.8,341.4 1486.6,349.9 1479.0,346.0" fill="#513b96"/><path d="M1467.3,333.5 1475.3,337.8 1479.0,346.0 1471.0,341.3" fill="#583693"/><path d="M1458.2,327.5 1467.3,333.5 1471.0,341.3 1461.8,334.6" fill="#603191"/><path d="M1449.1,321.6 1458.2,327.5 1461.8,334.6 1452.6,328.1" fill="#682d8e"/><path d="M1440.0,315.8 1449.1,321.6 1452.6,328.1 1443.4,322.1" fill="#702c8c"/><path d="M1430.9,310.5 1440.0,315.8 1443.4,322.1 1434.3,316.7" fill="#782a8b"/><path d="M1421.8,305.4 1430.9,310.5 1434.3,316.7 1425.1,326.1" fill="#6c267b"/><path d="M1412.3,313.7 1421.8,305.4 1425.1,326.1 1415.5,333.6" fill="#5f2576"/><path d="M1401.9,316.5 1412.3,313.7 1415.5,333.6 1404.9,335.7" fill="#572678"/><path d="M1391.4,318.9 1401.9,316.5 1404.9,335.7 1394.3,337.4" fill="#53297b"/><path d="M1381.0,321.6 1391.4,318.9 1394.3,337.4 1383.7,339.3" fill="#4e2c7d"/><path d="M1370.5,324.1 1381.0,321.6 1383.7,339.3 1373.1,341.1" fill="#4a307f"/><path d="M1360.5,327.4 1370.5,324.1 1373.1,341.1 1363.0,343.7" fill="#463482"/><path d="M1351.6,333.9 1360.5,327.4 1363.0,343.7 1354.0,349.1" fill="#403a88"/><path d="M1342.6,340.0 1351.6,333.9 1354.0,349.1 1344.9,354.2" fill="#39418d"/><path d="M1333.7,345.4 1342.6,340.0 1344.9,354.2 1335.9,358.6" fill="#364690"/><path d="M1324.7,344.9 1333.7,345.4 1335.9,358.6 1326.8,357.6" fill="#354893"/><path d="M1315.8,338.4 1324.7,344.9 1326.8,357.6 1317.8,351.1" fill="#374692"/><path d="M1306.8,331.5 1315.8,338.4 1317.8,351.1 1308.8,344.2" fill="#3b418e"/><path d="M1297.9,324.0 1306.8,331.5 1308.8,344.2 1299.8,336.5" fill="#433988"/><path d="M1289.0,315.8 1297.9,324.0 1299.8,336.5 1290.8,328.3" fill="#4b3082"/><path d="M1279.8,304.9 1289.0,315.8 1290.8,328.3 1281.6,317.4" fill="#56287b"/><path d="M1270.0,290.5 1279.8,304.9 1281.6,317.4 1271.8,303.2" fill="#632477"/><path d="M1260.1,275.5 1270.0,290.5 1271.8,303.2 1262.0,288.3" fill="#7a2372"/><path d="M1250.2,258.4 1260.1,275.5 1262.0,288.3 1252.2,271.0" fill="#9b235e"/><path d="M1778.9,330.7 1786.2,337.7 1789.4,343.7 1782.1,337.2" fill="#141c44"/><path d="M1771.6,323.8 1778.9,330.7 1782.1,337.2 1774.8,330.2" fill="#1b2e70"/><path d="M1764.3,316.8 1771.6,323.8 1774.8,330.2 1767.4,323.1" fill="#203d8c"/><path d="M1757.0,310.5 1764.3,316.8 1767.4,323.1 1760.1,316.3" fill="#264c9e"/><path d="M1749.6,305.8 1757.0,310.5 1760.1,316.3 1752.7,310.3" fill="#3051a3"/><path d="M1742.3,304.7 1749.6,305.8 1752.7,310.3 1745.4,309.0" fill="#395ab2"/><path d="M1735.0,303.8 1742.3,304.7 1745.4,309.0 1738.1,308.1" fill="#3c5cb4"/><path d="M1727.7,302.9 1735.0,303.8 1738.1,308.1 1730.7,307.5" fill="#3d5bb3"/><path d="M1720.4,302.0 1727.7,302.9 1730.7,307.5 1723.4,307.0" fill="#3e59b1"/><path d="M1713.1,301.1 1720.4,302.0 1723.4,307.0 1716.1,306.5" fill="#3e57af"/><path d="M1705.7,300.2 1713.1,301.1 1716.1,306.5 1708.7,306.1" fill="#3e55ad"/><path d="M1699.0,300.3 1705.7,300.2 1708.7,306.1 1701.9,306.2" fill="#3f53ab"/><path d="M1692.2,300.6 1699.0,300.3 1701.9,306.2 1695.2,306.6" fill="#3f52aa"/><path d="M1685.5,300.9 1692.2,300.6 1695.2,306.6 1688.5,306.9" fill="#4051a9"/><path d="M1678.7,301.2 1685.5,300.9 1688.5,306.9 1681.7,307.3" fill="#4051a9"/><path d="M1672.0,301.5 1678.7,301.2 1681.7,307.3 1675.0,307.7" fill="#4150a8"/><path d="M1665.2,301.8 1672.0,301.5 1675.0,307.7 1668.2,308.0" fill="#414fa7"/><path d="M1658.5,302.3 1665.2,301.8 1668.2,308.0 1661.5,308.8" fill="#424ea6"/><path d="M1651.8,302.6 1658.5,302.3 1661.5,308.8 1654.7,309.5" fill="#434ca4"/><path d="M1645.0,302.9 1651.8,302.6 1654.7,309.5 1647.9,310.1" fill="#444aa2"/><path d="M1638.1,303.0 1645.0,302.9 1647.9,310.1 1641.1,310.6" fill="#4448a0"/><path d="M1631.3,303.4 1638.1,303.0 1641.1,310.6 1634.3,311.4" fill="#45469d"/><path d="M1624.5,303.7 1631.3,303.4 1634.3,311.4 1627.4,312.3" fill="#45459b"/><path d="M1617.6,304.5 1624.5,303.7 1627.4,312.3 1620.6,313.4" fill="#45439a"/><path d="M1610.8,305.4 1617.6,304.5 1620.6,313.4 1613.7,314.6" fill="#454398"/><path d="M1604.0,306.2 1610.8,305.4 1613.7,314.6 1606.9,315.7" fill="#454297"/><path d="M1598.3,309.5 1604.0,306.2 1606.9,315.7 1601.3,318.4" fill="#454297"/><path d="M1592.8,313.1 1598.3,309.5 1601.3,318.4 1595.8,321.4" fill="#45449a"/><path d="M1587.3,316.9 1592.8,313.1 1595.8,321.4 1590.4,324.6" fill="#45469d"/><path d="M1581.8,320.6 1587.3,316.9 1590.4,324.6 1584.9,328.2" fill="#4449a0"/><path d="M1576.4,324.5 1581.8,320.6 1584.9,328.2 1579.5,332.1" fill="#424ba2"/><path d="M1571.0,328.0 1576.4,324.5 1579.5,332.1 1574.2,335.6" fill="#414ca2"/><path d="M1566.2,331.5 1571.0,328.0 1574.2,335.6 1569.4,339.3" fill="#3f4ca2"/><path d="M1561.4,334.6 1566.2,331.5 1569.4,339.3 1564.7,343.5" fill="#3e4ca0"/><path d="M1556.6,340.5 1561.4,334.6 1564.7,343.5 1559.9,349.5" fill="#3d4ea2"/><path d="M1551.8,346.5 1556.6,340.5 1559.9,349.5 1555.2,355.4" fill="#3c50a4"/><path d="M1546.9,352.0 1551.8,346.5 1555.2,355.4 1550.4,361.0" fill="#3b52a5"/><path d="M1540.7,354.3 1546.9,352.0 1550.4,361.0 1544.2,363.2" fill="#3a53a6"/><path d="M1534.6,356.5 1540.7,354.3 1544.2,363.2 1538.1,365.3" fill="#3a54a7"/><path d="M1528.4,358.4 1534.6,356.5 1538.1,365.3 1531.9,367.1" fill="#3a54a7"/><path d="M1522.2,359.3 1528.4,358.4 1531.9,367.1 1525.8,368.0" fill="#3a53a6"/><path d="M1516.1,360.2 1522.2,359.3 1525.8,368.0 1519.6,368.8" fill="#3b53a6"/><path d="M1509.3,359.7 1516.1,360.2 1519.6,368.8 1512.9,368.1" fill="#3c52a6"/><path d="M1501.7,357.2 1509.3,359.7 1512.9,368.1 1505.3,365.5" fill="#3d50a5"/><path d="M1494.2,353.9 1501.7,357.2 1505.3,365.5 1497.7,362.0" fill="#3f4da3"/><path d="M1486.6,349.9 1494.2,353.9 1497.7,362.0 1490.1,357.8" fill="#44479e"/><path d="M1479.0,346.0 1486.6,349.9 1490.1,357.8 1482.5,353.6" fill="#4a429a"/><path d="M1471.0,341.3 1479.0,346.0 1482.5,353.6 1474.4,348.5" fill="#513b96"/><path d="M1461.8,334.6 1471.0,341.3 1474.4,348.5 1465.1,341.9" fill="#593693"/><path d="M1452.6,328.1 1461.8,334.6 1465.1,341.9 1455.8,334.9" fill="#612f8f"/><path d="M1443.4,322.1 1452.6,328.1 1455.8,334.9 1446.6,327.9" fill="#6a2c8d"/><path d="M1434.3,316.7 1443.4,322.1 1446.6,327.9 1437.3,335.6" fill="#63287f"/><path d="M1425.1,326.1 1434.3,316.7 1437.3,335.6 1428.1,345.8" fill="#562779"/><path d="M1415.5,333.6 1425.1,326.1 1428.1,345.8 1418.4,352.0" fill="#4b2f7f"/><path d="M1404.9,335.7 1415.5,333.6 1418.4,352.0 1407.7,353.3" fill="#453483"/><path d="M1394.3,337.4 1404.9,335.7 1407.7,353.3 1396.9,354.4" fill="#413885"/><path d="M1383.7,339.3 1394.3,337.4 1396.9,354.4 1386.2,355.6" fill="#3d3c88"/><path d="M1373.1,341.1 1383.7,339.3 1386.2,355.6 1375.5,356.8" fill="#393f8a"/><path d="M1363.0,343.7 1373.1,341.1 1375.5,356.8 1365.3,358.6" fill="#36438d"/><path d="M1354.0,349.1 1363.0,343.7 1365.3,358.6 1356.2,363.1" fill="#354690"/><path d="M1344.9,354.2 1354.0,349.1 1356.2,363.1 1347.0,367.2" fill="#324a92"/><path d="M1335.9,358.6 1344.9,354.2 1347.0,367.2 1337.9,370.8" fill="#2f4b93"/><path d="M1326.8,357.6 1335.9,358.6 1337.9,370.8 1328.8,369.5" fill="#2d4a94"/><path d="M1317.8,351.1 1326.8,357.6 1328.8,369.5 1319.7,363.1" fill="#314c95"/><path d="M1308.8,344.2 1317.8,351.1 1319.7,363.1 1310.6,356.2" fill="#344992"/><path d="M1299.8,336.5 1308.8,344.2 1310.6,356.2 1301.5,348.6" fill="#37448f"/><path d="M1290.8,328.3 1299.8,336.5 1301.5,348.6 1292.5,340.4" fill="#3f3c89"/><path d="M1281.6,317.4 1290.8,328.3 1292.5,340.4 1283.2,329.7" fill="#493282"/><path d="M1271.8,303.2 1281.6,317.4 1283.2,329.7 1273.5,315.8" fill="#56277a"/><path d="M1262.0,288.3 1271.8,303.2 1273.5,315.8 1263.7,301.0" fill="#662475"/><path d="M1252.2,271.0 1262.0,288.3 1263.7,301.0 1254.0,283.7" fill="#80226f"/><path d="M1782.1,337.2 1789.4,343.7 1792.4,349.5 1785.0,344.2" fill="#10152f"/><path d="M1774.8,330.2 1782.1,337.2 1785.0,344.2 1777.6,338.6" fill="#18255a"/><path d="M1767.4,323.1 1774.8,330.2 1777.6,338.6 1770.3,332.8" fill="#1c3278"/><path d="M1760.1,316.3 1767.4,323.1 1770.3,332.8 1762.9,327.3" fill="#203f8c"/><path d="M1752.7,310.3 1760.1,316.3 1762.9,327.3 1755.6,322.6" fill="#254997"/><path d="M1745.4,309.0 1752.7,310.3 1755.6,322.6 1748.2,321.8" fill="#2a4b98"/><path d="M1738.1,308.1 1745.4,309.0 1748.2,321.8 1740.9,321.5" fill="#2c4c98"/><path d="M1730.7,307.5 1738.1,308.1 1740.9,321.5 1733.5,321.2" fill="#2d4c98"/><path d="M1723.4,307.0 1730.7,307.5 1733.5,321.2 1726.2,320.9" fill="#2f4c97"/><path d="M1716.1,306.5 1723.4,307.0 1726.2,320.9 1718.8,320.7" fill="#304d97"/><path d="M1708.7,306.1 1716.1,306.5 1718.8,320.7 1711.4,320.5" fill="#314d97"/><path d="M1701.9,306.2 1708.7,306.1 1711.4,320.5 1704.7,320.8" fill="#324d97"/><path d="M1695.2,306.6 1701.9,306.2 1704.7,320.8 1697.9,321.4" fill="#334c96"/><path d="M1688.5,306.9 1695.2,306.6 1697.9,321.4 1691.2,321.9" fill="#334b95"/><path d="M1681.7,307.3 1688.5,306.9 1691.2,321.9 1684.4,322.4" fill="#344b95"/><path d="M1675.0,307.7 1681.7,307.3 1684.4,322.4 1677.7,323.0" fill="#344a94"/><path d="M1668.2,308.0 1675.0,307.7 1677.7,323.0 1670.9,323.5" fill="#344994"/><path d="M1661.5,308.8 1668.2,308.0 1670.9,323.5 1664.2,324.4" fill="#354993"/><path d="M1654.7,309.5 1661.5,308.8 1664.2,324.4 1657.4,325.2" fill="#354893"/><path d="M1647.9,310.1 1654.7,309.5 1657.4,325.2 1650.6,325.9" fill="#354893"/><path d="M1641.1,310.6 1647.9,310.1 1650.6,325.9 1643.8,326.5" fill="#364792"/><path d="M1634.3,311.4 1641.1,310.6 1643.8,326.5 1637.0,327.5" fill="#364792"/><path d="M1627.4,312.3 1634.3,311.4 1637.0,327.5 1630.1,328.4" fill="#364792"/><path d="M1620.6,313.4 1627.4,312.3 1630.1,328.4 1623.3,329.5" fill="#364792"/><path d="M1613.7,314.6 1620.6,313.4 1623.3,329.5 1616.4,330.8" fill="#364692"/><path d="M1606.9,315.7 1613.7,314.6 1616.4,330.8 1609.6,331.9" fill="#364691"/><path d="M1601.3,318.4 1606.9,315.7 1609.6,331.9 1604.0,334.5" fill="#364690"/><path d="M1595.8,321.4 1601.3,318.4 1604.0,334.5 1598.6,337.5" fill="#354690"/><path d="M1590.4,324.6 1595.8,321.4 1598.6,337.5 1593.2,340.6" fill="#354691"/><path d="M1584.9,328.2 1590.4,324.6 1593.2,340.6 1587.7,343.7" fill="#354791"/><path d="M1579.5,332.1 1584.9,328.2 1587.7,343.7 1582.3,346.9" fill="#354893"/><path d="M1574.2,335.6 1579.5,332.1 1582.3,346.9 1577.1,349.6" fill="#354993"/><path d="M1569.4,339.3 1574.2,335.6 1577.1,349.6 1572.4,352.7" fill="#344994"/><path d="M1564.7,343.5 1569.4,339.3 1572.4,352.7 1567.7,356.2" fill="#354a96"/><path d="M1559.9,349.5 1564.7,343.5 1567.7,356.2 1563.0,361.2" fill="#354d99"/><path d="M1555.2,355.4 1559.9,349.5 1563.0,361.2 1558.3,366.3" fill="#34509d"/><path d="M1550.4,361.0 1555.2,355.4 1558.3,366.3 1553.5,371.2" fill="#33509f"/><path d="M1544.2,363.2 1550.4,361.0 1553.5,371.2 1547.4,373.2" fill="#3251a1"/><path d="M1538.1,365.3 1544.2,363.2 1547.4,373.2 1541.3,375.0" fill="#3251a1"/><path d="M1531.9,367.1 1538.1,365.3 1541.3,375.0 1535.1,376.6" fill="#3252a2"/><path d="M1525.8,368.0 1531.9,367.1 1535.1,376.6 1529.0,377.4" fill="#3352a2"/><path d="M1519.6,368.8 1525.8,368.0 1529.0,377.4 1522.9,378.0" fill="#3553a3"/><path d="M1512.9,368.1 1519.6,368.8 1522.9,378.0 1516.1,377.4" fill="#3754a4"/><path d="M1505.3,365.5 1512.9,368.1 1516.1,377.4 1508.5,375.0" fill="#3852a3"/><path d="M1497.7,362.0 1505.3,365.5 1508.5,375.0 1500.9,371.4" fill="#3a4fa0"/><path d="M1490.1,357.8 1497.7,362.0 1500.9,371.4 1493.2,366.6" fill="#3c4b9e"/><path d="M1482.5,353.6 1490.1,357.8 1493.2,366.6 1485.6,361.6" fill="#41479b"/><path d="M1474.4,348.5 1482.5,353.6 1485.6,361.6 1477.5,355.5" fill="#494198"/><path d="M1465.1,341.9 1474.4,348.5 1477.5,355.5 1468.1,348.5" fill="#533a96"/><path d="M1455.8,334.9 1465.1,341.9 1468.1,348.5 1458.8,341.8" fill="#5b3492"/><path d="M1446.6,327.9 1455.8,334.9 1458.8,341.8 1449.5,345.1" fill="#582c83"/><path d="M1437.3,335.6 1446.6,327.9 1449.5,345.1 1440.1,355.5" fill="#4e2d7e"/><path d="M1428.1,345.8 1437.3,335.6 1440.1,355.5 1430.8,363.8" fill="#423784"/><path d="M1418.4,352.0 1428.1,345.8 1430.8,363.8 1421.0,368.7" fill="#39408b"/><path d="M1407.7,353.3 1418.4,352.0 1421.0,368.7 1410.2,369.4" fill="#36448d"/><path d="M1396.9,354.4 1407.7,353.3 1410.2,369.4 1399.3,369.9" fill="#34458e"/><path d="M1386.2,355.6 1396.9,354.4 1399.3,369.9 1388.5,370.5" fill="#33478f"/><path d="M1375.5,356.8 1386.2,355.6 1388.5,370.5 1377.7,371.1" fill="#314990"/><path d="M1365.3,358.6 1375.5,356.8 1377.7,371.1 1367.3,372.3" fill="#304a91"/><path d="M1356.2,363.1 1365.3,358.6 1367.3,372.3 1358.1,375.9" fill="#2c4992"/><path d="M1347.0,367.2 1356.2,363.1 1358.1,375.9 1349.0,379.1" fill="#284891"/><path d="M1337.9,370.8 1347.0,367.2 1349.0,379.1 1339.8,382.0" fill="#234691"/><path d="M1328.8,369.5 1337.9,370.8 1339.8,382.0 1330.6,380.4" fill="#224590"/><path d="M1319.7,363.1 1328.8,369.5 1330.6,380.4 1321.4,374.2" fill="#264792"/><path d="M1310.6,356.2 1319.7,363.1 1321.4,374.2 1312.2,367.6" fill="#2c4a93"/><path d="M1301.5,348.6 1310.6,356.2 1312.2,367.6 1303.1,360.2" fill="#324a93"/><path d="M1292.5,340.4 1301.5,348.6 1303.1,360.2 1294.0,352.1" fill="#35458f"/><path d="M1283.2,329.7 1292.5,340.4 1294.0,352.1 1284.7,341.8" fill="#3c3e8a"/><path d="M1273.5,315.8 1283.2,329.7 1284.7,341.8 1275.0,328.3" fill="#493181"/><path d="M1263.7,301.0 1273.5,315.8 1275.0,328.3 1265.3,313.8" fill="#582679"/><path d="M1254.0,283.7 1263.7,301.0 1265.3,313.8 1255.6,296.7" fill="#6b2373"/><path d="M1785.0,344.2 1792.4,349.5 1795.0,355.2 1787.6,351.1" fill="#0c0f20"/><path d="M1777.6,338.6 1785.0,344.2 1787.6,351.1 1780.3,346.7" fill="#121734"/><path d="M1770.3,332.8 1777.6,338.6 1780.3,346.7 1772.9,342.2" fill="#18265d"/><path d="M1762.9,327.3 1770.3,332.8 1772.9,342.2 1765.5,337.9" fill="#1b3074"/><path d="M1755.6,322.6 1762.9,327.3 1765.5,337.9 1758.1,334.2" fill="#1e3985"/><path d="M1748.2,321.8 1755.6,322.6 1758.1,334.2 1750.8,333.8" fill="#21408d"/><path d="M1740.9,321.5 1748.2,321.8 1750.8,333.8 1743.4,333.7" fill="#21428f"/><path d="M1733.5,321.2 1740.9,321.5 1743.4,333.7 1736.0,333.6" fill="#224491"/><path d="M1726.2,320.9 1733.5,321.2 1736.0,333.6 1728.6,333.6" fill="#234693"/><path d="M1718.8,320.7 1726.2,320.9 1728.6,333.6 1721.3,333.5" fill="#234895"/><path d="M1711.4,320.5 1718.8,320.7 1721.3,333.5 1713.9,333.5" fill="#254894"/><path d="M1704.7,320.8 1711.4,320.5 1713.9,333.5 1707.1,334.0" fill="#254894"/><path d="M1697.9,321.4 1704.7,320.8 1707.1,334.0 1700.4,334.7" fill="#264894"/><path d="M1691.2,321.9 1697.9,321.4 1700.4,334.7 1693.6,335.4" fill="#274994"/><path d="M1684.4,322.4 1691.2,321.9 1693.6,335.4 1686.9,336.1" fill="#284994"/><path d="M1677.7,323.0 1684.4,322.4 1686.9,336.1 1680.1,336.8" fill="#294994"/><path d="M1670.9,323.5 1677.7,323.0 1680.1,336.8 1673.4,337.5" fill="#294994"/><path d="M1664.2,324.4 1670.9,323.5 1673.4,337.5 1666.6,338.5" fill="#2a4994"/><path d="M1657.4,325.2 1664.2,324.4 1666.6,338.5 1659.9,339.4" fill="#2b4a94"/><path d="M1650.6,325.9 1657.4,325.2 1659.9,339.4 1653.1,340.2" fill="#2b4a94"/><path d="M1643.8,326.5 1650.6,325.9 1653.1,340.2 1646.2,341.0" fill="#2c4a94"/><path d="M1637.0,327.5 1643.8,326.5 1646.2,341.0 1639.4,342.0" fill="#2c4a94"/><path d="M1630.1,328.4 1637.0,327.5 1639.4,342.0 1632.5,343.0" fill="#2d4a94"/><path d="M1623.3,329.5 1630.1,328.4 1632.5,343.0 1625.7,344.2" fill="#2d4a94"/><path d="M1616.4,330.8 1623.3,329.5 1625.7,344.2 1618.8,345.4" fill="#2d4a94"/><path d="M1609.6,331.9 1616.4,330.8 1618.8,345.4 1612.0,346.6" fill="#2d4a94"/><path d="M1604.0,334.5 1609.6,331.9 1612.0,346.6 1606.4,349.2" fill="#2d4992"/><path d="M1598.6,337.5 1604.0,334.5 1606.4,349.2 1601.0,352.1" fill="#2c4992"/><path d="M1593.2,340.6 1598.6,337.5 1601.0,352.1 1595.7,355.0" fill="#2c4992"/><path d="M1587.7,343.7 1593.2,340.6 1595.7,355.0 1590.3,358.0" fill="#2b4992"/><path d="M1582.3,346.9 1587.7,343.7 1590.3,358.0 1584.9,361.1" fill="#2b4993"/><path d="M1577.1,349.6 1582.3,346.9 1584.9,361.1 1579.7,363.9" fill="#2a4992"/><path d="M1572.4,352.7 1577.1,349.6 1579.7,363.9 1575.1,367.0" fill="#2a4891"/><path d="M1567.7,356.2 1572.4,352.7 1575.1,367.0 1570.4,370.4" fill="#2a4892"/><path d="M1563.0,361.2 1567.7,356.2 1570.4,370.4 1565.8,375.1" fill="#294993"/><path d="M1558.3,366.3 1563.0,361.2 1565.8,375.1 1561.1,379.8" fill="#274893"/><path d="M1553.5,371.2 1558.3,366.3 1561.1,379.8 1556.4,384.4" fill="#254894"/><path d="M1547.4,373.2 1553.5,371.2 1556.4,384.4 1550.3,386.3" fill="#254996"/><path d="M1541.3,375.0 1547.4,373.2 1550.3,386.3 1544.2,388.2" fill="#254996"/><path d="M1535.1,376.6 1541.3,375.0 1544.2,388.2 1538.1,389.9" fill="#254996"/><path d="M1529.0,377.4 1535.1,376.6 1538.1,389.9 1532.0,390.9" fill="#264995"/><path d="M1522.9,378.0 1529.0,377.4 1532.0,390.9 1525.8,391.8" fill="#274995"/><path d="M1516.1,377.4 1522.9,378.0 1525.8,391.8 1519.1,391.5" fill="#294a96"/><path d="M1508.5,375.0 1516.1,377.4 1519.1,391.5 1511.4,389.2" fill="#2c4b97"/><path d="M1500.9,371.4 1508.5,375.0 1511.4,389.2 1503.8,384.7" fill="#304d98"/><path d="M1493.2,366.6 1500.9,371.4 1503.8,384.7 1496.1,378.0" fill="#354d99"/><path d="M1485.6,361.6 1493.2,366.6 1496.1,378.0 1488.4,370.5" fill="#394a99"/><path d="M1477.5,355.5 1485.6,361.6 1488.4,370.5 1480.3,362.2" fill="#414599"/><path d="M1468.1,348.5 1477.5,355.5 1480.3,362.2 1470.9,354.6" fill="#4d3f99"/><path d="M1458.8,341.8 1468.1,348.5 1470.9,354.6 1461.5,354.0" fill="#4f378f"/><path d="M1449.5,345.1 1458.8,341.8 1461.5,354.0 1452.1,365.3" fill="#453584"/><path d="M1440.1,355.5 1449.5,345.1 1452.1,365.3 1442.7,373.6" fill="#3a3e89"/><path d="M1430.8,363.8 1440.1,355.5 1442.7,373.6 1433.3,380.1" fill="#34468e"/><path d="M1421.0,368.7 1430.8,363.8 1433.3,380.1 1423.4,383.8" fill="#314a91"/><path d="M1410.2,369.4 1421.0,368.7 1423.4,383.8 1412.5,384.0" fill="#2d4991"/><path d="M1399.3,369.9 1410.2,369.4 1412.5,384.0 1401.5,383.9" fill="#2b4890"/><path d="M1388.5,370.5 1399.3,369.9 1401.5,383.9 1390.6,384.0" fill="#28478f"/><path d="M1377.7,371.1 1388.5,370.5 1390.6,384.0 1379.6,384.0" fill="#26468f"/><path d="M1367.3,372.3 1377.7,371.1 1379.6,384.0 1369.2,384.7" fill="#23458f"/><path d="M1358.1,375.9 1367.3,372.3 1369.2,384.7 1360.0,387.4" fill="#21428c"/><path d="M1349.0,379.1 1358.1,375.9 1360.0,387.4 1350.7,389.9" fill="#1f3b85"/><path d="M1339.8,382.0 1349.0,379.1 1350.7,389.9 1341.5,392.1" fill="#1c357e"/><path d="M1330.6,380.4 1339.8,382.0 1341.5,392.1 1332.2,390.3" fill="#1c347d"/><path d="M1321.4,374.2 1330.6,380.4 1332.2,390.3 1322.9,384.5" fill="#1e3a84"/><path d="M1312.2,367.6 1321.4,374.2 1322.9,384.5 1313.7,378.2" fill="#22448e"/><path d="M1303.1,360.2 1312.2,367.6 1313.7,378.2 1304.5,371.2" fill="#284891"/><path d="M1294.0,352.1 1303.1,360.2 1304.5,371.2 1295.3,363.4" fill="#2f4a92"/><path d="M1284.7,341.8 1294.0,352.1 1295.3,363.4 1286.0,353.5" fill="#34468f"/><path d="M1275.0,328.3 1284.7,341.8 1286.0,353.5 1276.4,340.6" fill="#3c3d88"/><path d="M1265.3,313.8 1275.0,328.3 1276.4,340.6 1266.7,326.5" fill="#4a2f7f"/><path d="M1255.6,296.7 1265.3,313.8 1266.7,326.5 1257.1,309.7" fill="#5b2577"/><path d="M1787.6,351.1 1795.0,355.2 1797.4,360.6 1790.0,357.3" fill="#0a0b16"/><path d="M1780.3,346.7 1787.6,351.1 1790.0,357.3 1782.6,354.0" fill="#0d1022"/><path d="M1772.9,342.2 1780.3,346.7 1782.6,354.0 1775.2,350.6" fill="#111633"/><path d="M1765.5,337.9 1772.9,342.2 1775.2,350.6 1767.8,347.4" fill="#162151"/><path d="M1758.1,334.2 1765.5,337.9 1767.8,347.4 1760.4,344.6" fill="#192a67"/><path d="M1750.8,333.8 1758.1,334.2 1760.4,344.6 1753.0,344.5" fill="#1b2f71"/><path d="M1743.4,333.7 1750.8,333.8 1753.0,344.5 1745.7,344.6" fill="#1b3075"/><path d="M1736.0,333.6 1743.4,333.7 1745.7,344.6 1738.3,344.7" fill="#1c3178"/><path d="M1728.6,333.6 1736.0,333.6 1738.3,344.7 1730.9,344.8" fill="#1c337b"/><path d="M1721.3,333.5 1728.6,333.6 1730.9,344.8 1723.5,345.0" fill="#1c347e"/><path d="M1713.9,333.5 1721.3,333.5 1723.5,345.0 1716.1,345.1" fill="#1d3580"/><path d="M1707.1,334.0 1713.9,333.5 1716.1,345.1 1709.3,345.8" fill="#1d3781"/><path d="M1700.4,334.7 1707.1,334.0 1709.3,345.8 1702.6,346.7" fill="#1e3882"/><path d="M1693.6,335.4 1700.4,334.7 1702.6,346.7 1695.8,347.5" fill="#1e3984"/><path d="M1686.9,336.1 1693.6,335.4 1695.8,347.5 1689.1,348.4" fill="#1e3a85"/><path d="M1680.1,336.8 1686.9,336.1 1689.1,348.4 1682.3,349.2" fill="#1f3b86"/><path d="M1673.4,337.5 1680.1,336.8 1682.3,349.2 1675.6,350.1" fill="#1f3c87"/><path d="M1666.6,338.5 1673.4,337.5 1675.6,350.1 1668.8,351.1" fill="#1f3d88"/><path d="M1659.9,339.4 1666.6,338.5 1668.8,351.1 1662.1,352.1" fill="#203e89"/><path d="M1653.1,340.2 1659.9,339.4 1662.1,352.1 1655.3,353.1" fill="#203f89"/><path d="M1646.2,341.0 1653.1,340.2 1655.3,353.1 1648.4,354.0" fill="#20408a"/><path d="M1639.4,342.0 1646.2,341.0 1648.4,354.0 1641.6,355.0" fill="#21408b"/><path d="M1632.5,343.0 1639.4,342.0 1641.6,355.0 1634.7,356.1" fill="#21418c"/><path d="M1625.7,344.2 1632.5,343.0 1634.7,356.1 1627.9,357.3" fill="#21418c"/><path d="M1618.8,345.4 1625.7,344.2 1627.9,357.3 1621.0,358.5" fill="#21418c"/><path d="M1612.0,346.6 1618.8,345.4 1621.0,358.5 1614.2,359.7" fill="#21418c"/><path d="M1606.4,349.2 1612.0,346.6 1614.2,359.7 1608.6,362.3" fill="#21418a"/><path d="M1601.0,352.1 1606.4,349.2 1608.6,362.3 1603.3,365.1" fill="#20408a"/><path d="M1595.7,355.0 1601.0,352.1 1603.3,365.1 1597.9,368.0" fill="#203f89"/><path d="M1590.3,358.0 1595.7,355.0 1597.9,368.0 1592.6,370.9" fill="#203f89"/><path d="M1584.9,361.1 1590.3,358.0 1592.6,370.9 1587.2,373.9" fill="#203e88"/><path d="M1579.7,363.9 1584.9,361.1 1587.2,373.9 1582.1,376.6" fill="#1f3d87"/><path d="M1575.1,367.0 1579.7,363.9 1582.1,376.6 1577.5,379.7" fill="#1f3d86"/><path d="M1570.4,370.4 1575.1,367.0 1577.5,379.7 1572.8,383.1" fill="#1f3d86"/><path d="M1565.8,375.1 1570.4,370.4 1572.8,383.1 1568.2,387.5" fill="#1f3b85"/><path d="M1561.1,379.8 1565.8,375.1 1568.2,387.5 1563.6,391.9" fill="#1e3983"/><path d="M1556.4,384.4 1561.1,379.8 1563.6,391.9 1559.0,396.2" fill="#1d3781"/><path d="M1550.3,386.3 1556.4,384.4 1559.0,396.2 1552.9,398.1" fill="#1d3682"/><path d="M1544.2,388.2 1550.3,386.3 1552.9,398.1 1546.8,400.1" fill="#1d3682"/><path d="M1538.1,389.9 1544.2,388.2 1546.8,400.1 1540.7,401.8" fill="#1d3682"/><path d="M1532.0,390.9 1538.1,389.9 1540.7,401.8 1534.6,402.9" fill="#1e3783"/><path d="M1525.8,391.8 1532.0,390.9 1534.6,402.9 1528.5,404.1" fill="#1e3984"/><path d="M1519.1,391.5 1525.8,391.8 1528.5,404.1 1521.7,404.1" fill="#1f3b87"/><path d="M1511.4,389.2 1519.1,391.5 1521.7,404.1 1514.0,402.0" fill="#21408c"/><path d="M1503.8,384.7 1511.4,389.2 1514.0,402.0 1506.3,397.0" fill="#234895"/><path d="M1496.1,378.0 1503.8,384.7 1506.3,397.0 1498.7,388.8" fill="#2b4b96"/><path d="M1488.4,370.5 1496.1,378.0 1498.7,388.8 1491.0,378.7" fill="#344d99"/><path d="M1480.3,362.2 1488.4,370.5 1491.0,378.7 1482.8,368.2" fill="#3a4999"/><path d="M1470.9,354.6 1480.3,362.2 1482.8,368.2 1473.3,360.5" fill="#47449c"/><path d="M1461.5,354.0 1470.9,354.6 1473.3,360.5 1463.9,374.7" fill="#3e3c8a"/><path d="M1452.1,365.3 1461.5,354.0 1463.9,374.7 1454.4,383.4" fill="#35438c"/><path d="M1442.7,373.6 1452.1,365.3 1454.4,383.4 1444.9,389.7" fill="#304990"/><path d="M1433.3,380.1 1442.7,373.6 1444.9,389.7 1435.5,394.7" fill="#294890"/><path d="M1423.4,383.8 1433.3,380.1 1435.5,394.7 1425.5,397.3" fill="#24468f"/><path d="M1412.5,384.0 1423.4,383.8 1425.5,397.3 1414.5,397.0" fill="#21418b"/><path d="M1401.5,383.9 1412.5,384.0 1414.5,397.0 1403.5,396.5" fill="#1f3e87"/><path d="M1390.6,384.0 1401.5,383.9 1403.5,396.5 1392.4,396.1" fill="#1e3a83"/><path d="M1379.6,384.0 1390.6,384.0 1392.4,396.1 1381.4,395.6" fill="#1d377f"/><path d="M1369.2,384.7 1379.6,384.0 1381.4,395.6 1370.9,395.7" fill="#1c337b"/><path d="M1360.0,387.4 1369.2,384.7 1370.9,395.7 1361.6,397.7" fill="#1b3074"/><path d="M1350.7,389.9 1360.0,387.4 1361.6,397.7 1352.3,399.5" fill="#192b69"/><path d="M1341.5,392.1 1350.7,389.9 1352.3,399.5 1343.0,401.1" fill="#18275f"/><path d="M1332.2,390.3 1341.5,392.1 1343.0,401.1 1333.6,399.3" fill="#18265d"/><path d="M1322.9,384.5 1332.2,390.3 1333.6,399.3 1324.3,394.0" fill="#192b68"/><path d="M1313.7,378.2 1322.9,384.5 1324.3,394.0 1315.0,388.1" fill="#1c337b"/><path d="M1304.5,371.2 1313.7,378.2 1315.0,388.1 1305.8,381.5" fill="#1f3d87"/><path d="M1295.3,363.4 1304.5,371.2 1305.8,381.5 1296.6,374.2" fill="#25468f"/><path d="M1286.0,353.5 1295.3,363.4 1296.6,374.2 1287.2,364.8" fill="#2d4990"/><path d="M1276.4,340.6 1286.0,353.5 1287.2,364.8 1277.6,352.7" fill="#33458d"/><path d="M1266.7,326.5 1276.4,340.6 1277.6,352.7 1268.0,339.1" fill="#3d3b86"/><path d="M1257.1,309.7 1266.7,326.5 1268.0,339.1 1258.4,322.9" fill="#4d2c7c"/><path d="M1790.0,357.3 1797.4,360.6 1799.5,365.8 1792.1,363.0" fill="#07080f"/><path d="M1782.6,354.0 1790.0,357.3 1792.1,363.0 1784.7,360.4" fill="#090b15"/><path d="M1775.2,350.6 1782.6,354.0 1784.7,360.4 1777.3,358.0" fill="#0c0e1e"/><path d="M1767.8,347.4 1775.2,350.6 1777.3,358.0 1769.9,355.8" fill="#0f132b"/><path d="M1760.4,344.6 1767.8,347.4 1769.9,355.8 1762.5,353.9" fill="#12193a"/><path d="M1753.0,344.5 1760.4,344.6 1762.5,353.9 1755.1,353.9" fill="#141e48"/><path d="M1745.7,344.6 1753.0,344.5 1755.1,353.9 1747.7,354.2" fill="#15204d"/><path d="M1738.3,344.7 1745.7,344.6 1747.7,354.2 1740.3,354.5" fill="#162151"/><path d="M1730.9,344.8 1738.3,344.7 1740.3,354.5 1732.9,354.8" fill="#172355"/><path d="M1723.5,345.0 1730.9,344.8 1732.9,354.8 1725.4,355.1" fill="#17255a"/><path d="M1716.1,345.1 1723.5,345.0 1725.4,355.1 1718.0,355.4" fill="#18265d"/><path d="M1709.3,345.8 1716.1,345.1 1718.0,355.4 1711.3,356.3" fill="#18275e"/><path d="M1702.6,346.7 1709.3,345.8 1711.3,356.3 1704.5,357.2" fill="#182760"/><path d="M1695.8,347.5 1702.6,346.7 1704.5,357.2 1697.8,358.2" fill="#182862"/><path d="M1689.1,348.4 1695.8,347.5 1697.8,358.2 1691.0,359.2" fill="#192964"/><path d="M1682.3,349.2 1689.1,348.4 1691.0,359.2 1684.3,360.1" fill="#192a65"/><path d="M1675.6,350.1 1682.3,349.2 1684.3,360.1 1677.5,361.1" fill="#192a67"/><path d="M1668.8,351.1 1675.6,350.1 1677.5,361.1 1670.8,362.3" fill="#192b69"/><path d="M1662.1,352.1 1668.8,351.1 1670.8,362.3 1664.0,363.4" fill="#192b6a"/><path d="M1655.3,353.1 1662.1,352.1 1664.0,363.4 1657.2,364.4" fill="#1a2c6b"/><path d="M1648.4,354.0 1655.3,353.1 1657.2,364.4 1650.4,365.4" fill="#1a2d6c"/><path d="M1641.6,355.0 1648.4,354.0 1650.4,365.4 1643.5,366.5" fill="#1a2d6d"/><path d="M1634.7,356.1 1641.6,355.0 1643.5,366.5 1636.6,367.6" fill="#1a2d6e"/><path d="M1627.9,357.3 1634.7,356.1 1636.6,367.6 1629.8,368.8" fill="#1a2e6f"/><path d="M1621.0,358.5 1627.9,357.3 1629.8,368.8 1622.9,370.1" fill="#1a2e6f"/><path d="M1614.2,359.7 1621.0,358.5 1622.9,370.1 1616.1,371.3" fill="#1a2e6f"/><path d="M1608.6,362.3 1614.2,359.7 1616.1,371.3 1610.6,373.8" fill="#1a2d6e"/><path d="M1603.3,365.1 1608.6,362.3 1610.6,373.8 1605.2,376.6" fill="#1a2d6d"/><path d="M1597.9,368.0 1603.3,365.1 1605.2,376.6 1599.9,379.4" fill="#1a2c6c"/><path d="M1592.6,370.9 1597.9,368.0 1599.9,379.4 1594.6,382.3" fill="#192c6b"/><path d="M1587.2,373.9 1592.6,370.9 1594.6,382.3 1589.3,385.1" fill="#192b6a"/><path d="M1582.1,376.6 1587.2,373.9 1589.3,385.1 1584.1,387.9" fill="#192b69"/><path d="M1577.5,379.7 1582.1,376.6 1584.1,387.9 1579.6,391.0" fill="#192b68"/><path d="M1572.8,383.1 1577.5,379.7 1579.6,391.0 1575.0,394.4" fill="#192b68"/><path d="M1568.2,387.5 1572.8,383.1 1575.0,394.4 1570.4,398.5" fill="#192a66"/><path d="M1563.6,391.9 1568.2,387.5 1570.4,398.5 1565.9,402.6" fill="#182862"/><path d="M1559.0,396.2 1563.6,391.9 1565.9,402.6 1561.2,406.6" fill="#18275e"/><path d="M1552.9,398.1 1559.0,396.2 1561.2,406.6 1555.1,408.6" fill="#18265e"/><path d="M1546.8,400.1 1552.9,398.1 1555.1,408.6 1549.1,410.5" fill="#18265e"/><path d="M1540.7,401.8 1546.8,400.1 1549.1,410.5 1543.0,412.2" fill="#18275f"/><path d="M1534.6,402.9 1540.7,401.8 1543.0,412.2 1536.9,413.6" fill="#182760"/><path d="M1528.5,404.1 1534.6,402.9 1536.9,413.6 1530.8,414.9" fill="#192863"/><path d="M1521.7,404.1 1528.5,404.1 1530.8,414.9 1524.0,415.3" fill="#192a67"/><path d="M1514.0,402.0 1521.7,404.1 1524.0,415.3 1516.3,413.3" fill="#1a2d6e"/><path d="M1506.3,397.0 1514.0,402.0 1516.3,413.3 1508.6,407.9" fill="#1c347e"/><path d="M1498.7,388.8 1506.3,397.0 1508.6,407.9 1500.9,398.9" fill="#22438e"/><path d="M1491.0,378.7 1498.7,388.8 1500.9,398.9 1493.2,387.9" fill="#2c4a95"/><path d="M1482.8,368.2 1491.0,378.7 1493.2,387.9 1485.0,374.9" fill="#364a96"/><path d="M1473.3,360.5 1482.8,368.2 1485.0,374.9 1475.5,382.3" fill="#37448f"/><path d="M1463.9,374.7 1473.3,360.5 1475.5,382.3 1466.0,392.9" fill="#31468c"/><path d="M1454.4,383.4 1463.9,374.7 1466.0,392.9 1456.5,399.3" fill="#29478e"/><path d="M1444.9,389.7 1454.4,383.4 1456.5,399.3 1446.9,404.0" fill="#22448d"/><path d="M1435.5,394.7 1444.9,389.7 1446.9,404.0 1437.4,407.6" fill="#1e3a82"/><path d="M1425.5,397.3 1435.5,394.7 1437.4,407.6 1427.4,409.3" fill="#1b3279"/><path d="M1414.5,397.0 1425.5,397.3 1427.4,409.3 1416.3,408.5" fill="#1a2e6f"/><path d="M1403.5,396.5 1414.5,397.0 1416.3,408.5 1405.2,407.6" fill="#192b69"/><path d="M1392.4,396.1 1403.5,396.5 1405.2,407.6 1394.1,406.7" fill="#182964"/><path d="M1381.4,395.6 1392.4,396.1 1394.1,406.7 1383.0,405.9" fill="#18265e"/><path d="M1370.9,395.7 1381.4,395.6 1383.0,405.9 1372.4,405.5" fill="#172459"/><path d="M1361.6,397.7 1370.9,395.7 1372.4,405.5 1363.0,406.9" fill="#15204e"/><path d="M1352.3,399.5 1361.6,397.7 1363.0,406.9 1353.6,408.0" fill="#131a3f"/><path d="M1343.0,401.1 1352.3,399.5 1353.6,408.0 1344.3,409.0" fill="#101531"/><path d="M1333.6,399.3 1343.0,401.1 1344.3,409.0 1334.9,407.3" fill="#101530"/><path d="M1324.3,394.0 1333.6,399.3 1334.9,407.3 1325.6,402.5" fill="#131b40"/><path d="M1315.0,388.1 1324.3,394.0 1325.6,402.5 1316.2,397.2" fill="#17255b"/><path d="M1305.8,381.5 1315.0,388.1 1316.2,397.2 1306.9,391.2" fill="#1a2e6e"/><path d="M1296.6,374.2 1305.8,381.5 1306.9,391.2 1297.6,384.4" fill="#1d3880"/><path d="M1287.2,364.8 1296.6,374.2 1297.6,384.4 1288.3,375.7" fill="#22448d"/><path d="M1277.6,352.7 1287.2,364.8 1288.3,375.7 1278.7,364.4" fill="#2c488e"/><path d="M1268.0,339.1 1277.6,352.7 1278.7,364.4 1269.2,351.6" fill="#34448c"/><path d="M1258.4,322.9 1268.0,339.1 1269.2,351.6 1259.6,336.1" fill="#3f3884"/><path d="M1792.1,363.0 1799.5,365.8 1801.3,370.3 1793.9,368.5" fill="#050509"/><path d="M1784.7,360.4 1792.1,363.0 1793.9,368.5 1786.4,366.4" fill="#07080e"/><path d="M1777.3,358.0 1784.7,360.4 1786.4,366.4 1779.0,364.4" fill="#090a13"/><path d="M1769.9,355.8 1777.3,358.0 1779.0,364.4 1771.6,363.0" fill="#0a0c17"/><path d="M1762.5,353.9 1769.9,355.8 1771.6,363.0 1764.2,361.8" fill="#0c0e1f"/><path d="M1755.1,353.9 1762.5,353.9 1764.2,361.8 1756.8,362.1" fill="#0d1024"/><path d="M1747.7,354.2 1755.1,353.9 1756.8,362.1 1749.4,362.5" fill="#0e1126"/><path d="M1740.3,354.5 1747.7,354.2 1749.4,362.5 1742.0,363.0" fill="#0e1228"/><path d="M1732.9,354.8 1740.3,354.5 1742.0,363.0 1734.6,363.4" fill="#0f1229"/><path d="M1725.4,355.1 1732.9,354.8 1734.6,363.4 1727.1,363.9" fill="#0f132b"/><path d="M1718.0,355.4 1725.4,355.1 1727.1,363.9 1719.7,364.3" fill="#0f142c"/><path d="M1711.3,356.3 1718.0,355.4 1719.7,364.3 1712.9,365.3" fill="#10142e"/><path d="M1704.5,357.2 1711.3,356.3 1712.9,365.3 1706.2,366.4" fill="#10152f"/><path d="M1697.8,358.2 1704.5,357.2 1706.2,366.4 1699.4,367.5" fill="#101530"/><path d="M1691.0,359.2 1697.8,358.2 1699.4,367.5 1692.7,368.5" fill="#111632"/><path d="M1684.3,360.1 1691.0,359.2 1692.7,368.5 1685.9,369.6" fill="#111634"/><path d="M1677.5,361.1 1684.3,360.1 1685.9,369.6 1679.2,370.7" fill="#111736"/><path d="M1670.8,362.3 1677.5,361.1 1679.2,370.7 1672.4,371.9" fill="#121838"/><path d="M1664.0,363.4 1670.8,362.3 1672.4,371.9 1665.7,373.1" fill="#121839"/><path d="M1657.2,364.4 1664.0,363.4 1665.7,373.1 1658.9,374.2" fill="#12193b"/><path d="M1650.4,365.4 1657.2,364.4 1658.9,374.2 1652.0,375.3" fill="#121a3d"/><path d="M1643.5,366.5 1650.4,365.4 1652.0,375.3 1645.2,376.4" fill="#131a3e"/><path d="M1636.6,367.6 1643.5,366.5 1645.2,376.4 1638.3,377.6" fill="#131b3f"/><path d="M1629.8,368.8 1636.6,367.6 1638.3,377.6 1631.5,378.8" fill="#131b40"/><path d="M1622.9,370.1 1629.8,368.8 1631.5,378.8 1624.6,380.1" fill="#131b40"/><path d="M1616.1,371.3 1622.9,370.1 1624.6,380.1 1617.7,381.4" fill="#131b41"/><path d="M1610.6,373.8 1616.1,371.3 1617.7,381.4 1612.2,383.9" fill="#131b40"/><path d="M1605.2,376.6 1610.6,373.8 1612.2,383.9 1606.9,386.6" fill="#131a3f"/><path d="M1599.9,379.4 1605.2,376.6 1606.9,386.6 1601.6,389.3" fill="#121a3d"/><path d="M1594.6,382.3 1599.9,379.4 1601.6,389.3 1596.3,392.1" fill="#12193c"/><path d="M1589.3,385.1 1594.6,382.3 1596.3,392.1 1591.0,394.9" fill="#12193a"/><path d="M1584.1,387.9 1589.3,385.1 1591.0,394.9 1585.9,397.6" fill="#121839"/><path d="M1579.6,391.0 1584.1,387.9 1585.9,397.6 1581.4,400.8" fill="#121839"/><path d="M1575.0,394.4 1579.6,391.0 1581.4,400.8 1576.9,404.1" fill="#121838"/><path d="M1570.4,398.5 1575.0,394.4 1576.9,404.1 1572.3,408.0" fill="#111735"/><path d="M1565.9,402.6 1570.4,398.5 1572.3,408.0 1567.8,411.9" fill="#101531"/><path d="M1561.2,406.6 1565.9,402.6 1567.8,411.9 1563.2,415.6" fill="#10142e"/><path d="M1555.1,408.6 1561.2,406.6 1563.2,415.6 1557.1,417.6" fill="#10142e"/><path d="M1549.1,410.5 1555.1,408.6 1557.1,417.6 1551.0,419.5" fill="#10142e"/><path d="M1543.0,412.2 1549.1,410.5 1551.0,419.5 1545.0,421.3" fill="#10142e"/><path d="M1536.9,413.6 1543.0,412.2 1545.0,421.3 1538.9,422.8" fill="#10152f"/><path d="M1530.8,414.9 1536.9,413.6 1538.9,422.8 1532.8,424.3" fill="#101531"/><path d="M1524.0,415.3 1530.8,414.9 1532.8,424.3 1526.0,424.9" fill="#111734"/><path d="M1516.3,413.3 1524.0,415.3 1526.0,424.9 1518.3,423.1" fill="#131b40"/><path d="M1508.6,407.9 1516.3,413.3 1518.3,423.1 1510.6,417.3" fill="#18265c"/><path d="M1500.9,398.9 1508.6,407.9 1510.6,417.3 1502.9,407.7" fill="#1c337b"/><path d="M1493.2,387.9 1500.9,398.9 1502.9,407.7 1495.2,395.9" fill="#234792"/><path d="M1485.0,374.9 1493.2,387.9 1495.2,395.9 1486.9,388.9" fill="#304b94"/><path d="M1475.5,382.3 1485.0,374.9 1486.9,388.9 1477.4,401.1" fill="#2d488e"/><path d="M1466.0,392.9 1475.5,382.3 1477.4,401.1 1467.8,408.7" fill="#22448b"/><path d="M1456.5,399.3 1466.0,392.9 1467.8,408.7 1458.2,413.2" fill="#1d377e"/><path d="M1446.9,404.0 1456.5,399.3 1458.2,413.2 1448.7,416.3" fill="#1a2d6e"/><path d="M1437.4,407.6 1446.9,404.0 1448.7,416.3 1439.1,418.7" fill="#18275f"/><path d="M1427.4,409.3 1437.4,407.6 1439.1,418.7 1429.1,419.6" fill="#15204f"/><path d="M1416.3,408.5 1427.4,409.3 1429.1,419.6 1417.9,418.4" fill="#131c42"/><path d="M1405.2,407.6 1416.3,408.5 1417.9,418.4 1406.7,417.2" fill="#12193b"/><path d="M1394.1,406.7 1405.2,407.6 1406.7,417.2 1395.5,416.0" fill="#111633"/><path d="M1383.0,405.9 1394.1,406.7 1395.5,416.0 1384.3,414.7" fill="#10142e"/><path d="M1372.4,405.5 1383.0,405.9 1384.3,414.7 1373.6,414.0" fill="#0f132a"/><path d="M1363.0,406.9 1372.4,405.5 1373.6,414.0 1364.2,414.8" fill="#0d1125"/><path d="M1353.6,408.0 1363.0,406.9 1364.2,414.8 1354.8,415.4" fill="#0c0f1f"/><path d="M1344.3,409.0 1353.6,408.0 1354.8,415.4 1345.4,415.9" fill="#0b0d1a"/><path d="M1334.9,407.3 1344.3,409.0 1345.4,415.9 1336.0,414.2" fill="#0a0c19"/><path d="M1325.6,402.5 1334.9,407.3 1336.0,414.2 1326.6,410.1" fill="#0c0f21"/><path d="M1316.2,397.2 1325.6,402.5 1326.6,410.1 1317.2,405.4" fill="#10142f"/><path d="M1306.9,391.2 1316.2,397.2 1317.2,405.4 1307.9,400.1" fill="#141f4a"/><path d="M1297.6,384.4 1306.9,391.2 1307.9,400.1 1298.6,393.9" fill="#182963"/><path d="M1288.3,375.7 1297.6,384.4 1298.6,393.9 1289.2,386.1" fill="#1b337a"/><path d="M1278.7,364.4 1288.3,375.7 1289.2,386.1 1279.7,375.8" fill="#21438b"/><path d="M1269.2,351.6 1278.7,364.4 1279.7,375.8 1270.1,363.9" fill="#2c478d"/><path d="M1259.6,336.1 1269.2,351.6 1270.1,363.9 1260.6,349.3" fill="#34438a"/><path d="M1793.9,368.5 1801.3,370.3 1802.8,374.2 1795.4,373.1" fill="#040407"/><path d="M1786.4,366.4 1793.9,368.5 1795.4,373.1 1788.0,372.0" fill="#040407"/><path d="M1779.0,364.4 1786.4,366.4 1788.0,372.0 1780.5,370.8" fill="#06060b"/><path d="M1771.6,363.0 1779.0,364.4 1780.5,370.8 1773.1,369.6" fill="#07080e"/><path d="M1764.2,361.8 1771.6,363.0 1773.1,369.6 1765.7,368.8" fill="#080911"/><path d="M1756.8,362.1 1764.2,361.8 1765.7,368.8 1758.3,369.1" fill="#090a13"/><path d="M1749.4,362.5 1756.8,362.1 1758.3,369.1 1750.8,369.6" fill="#090a14"/><path d="M1742.0,363.0 1749.4,362.5 1750.8,369.6 1743.4,370.1" fill="#090a15"/><path d="M1734.6,363.4 1742.0,363.0 1743.4,370.1 1736.0,370.7" fill="#090b15"/><path d="M1727.1,363.9 1734.6,363.4 1736.0,370.7 1728.6,371.3" fill="#090b16"/><path d="M1719.7,364.3 1727.1,363.9 1728.6,371.3 1721.2,371.8" fill="#0a0b16"/><path d="M1712.9,365.3 1719.7,364.3 1721.2,371.8 1714.4,373.0" fill="#0a0b16"/><path d="M1706.2,366.4 1712.9,365.3 1714.4,373.0 1707.6,374.1" fill="#0a0b17"/><path d="M1699.4,367.5 1706.2,366.4 1707.6,374.1 1700.9,375.3" fill="#0a0c17"/><path d="M1692.7,368.5 1699.4,367.5 1700.9,375.3 1694.1,376.5" fill="#0a0c18"/><path d="M1685.9,369.6 1692.7,368.5 1694.1,376.5 1687.4,377.6" fill="#0a0c19"/><path d="M1679.2,370.7 1685.9,369.6 1687.4,377.6 1680.6,378.8" fill="#0b0c19"/><path d="M1672.4,371.9 1679.2,370.7 1680.6,378.8 1673.8,380.1" fill="#0b0d1a"/><path d="M1665.7,373.1 1672.4,371.9 1673.8,380.1 1667.1,381.3" fill="#0b0d1b"/><path d="M1658.9,374.2 1665.7,373.1 1667.1,381.3 1660.3,382.5" fill="#0b0d1b"/><path d="M1652.0,375.3 1658.9,374.2 1660.3,382.5 1653.4,383.6" fill="#0b0d1c"/><path d="M1645.2,376.4 1652.0,375.3 1653.4,383.6 1646.6,384.9" fill="#0b0e1d"/><path d="M1638.3,377.6 1645.2,376.4 1646.6,384.9 1639.7,386.1" fill="#0b0e1d"/><path d="M1631.5,378.8 1638.3,377.6 1639.7,386.1 1632.9,387.3" fill="#0b0e1d"/><path d="M1624.6,380.1 1631.5,378.8 1632.9,387.3 1626.0,388.6" fill="#0b0e1d"/><path d="M1617.7,381.4 1624.6,380.1 1626.0,388.6 1619.1,389.9" fill="#0b0e1d"/><path d="M1612.2,383.9 1617.7,381.4 1619.1,389.9 1613.7,392.3" fill="#0b0e1d"/><path d="M1606.9,386.6 1612.2,383.9 1613.7,392.3 1608.4,395.0" fill="#0b0e1d"/><path d="M1601.6,389.3 1606.9,386.6 1608.4,395.0 1603.1,397.7" fill="#0b0d1c"/><path d="M1596.3,392.1 1601.6,389.3 1603.1,397.7 1597.8,400.4" fill="#0b0d1c"/><path d="M1591.0,394.9 1596.3,392.1 1597.8,400.4 1592.5,403.1" fill="#0b0d1b"/><path d="M1585.9,397.6 1591.0,394.9 1592.5,403.1 1587.4,405.9" fill="#0b0d1b"/><path d="M1581.4,400.8 1585.9,397.6 1587.4,405.9 1582.9,409.1" fill="#0b0d1a"/><path d="M1576.9,404.1 1581.4,400.8 1582.9,409.1 1578.4,412.3" fill="#0b0d1a"/><path d="M1572.3,408.0 1576.9,404.1 1578.4,412.3 1573.9,416.0" fill="#0a0c19"/><path d="M1567.8,411.9 1572.3,408.0 1573.9,416.0 1569.4,419.7" fill="#0a0c18"/><path d="M1563.2,415.6 1567.8,411.9 1569.4,419.7 1564.9,423.3" fill="#0a0b17"/><path d="M1557.1,417.6 1563.2,415.6 1564.9,423.3 1558.8,425.2" fill="#0a0b17"/><path d="M1551.0,419.5 1557.1,417.6 1558.8,425.2 1552.7,427.1" fill="#0a0b17"/><path d="M1545.0,421.3 1551.0,419.5 1552.7,427.1 1546.7,429.0" fill="#0a0b17"/><path d="M1538.9,422.8 1545.0,421.3 1546.7,429.0 1540.6,430.6" fill="#0a0c17"/><path d="M1532.8,424.3 1538.9,422.8 1540.6,430.6 1534.5,432.3" fill="#0a0c18"/><path d="M1526.0,424.9 1532.8,424.3 1534.5,432.3 1527.7,433.1" fill="#0b0d1a"/><path d="M1518.3,423.1 1526.0,424.9 1527.7,433.1 1520.0,431.4" fill="#0c0f1f"/><path d="M1510.6,417.3 1518.3,423.1 1520.0,431.4 1512.3,425.3" fill="#10142f"/><path d="M1502.9,407.7 1510.6,417.3 1512.3,425.3 1504.6,415.1" fill="#182760"/><path d="M1495.2,395.9 1502.9,407.7 1504.6,415.1 1496.8,402.6" fill="#1f3b86"/><path d="M1486.9,388.9 1495.2,395.9 1496.8,402.6 1488.6,408.9" fill="#23458f"/><path d="M1477.4,401.1 1486.9,388.9 1488.6,408.9 1479.0,417.1" fill="#1e3b81"/><path d="M1467.8,408.7 1477.4,401.1 1479.0,417.1 1469.3,422.0" fill="#192b69"/><path d="M1458.2,413.2 1467.8,408.7 1469.3,422.0 1459.7,424.9" fill="#162253"/><path d="M1448.7,416.3 1458.2,413.2 1459.7,424.9 1450.1,426.8" fill="#121839"/><path d="M1439.1,418.7 1448.7,416.3 1450.1,426.8 1440.5,428.2" fill="#0f132b"/><path d="M1429.1,419.6 1439.1,418.7 1440.5,428.2 1430.4,428.4" fill="#0d1023"/><path d="M1417.9,418.4 1429.1,419.6 1430.4,428.4 1419.2,426.9" fill="#0b0e1e"/><path d="M1406.7,417.2 1417.9,418.4 1419.2,426.9 1407.9,425.3" fill="#0b0d1b"/><path d="M1395.5,416.0 1406.7,417.2 1407.9,425.3 1396.7,423.8" fill="#0a0c18"/><path d="M1384.3,414.7 1395.5,416.0 1396.7,423.8 1385.4,422.2" fill="#090b16"/><path d="M1373.6,414.0 1384.3,414.7 1385.4,422.2 1374.7,421.1" fill="#090a15"/><path d="M1364.2,414.8 1373.6,414.0 1374.7,421.1 1365.3,421.5" fill="#090a13"/><path d="M1354.8,415.4 1364.2,414.8 1365.3,421.5 1355.8,421.8" fill="#080911"/><path d="M1345.4,415.9 1354.8,415.4 1355.8,421.8 1346.4,422.1" fill="#07080f"/><path d="M1336.0,414.2 1345.4,415.9 1346.4,422.1 1337.0,420.4" fill="#07080f"/><path d="M1326.6,410.1 1336.0,414.2 1337.0,420.4 1327.5,416.7" fill="#080912"/><path d="M1317.2,405.4 1326.6,410.1 1327.5,416.7 1318.1,412.7" fill="#0a0c18"/><path d="M1307.9,400.1 1317.2,405.4 1318.1,412.7 1308.7,408.1" fill="#0d1125"/><path d="M1298.6,393.9 1307.9,400.1 1308.7,408.1 1299.4,402.8" fill="#111838"/><path d="M1289.2,386.1 1298.6,393.9 1299.4,402.8 1290.0,395.9" fill="#17255a"/><path d="M1279.7,375.8 1289.2,386.1 1290.0,395.9 1280.5,386.8" fill="#1a3176"/><path d="M1270.1,363.9 1279.7,375.8 1280.5,386.8 1271.0,376.0" fill="#214289"/><path d="M1260.6,349.3 1270.1,363.9 1271.0,376.0 1261.5,362.6" fill="#2d478c"/><path d="M1795.4,373.1 1802.8,374.2 1804.1,377.3 1796.6,376.9" fill="#040406"/><path d="M1788.0,372.0 1795.4,373.1 1796.6,376.9 1789.2,376.5" fill="#040406"/><path d="M1780.5,370.8 1788.0,372.0 1789.2,376.5 1781.8,376.0" fill="#040406"/><path d="M1773.1,369.6 1780.5,370.8 1781.8,376.0 1774.3,375.6" fill="#040407"/><path d="M1765.7,368.8 1773.1,369.6 1774.3,375.6 1766.9,375.3" fill="#050509"/><path d="M1758.3,369.1 1765.7,368.8 1766.9,375.3 1759.5,375.9" fill="#05060a"/><path d="M1750.8,369.6 1758.3,369.1 1759.5,375.9 1752.0,376.5" fill="#06060b"/><path d="M1743.4,370.1 1750.8,369.6 1752.0,376.5 1744.6,377.1" fill="#06060b"/><path d="M1736.0,370.7 1743.4,370.1 1744.6,377.1 1737.2,377.7" fill="#06060b"/><path d="M1728.6,371.3 1736.0,370.7 1737.2,377.7 1729.8,378.3" fill="#06060c"/><path d="M1721.2,371.8 1728.6,371.3 1729.8,378.3 1722.3,378.9" fill="#06070c"/><path d="M1714.4,373.0 1721.2,371.8 1722.3,378.9 1715.5,380.1" fill="#06070c"/><path d="M1707.6,374.1 1714.4,373.0 1715.5,380.1 1708.8,381.3" fill="#06070d"/><path d="M1700.9,375.3 1707.6,374.1 1708.8,381.3 1702.0,382.5" fill="#06070d"/><path d="M1694.1,376.5 1700.9,375.3 1702.0,382.5 1695.3,383.8" fill="#06070d"/><path d="M1687.4,377.6 1694.1,376.5 1695.3,383.8 1688.5,385.0" fill="#07070e"/><path d="M1680.6,378.8 1687.4,377.6 1688.5,385.0 1681.8,386.2" fill="#07070e"/><path d="M1673.8,380.1 1680.6,378.8 1681.8,386.2 1675.0,387.5" fill="#07070e"/><path d="M1667.1,381.3 1673.8,380.1 1675.0,387.5 1668.2,388.7" fill="#07080e"/><path d="M1660.3,382.5 1667.1,381.3 1668.2,388.7 1661.5,390.0" fill="#07080e"/><path d="M1653.4,383.6 1660.3,382.5 1661.5,390.0 1654.6,391.1" fill="#07080f"/><path d="M1646.6,384.9 1653.4,383.6 1654.6,391.1 1647.7,392.4" fill="#07080f"/><path d="M1639.7,386.1 1646.6,384.9 1647.7,392.4 1640.9,393.6" fill="#07080f"/><path d="M1632.9,387.3 1639.7,386.1 1640.9,393.6 1634.0,394.9" fill="#07080f"/><path d="M1626.0,388.6 1632.9,387.3 1634.0,394.9 1627.1,396.1" fill="#07080f"/><path d="M1619.1,389.9 1626.0,388.6 1627.1,396.1 1620.3,397.4" fill="#07080f"/><path d="M1613.7,392.3 1619.1,389.9 1620.3,397.4 1614.8,399.9" fill="#07080f"/><path d="M1608.4,395.0 1613.7,392.3 1614.8,399.9 1609.5,402.5" fill="#07080f"/><path d="M1603.1,397.7 1608.4,395.0 1609.5,402.5 1604.3,405.2" fill="#07080f"/><path d="M1597.8,400.4 1603.1,397.7 1604.3,405.2 1599.0,407.9" fill="#07080e"/><path d="M1592.5,403.1 1597.8,400.4 1599.0,407.9 1593.7,410.6" fill="#07080e"/><path d="M1587.4,405.9 1592.5,403.1 1593.7,410.6 1588.7,413.4" fill="#07080e"/><path d="M1582.9,409.1 1587.4,405.9 1588.7,413.4 1584.2,416.6" fill="#07070e"/><path d="M1578.4,412.3 1582.9,409.1 1584.2,416.6 1579.7,419.9" fill="#07070e"/><path d="M1573.9,416.0 1578.4,412.3 1579.7,419.9 1575.2,423.5" fill="#07070e"/><path d="M1569.4,419.7 1573.9,416.0 1575.2,423.5 1570.8,427.1" fill="#06070d"/><path d="M1564.9,423.3 1569.4,419.7 1570.8,427.1 1566.2,430.6" fill="#06070d"/><path d="M1558.8,425.2 1564.9,423.3 1566.2,430.6 1560.2,432.6" fill="#06070d"/><path d="M1552.7,427.1 1558.8,425.2 1560.2,432.6 1554.1,434.5" fill="#06070d"/><path d="M1546.7,429.0 1552.7,427.1 1554.1,434.5 1548.0,436.4" fill="#06070d"/><path d="M1540.6,430.6 1546.7,429.0 1548.0,436.4 1542.0,438.1" fill="#06070d"/><path d="M1534.5,432.3 1540.6,430.6 1542.0,438.1 1535.9,439.8" fill="#07070d"/><path d="M1527.7,433.1 1534.5,432.3 1535.9,439.8 1529.1,440.7" fill="#07070e"/><path d="M1520.0,431.4 1527.7,433.1 1529.1,440.7 1521.4,438.6" fill="#080910"/><path d="M1512.3,425.3 1520.0,431.4 1521.4,438.6 1513.7,431.8" fill="#0a0c18"/><path d="M1504.6,415.1 1512.3,425.3 1513.7,431.8 1505.9,421.2" fill="#121a3d"/><path d="M1496.8,402.6 1504.6,415.1 1505.9,421.2 1498.2,408.1" fill="#1b3177"/><path d="M1488.6,408.9 1496.8,402.6 1498.2,408.1 1489.9,425.2" fill="#1b3278"/><path d="M1479.0,417.1 1488.6,408.9 1489.9,425.2 1480.3,430.1" fill="#152150"/><path d="M1469.3,422.0 1479.0,417.1 1480.3,430.1 1470.6,433.0" fill="#0f132d"/><path d="M1459.7,424.9 1469.3,422.0 1470.6,433.0 1461.0,434.4" fill="#0c0f20"/><path d="M1450.1,426.8 1459.7,424.9 1461.0,434.4 1451.3,435.3" fill="#0a0b17"/><path d="M1440.5,428.2 1450.1,426.8 1451.3,435.3 1441.7,436.2" fill="#090a13"/><path d="M1430.4,428.4 1440.5,428.2 1441.7,436.2 1431.6,436.1" fill="#080911"/><path d="M1419.2,426.9 1430.4,428.4 1431.6,436.1 1420.3,434.3" fill="#07080f"/><path d="M1407.9,425.3 1419.2,426.9 1420.3,434.3 1409.0,432.6" fill="#07070e"/><path d="M1396.7,423.8 1407.9,425.3 1409.0,432.6 1397.7,430.8" fill="#06070d"/><path d="M1385.4,422.2 1396.7,423.8 1397.7,430.8 1386.4,429.1" fill="#06070c"/><path d="M1374.7,421.1 1385.4,422.2 1386.4,429.1 1375.6,427.8" fill="#06060b"/><path d="M1365.3,421.5 1374.7,421.1 1375.6,427.8 1366.1,427.8" fill="#05060a"/><path d="M1355.8,421.8 1365.3,421.5 1366.1,427.8 1356.7,427.7" fill="#050509"/><path d="M1346.4,422.1 1355.8,421.8 1356.7,427.7 1347.2,427.5" fill="#040407"/><path d="M1337.0,420.4 1346.4,422.1 1347.2,427.5 1337.7,426.0" fill="#040407"/><path d="M1327.5,416.7 1337.0,420.4 1337.7,426.0 1328.3,422.9" fill="#05060a"/><path d="M1318.1,412.7 1327.5,416.7 1328.3,422.9 1318.8,419.2" fill="#07070e"/><path d="M1308.7,408.1 1318.1,412.7 1318.8,419.2 1309.4,415.3" fill="#080a13"/><path d="M1299.4,402.8 1308.7,408.1 1309.4,415.3 1300.0,410.8" fill="#0b0d1b"/><path d="M1290.0,395.9 1299.4,402.8 1300.0,410.8 1290.6,405.0" fill="#0f132b"/><path d="M1280.5,386.8 1290.0,395.9 1290.6,405.0 1281.1,397.2" fill="#152151"/><path d="M1271.0,376.0 1280.5,386.8 1281.1,397.2 1271.7,387.8" fill="#1a2f71"/><path d="M1261.5,362.6 1271.0,376.0 1271.7,387.8 1262.2,375.8" fill="#204188"/><path d="M1796.6,376.9 1804.1,377.3 1805.0,379.8 1797.6,379.9" fill="#030305"/><path d="M1789.2,376.5 1796.6,376.9 1797.6,379.9 1790.2,380.0" fill="#030305"/><path d="M1781.8,376.0 1789.2,376.5 1790.2,380.0 1782.7,380.1" fill="#030305"/><path d="M1774.3,375.6 1781.8,376.0 1782.7,380.1 1775.3,380.3" fill="#040405"/><path d="M1766.9,375.3 1774.3,375.6 1775.3,380.3 1767.8,380.5" fill="#040406"/><path d="M1759.5,375.9 1766.9,375.3 1767.8,380.5 1760.4,381.1" fill="#040406"/><path d="M1752.0,376.5 1759.5,375.9 1760.4,381.1 1753.0,381.8" fill="#040406"/><path d="M1744.6,377.1 1752.0,376.5 1753.0,381.8 1745.5,382.5" fill="#040406"/><path d="M1737.2,377.7 1744.6,377.1 1745.5,382.5 1738.1,383.2" fill="#040406"/><path d="M1729.8,378.3 1737.2,377.7 1738.1,383.2 1730.7,383.9" fill="#040406"/><path d="M1722.3,378.9 1729.8,378.3 1730.7,383.9 1723.2,384.6" fill="#040406"/><path d="M1715.5,380.1 1722.3,378.9 1723.2,384.6 1716.4,385.9" fill="#040406"/><path d="M1708.8,381.3 1715.5,380.1 1716.4,385.9 1709.7,387.2" fill="#040406"/><path d="M1702.0,382.5 1708.8,381.3 1709.7,387.2 1702.9,388.5" fill="#040406"/><path d="M1695.3,383.8 1702.0,382.5 1702.9,388.5 1696.2,389.8" fill="#040406"/><path d="M1688.5,385.0 1695.3,383.8 1696.2,389.8 1689.4,391.1" fill="#040406"/><path d="M1681.8,386.2 1688.5,385.0 1689.4,391.1 1682.7,392.3" fill="#040406"/><path d="M1675.0,387.5 1681.8,386.2 1682.7,392.3 1675.9,393.7" fill="#040406"/><path d="M1668.2,388.7 1675.0,387.5 1675.9,393.7 1669.2,395.0" fill="#040406"/><path d="M1661.5,390.0 1668.2,388.7 1669.2,395.0 1662.4,396.3" fill="#040406"/><path d="M1654.6,391.1 1661.5,390.0 1662.4,396.3 1655.5,397.5" fill="#040406"/><path d="M1647.7,392.4 1654.6,391.1 1655.5,397.5 1648.6,398.8" fill="#040406"/><path d="M1640.9,393.6 1647.7,392.4 1648.6,398.8 1641.8,400.0" fill="#040406"/><path d="M1634.0,394.9 1640.9,393.6 1641.8,400.0 1634.9,401.3" fill="#040406"/><path d="M1627.1,396.1 1634.0,394.9 1634.9,401.3 1628.0,402.6" fill="#040406"/><path d="M1620.3,397.4 1627.1,396.1 1628.0,402.6 1621.2,403.9" fill="#040406"/><path d="M1614.8,399.9 1620.3,397.4 1621.2,403.9 1615.7,406.3" fill="#040406"/><path d="M1609.5,402.5 1614.8,399.9 1615.7,406.3 1610.5,409.0" fill="#040406"/><path d="M1604.3,405.2 1609.5,402.5 1610.5,409.0 1605.2,411.6" fill="#040406"/><path d="M1599.0,407.9 1604.3,405.2 1605.2,411.6 1599.9,414.3" fill="#040406"/><path d="M1593.7,410.6 1599.0,407.9 1599.9,414.3 1594.7,416.9" fill="#040406"/><path d="M1588.7,413.4 1593.7,410.6 1594.7,416.9 1589.6,419.7" fill="#040406"/><path d="M1584.2,416.6 1588.7,413.4 1589.6,419.7 1585.2,422.9" fill="#040406"/><path d="M1579.7,419.9 1584.2,416.6 1585.2,422.9 1580.7,426.2" fill="#040406"/><path d="M1575.2,423.5 1579.7,419.9 1580.7,426.2 1576.3,429.7" fill="#040406"/><path d="M1570.8,427.1 1575.2,423.5 1576.3,429.7 1571.8,433.1" fill="#040406"/><path d="M1566.2,430.6 1570.8,427.1 1571.8,433.1 1567.3,436.5" fill="#040406"/><path d="M1560.2,432.6 1566.2,430.6 1567.3,436.5 1561.2,438.5" fill="#040406"/><path d="M1554.1,434.5 1560.2,432.6 1561.2,438.5 1555.2,440.4" fill="#040406"/><path d="M1548.0,436.4 1554.1,434.5 1555.2,440.4 1549.1,442.3" fill="#040406"/><path d="M1542.0,438.1 1548.0,436.4 1549.1,442.3 1543.1,444.1" fill="#040406"/><path d="M1535.9,439.8 1542.0,438.1 1543.1,444.1 1537.0,445.9" fill="#040406"/><path d="M1529.1,440.7 1535.9,439.8 1537.0,445.9 1530.2,447.1" fill="#040406"/><path d="M1521.4,438.6 1529.1,440.7 1530.2,447.1 1522.5,445.0" fill="#040407"/><path d="M1513.7,431.8 1521.4,438.6 1522.5,445.0 1514.7,436.9" fill="#07080f"/><path d="M1505.9,421.2 1513.7,431.8 1514.7,436.9 1507.0,425.9" fill="#0e1227"/><path d="M1498.2,408.1 1505.9,421.2 1507.0,425.9 1499.2,420.5" fill="#17265d"/><path d="M1489.9,425.2 1498.2,408.1 1499.2,420.5 1490.9,437.9" fill="#141e48"/><path d="M1480.3,430.1 1489.9,425.2 1490.9,437.9 1481.3,440.6" fill="#0a0c18"/><path d="M1470.6,433.0 1480.3,430.1 1481.3,440.6 1471.6,442.3" fill="#080911"/><path d="M1461.0,434.4 1470.6,433.0 1471.6,442.3 1461.9,443.0" fill="#06070d"/><path d="M1451.3,435.3 1461.0,434.4 1461.9,443.0 1452.3,443.3" fill="#06060b"/><path d="M1441.7,436.2 1451.3,435.3 1452.3,443.3 1442.6,443.4" fill="#050509"/><path d="M1431.6,436.1 1441.7,436.2 1442.6,443.4 1432.5,442.7" fill="#040407"/><path d="M1420.3,434.3 1431.6,436.1 1432.5,442.7 1421.1,440.7" fill="#040406"/><path d="M1409.0,432.6 1420.3,434.3 1421.1,440.7 1409.8,438.7" fill="#040406"/><path d="M1397.7,430.8 1409.0,432.6 1409.8,438.7 1398.4,436.6" fill="#040406"/><path d="M1386.4,429.1 1397.7,430.8 1398.4,436.6 1387.1,434.6" fill="#040406"/><path d="M1375.6,427.8 1386.4,429.1 1387.1,434.6 1376.3,433.0" fill="#040406"/><path d="M1366.1,427.8 1375.6,427.8 1376.3,433.0 1366.8,432.7" fill="#040406"/><path d="M1356.7,427.7 1366.1,427.8 1366.8,432.7 1357.3,432.2" fill="#040406"/><path d="M1347.2,427.5 1356.7,427.7 1357.3,432.2 1347.8,431.8" fill="#030305"/><path d="M1337.7,426.0 1347.2,427.5 1347.8,431.8 1338.3,430.4" fill="#030305"/><path d="M1328.3,422.9 1337.7,426.0 1338.3,430.4 1328.8,428.0" fill="#040406"/><path d="M1318.8,419.2 1328.3,422.9 1328.8,428.0 1319.3,425.2" fill="#040406"/><path d="M1309.4,415.3 1318.8,419.2 1319.3,425.2 1309.9,421.9" fill="#05050a"/><path d="M1300.0,410.8 1309.4,415.3 1309.9,421.9 1300.5,418.0" fill="#07070e"/><path d="M1290.6,405.0 1300.0,410.8 1300.5,418.0 1291.1,413.3" fill="#090a14"/><path d="M1281.1,397.2 1290.6,405.0 1291.1,413.3 1281.6,407.0" fill="#0d1023"/><path d="M1271.7,387.8 1281.1,397.2 1281.6,407.0 1272.2,399.3" fill="#131c43"/><path d="M1262.2,375.8 1271.7,387.8 1272.2,399.3 1262.7,389.1" fill="#192c6b"/><path d="M1797.6,379.9 1805.0,379.8 1805.7,381.5 1798.3,382.1" fill="#030304"/><path d="M1790.2,380.0 1797.6,379.9 1798.3,382.1 1790.8,382.6" fill="#030304"/><path d="M1782.7,380.1 1790.2,380.0 1790.8,382.6 1783.4,383.1" fill="#030304"/><path d="M1775.3,380.3 1782.7,380.1 1783.4,383.1 1776.0,383.6" fill="#030304"/><path d="M1767.8,380.5 1775.3,380.3 1776.0,383.6 1768.5,384.1" fill="#030305"/><path d="M1760.4,381.1 1767.8,380.5 1768.5,384.1 1761.1,384.9" fill="#030305"/><path d="M1753.0,381.8 1760.4,381.1 1761.1,384.9 1753.6,385.6" fill="#030305"/><path d="M1745.5,382.5 1753.0,381.8 1753.6,385.6 1746.2,386.4" fill="#030305"/><path d="M1738.1,383.2 1745.5,382.5 1746.2,386.4 1738.8,387.2" fill="#030305"/><path d="M1730.7,383.9 1738.1,383.2 1738.8,387.2 1731.3,388.0" fill="#030305"/><path d="M1723.2,384.6 1730.7,383.9 1731.3,388.0 1723.9,388.7" fill="#030305"/><path d="M1716.4,385.9 1723.2,384.6 1723.9,388.7 1717.1,390.0" fill="#030305"/><path d="M1709.7,387.2 1716.4,385.9 1717.1,390.0 1710.3,391.4" fill="#030305"/><path d="M1702.9,388.5 1709.7,387.2 1710.3,391.4 1703.6,392.7" fill="#030305"/><path d="M1696.2,389.8 1702.9,388.5 1703.6,392.7 1696.8,394.1" fill="#030305"/><path d="M1689.4,391.1 1696.2,389.8 1696.8,394.1 1690.1,395.4" fill="#030305"/><path d="M1682.7,392.3 1689.4,391.1 1690.1,395.4 1683.3,396.8" fill="#030305"/><path d="M1675.9,393.7 1682.7,392.3 1683.3,396.8 1676.6,398.1" fill="#030305"/><path d="M1669.2,395.0 1675.9,393.7 1676.6,398.1 1669.8,399.5" fill="#030305"/><path d="M1662.4,396.3 1669.2,395.0 1669.8,399.5 1663.0,400.8" fill="#030305"/><path d="M1655.5,397.5 1662.4,396.3 1663.0,400.8 1656.1,402.1" fill="#030305"/><path d="M1648.6,398.8 1655.5,397.5 1656.1,402.1 1649.3,403.3" fill="#030305"/><path d="M1641.8,400.0 1648.6,398.8 1649.3,403.3 1642.4,404.6" fill="#030305"/><path d="M1634.9,401.3 1641.8,400.0 1642.4,404.6 1635.5,405.9" fill="#030305"/><path d="M1628.0,402.6 1634.9,401.3 1635.5,405.9 1628.7,407.2" fill="#030305"/><path d="M1621.2,403.9 1628.0,402.6 1628.7,407.2 1621.8,408.5" fill="#030305"/><path d="M1615.7,406.3 1621.2,403.9 1621.8,408.5 1616.4,410.9" fill="#030305"/><path d="M1610.5,409.0 1615.7,406.3 1616.4,410.9 1611.1,413.5" fill="#030305"/><path d="M1605.2,411.6 1610.5,409.0 1611.1,413.5 1605.9,416.2" fill="#030305"/><path d="M1599.9,414.3 1605.2,411.6 1605.9,416.2 1600.6,418.8" fill="#030305"/><path d="M1594.7,416.9 1599.9,414.3 1600.6,418.8 1595.4,421.4" fill="#030305"/><path d="M1589.6,419.7 1594.7,416.9 1595.4,421.4 1590.3,424.2" fill="#030305"/><path d="M1585.2,422.9 1589.6,419.7 1590.3,424.2 1585.9,427.5" fill="#030305"/><path d="M1580.7,426.2 1585.2,422.9 1585.9,427.5 1581.4,430.7" fill="#030305"/><path d="M1576.3,429.7 1580.7,426.2 1581.4,430.7 1577.0,434.1" fill="#030305"/><path d="M1571.8,433.1 1576.3,429.7 1577.0,434.1 1572.6,437.4" fill="#030305"/><path d="M1567.3,436.5 1571.8,433.1 1572.6,437.4 1568.0,440.7" fill="#030305"/><path d="M1561.2,438.5 1567.3,436.5 1568.0,440.7 1562.0,442.7" fill="#030305"/><path d="M1555.2,440.4 1561.2,438.5 1562.0,442.7 1555.9,444.6" fill="#030305"/><path d="M1549.1,442.3 1555.2,440.4 1555.9,444.6 1549.9,446.6" fill="#030305"/><path d="M1543.1,444.1 1549.1,442.3 1549.9,446.6 1543.8,448.5" fill="#030305"/><path d="M1537.0,445.9 1543.1,444.1 1543.8,448.5 1537.8,450.4" fill="#030305"/><path d="M1530.2,447.1 1537.0,445.9 1537.8,450.4 1531.0,451.6" fill="#030305"/><path d="M1522.5,445.0 1530.2,447.1 1531.0,451.6 1523.2,449.6" fill="#030305"/><path d="M1514.7,436.9 1522.5,445.0 1523.2,449.6 1515.5,440.9" fill="#050509"/><path d="M1507.0,425.9 1514.7,436.9 1515.5,440.9 1507.7,429.3" fill="#0b0d1b"/><path d="M1499.2,420.5 1507.0,425.9 1507.7,429.3 1500.0,439.2" fill="#0e132a"/><path d="M1490.9,437.9 1499.2,420.5 1500.0,439.2 1491.7,448.7" fill="#090a14"/><path d="M1481.3,440.6 1490.9,437.9 1491.7,448.7 1482.0,449.5" fill="#050508"/><path d="M1471.6,442.3 1481.3,440.6 1482.0,449.5 1472.3,449.7" fill="#040406"/><path d="M1461.9,443.0 1471.6,442.3 1472.3,449.7 1462.6,449.5" fill="#040406"/><path d="M1452.3,443.3 1461.9,443.0 1462.6,449.5 1452.9,449.1" fill="#030305"/><path d="M1442.6,443.4 1452.3,443.3 1452.9,449.1 1443.3,448.5" fill="#030305"/><path d="M1432.5,442.7 1442.6,443.4 1443.3,448.5 1433.1,447.4" fill="#030305"/><path d="M1421.1,440.7 1432.5,442.7 1433.1,447.4 1421.7,445.2" fill="#030305"/><path d="M1409.8,438.7 1421.1,440.7 1421.7,445.2 1410.3,443.0" fill="#030305"/><path d="M1398.4,436.6 1409.8,438.7 1410.3,443.0 1399.0,440.8" fill="#030305"/><path d="M1387.1,434.6 1398.4,436.6 1399.0,440.8 1387.6,438.6" fill="#030305"/><path d="M1376.3,433.0 1387.1,434.6 1387.6,438.6 1376.8,436.8" fill="#030305"/><path d="M1366.8,432.7 1376.3,433.0 1376.8,436.8 1367.3,436.2" fill="#030305"/><path d="M1357.3,432.2 1366.8,432.7 1367.3,436.2 1357.8,435.5" fill="#030304"/><path d="M1347.8,431.8 1357.3,432.2 1357.8,435.5 1348.3,434.8" fill="#030304"/><path d="M1338.3,430.4 1347.8,431.8 1348.3,434.8 1338.7,433.7" fill="#030304"/><path d="M1328.8,428.0 1338.3,430.4 1338.7,433.7 1329.2,432.0" fill="#030305"/><path d="M1319.3,425.2 1328.8,428.0 1329.2,432.0 1319.7,430.0" fill="#030305"/><path d="M1309.9,421.9 1319.3,425.2 1319.7,430.0 1310.3,427.6" fill="#030305"/><path d="M1300.5,418.0 1309.9,421.9 1310.3,427.6 1300.9,424.8" fill="#040406"/><path d="M1291.1,413.3 1300.5,418.0 1300.9,424.8 1291.4,421.1" fill="#050509"/><path d="M1281.6,407.0 1291.1,413.3 1291.4,421.1 1282.0,416.1" fill="#07080f"/><path d="M1272.2,399.3 1281.6,407.0 1282.0,416.1 1272.6,410.2" fill="#0a0c19"/><path d="M1262.7,389.1 1272.2,399.3 1272.6,410.2 1263.1,402.3" fill="#101532"/><path d="M1798.3,382.1 1805.7,381.5 1806.1,382.6 1798.7,383.3" fill="#030304"/><path d="M1790.8,382.6 1798.3,382.1 1798.7,383.3 1791.3,384.1" fill="#030304"/><path d="M1783.4,383.1 1790.8,382.6 1791.3,384.1 1783.8,384.8" fill="#030304"/><path d="M1776.0,383.6 1783.4,383.1 1783.8,384.8 1776.4,385.6" fill="#030304"/><path d="M1768.5,384.1 1776.0,383.6 1776.4,385.6 1768.9,386.3" fill="#030304"/><path d="M1761.1,384.9 1768.5,384.1 1768.9,386.3 1761.5,387.1" fill="#030304"/><path d="M1753.6,385.6 1761.1,384.9 1761.5,387.1 1754.0,387.9" fill="#030304"/><path d="M1746.2,386.4 1753.6,385.6 1754.0,387.9 1746.6,388.8" fill="#030304"/><path d="M1738.8,387.2 1746.2,386.4 1746.6,388.8 1739.2,389.6" fill="#030304"/><path d="M1731.3,388.0 1738.8,387.2 1739.2,389.6 1731.7,390.4" fill="#030304"/><path d="M1723.9,388.7 1731.3,388.0 1731.7,390.4 1724.3,391.2" fill="#030304"/><path d="M1717.1,390.0 1723.9,388.7 1724.3,391.2 1717.5,392.5" fill="#030304"/><path d="M1710.3,391.4 1717.1,390.0 1717.5,392.5 1710.7,393.9" fill="#030304"/><path d="M1703.6,392.7 1710.3,391.4 1710.7,393.9 1704.0,395.3" fill="#030304"/><path d="M1696.8,394.1 1703.6,392.7 1704.0,395.3 1697.2,396.7" fill="#030304"/><path d="M1690.1,395.4 1696.8,394.1 1697.2,396.7 1690.5,398.0" fill="#030304"/><path d="M1683.3,396.8 1690.1,395.4 1690.5,398.0 1683.7,399.4" fill="#030304"/><path d="M1676.6,398.1 1683.3,396.8 1683.7,399.4 1676.9,400.8" fill="#030304"/><path d="M1669.8,399.5 1676.6,398.1 1676.9,400.8 1670.2,402.2" fill="#030304"/><path d="M1663.0,400.8 1669.8,399.5 1670.2,402.2 1663.4,403.5" fill="#030304"/><path d="M1656.1,402.1 1663.0,400.8 1663.4,403.5 1656.5,404.8" fill="#030304"/><path d="M1649.3,403.3 1656.1,402.1 1656.5,404.8 1649.7,406.1" fill="#030304"/><path d="M1642.4,404.6 1649.3,403.3 1649.7,406.1 1642.8,407.4" fill="#030304"/><path d="M1635.5,405.9 1642.4,404.6 1642.8,407.4 1635.9,408.7" fill="#030304"/><path d="M1628.7,407.2 1635.5,405.9 1635.9,408.7 1629.1,410.0" fill="#030304"/><path d="M1621.8,408.5 1628.7,407.2 1629.1,410.0 1622.2,411.2" fill="#030304"/><path d="M1616.4,410.9 1621.8,408.5 1622.2,411.2 1616.7,413.7" fill="#030304"/><path d="M1611.1,413.5 1616.4,410.9 1616.7,413.7 1611.5,416.3" fill="#030304"/><path d="M1605.9,416.2 1611.1,413.5 1611.5,416.3 1606.3,418.9" fill="#030304"/><path d="M1600.6,418.8 1605.9,416.2 1606.3,418.9 1601.0,421.5" fill="#030304"/><path d="M1595.4,421.4 1600.6,418.8 1601.0,421.5 1595.8,424.2" fill="#030304"/><path d="M1590.3,424.2 1595.4,421.4 1595.8,424.2 1590.7,426.9" fill="#030304"/><path d="M1585.9,427.5 1590.3,424.2 1590.7,426.9 1586.3,430.2" fill="#030304"/><path d="M1581.4,430.7 1585.9,427.5 1586.3,430.2 1581.9,433.5" fill="#030304"/><path d="M1577.0,434.1 1581.4,430.7 1581.9,433.5 1577.4,436.8" fill="#030304"/><path d="M1572.6,437.4 1577.0,434.1 1577.4,436.8 1573.0,440.0" fill="#030304"/><path d="M1568.0,440.7 1572.6,437.4 1573.0,440.0 1568.5,443.3" fill="#030304"/><path d="M1562.0,442.7 1568.0,440.7 1568.5,443.3 1562.4,445.2" fill="#030304"/><path d="M1555.9,444.6 1562.0,442.7 1562.4,445.2 1556.4,447.2" fill="#030304"/><path d="M1549.9,446.6 1555.9,444.6 1556.4,447.2 1550.3,449.1" fill="#030304"/><path d="M1543.8,448.5 1549.9,446.6 1550.3,449.1 1544.3,451.1" fill="#030304"/><path d="M1537.8,450.4 1543.8,448.5 1544.3,451.1 1538.2,453.0" fill="#030304"/><path d="M1531.0,451.6 1537.8,450.4 1538.2,453.0 1531.5,454.3" fill="#030304"/><path d="M1523.2,449.6 1531.0,451.6 1531.5,454.3 1523.7,452.4" fill="#030304"/><path d="M1515.5,440.9 1523.2,449.6 1523.7,452.4 1515.9,443.6" fill="#040406"/><path d="M1507.7,429.3 1515.5,440.9 1515.9,443.6 1508.2,431.3" fill="#090a15"/><path d="M1500.0,439.2 1507.7,429.3 1508.2,431.3 1500.4,452.9" fill="#080912"/><path d="M1491.7,448.7 1500.0,439.2 1500.4,452.9 1492.1,455.4" fill="#030305"/><path d="M1482.0,449.5 1491.7,448.7 1492.1,455.4 1482.4,454.9" fill="#030304"/><path d="M1472.3,449.7 1482.0,449.5 1482.4,454.9 1472.7,454.2" fill="#030304"/><path d="M1462.6,449.5 1472.3,449.7 1472.7,454.2 1463.0,453.4" fill="#030304"/><path d="M1452.9,449.1 1462.6,449.5 1463.0,453.4 1453.3,452.5" fill="#030304"/><path d="M1443.3,448.5 1452.9,449.1 1453.3,452.5 1443.7,451.6" fill="#030304"/><path d="M1433.1,447.4 1443.3,448.5 1443.7,451.6 1433.5,450.3" fill="#030304"/><path d="M1421.7,445.2 1433.1,447.4 1433.5,450.3 1422.1,448.0" fill="#030304"/><path d="M1410.3,443.0 1421.7,445.2 1422.1,448.0 1410.7,445.6" fill="#030304"/><path d="M1399.0,440.8 1410.3,443.0 1410.7,445.6 1399.3,443.3" fill="#030304"/><path d="M1387.6,438.6 1399.0,440.8 1399.3,443.3 1387.9,441.0" fill="#030304"/><path d="M1376.8,436.8 1387.6,438.6 1387.9,441.0 1377.1,439.1" fill="#030304"/><path d="M1367.3,436.2 1376.8,436.8 1377.1,439.1 1367.6,438.3" fill="#030304"/><path d="M1357.8,435.5 1367.3,436.2 1367.6,438.3 1358.0,437.5" fill="#030304"/><path d="M1348.3,434.8 1357.8,435.5 1358.0,437.5 1348.5,436.6" fill="#030304"/><path d="M1338.7,433.7 1348.3,434.8 1348.5,436.6 1339.0,435.7" fill="#030304"/><path d="M1329.2,432.0 1338.7,433.7 1339.0,435.7 1329.5,434.5" fill="#030304"/><path d="M1319.7,430.0 1329.2,432.0 1329.5,434.5 1320.0,433.2" fill="#030304"/><path d="M1310.3,427.6 1319.7,430.0 1320.0,433.2 1310.5,431.8" fill="#030304"/><path d="M1300.9,424.8 1310.3,427.6 1310.5,431.8 1301.1,430.1" fill="#030304"/><path d="M1291.4,421.1 1300.9,424.8 1301.1,430.1 1291.7,427.9" fill="#030305"/><path d="M1282.0,416.1 1291.4,421.1 1291.7,427.9 1282.2,425.0" fill="#040406"/><path d="M1272.6,410.2 1282.0,416.1 1282.2,425.0 1272.8,421.0" fill="#050509"/><path d="M1263.1,402.3 1272.6,410.2 1272.8,421.0 1263.4,415.4" fill="#070810"/><path d="M1798.7,383.3 1806.1,382.6 1806.3,382.9 1798.8,383.8" fill="#030304"/><path d="M1791.3,384.1 1798.7,383.3 1798.8,383.8 1791.4,384.6" fill="#030304"/><path d="M1783.8,384.8 1791.3,384.1 1791.4,384.6 1784.0,385.4" fill="#030304"/><path d="M1776.4,385.6 1783.8,384.8 1784.0,385.4 1776.5,386.2" fill="#030304"/><path d="M1768.9,386.3 1776.4,385.6 1776.5,386.2 1769.1,387.1" fill="#030303"/><path d="M1761.5,387.1 1768.9,386.3 1769.1,387.1 1761.6,387.9" fill="#030303"/><path d="M1754.0,387.9 1761.5,387.1 1761.6,387.9 1754.2,388.7" fill="#030303"/><path d="M1746.6,388.8 1754.0,387.9 1754.2,388.7 1746.7,389.5" fill="#030303"/><path d="M1739.2,389.6 1746.6,388.8 1746.7,389.5 1739.3,390.4" fill="#030303"/><path d="M1731.7,390.4 1739.2,389.6 1739.3,390.4 1731.8,391.2" fill="#030303"/><path d="M1724.3,391.2 1731.7,390.4 1731.8,391.2 1724.4,392.0" fill="#030303"/><path d="M1717.5,392.5 1724.3,391.2 1724.4,392.0 1717.6,393.4" fill="#030303"/><path d="M1710.7,393.9 1717.5,392.5 1717.6,393.4 1710.8,394.7" fill="#030303"/><path d="M1704.0,395.3 1710.7,393.9 1710.8,394.7 1704.1,396.1" fill="#030303"/><path d="M1697.2,396.7 1704.0,395.3 1704.1,396.1 1697.3,397.5" fill="#030303"/><path d="M1690.5,398.0 1697.2,396.7 1697.3,397.5 1690.6,398.9" fill="#030303"/><path d="M1683.7,399.4 1690.5,398.0 1690.6,398.9 1683.8,400.3" fill="#030303"/><path d="M1676.9,400.8 1683.7,399.4 1683.8,400.3 1677.1,401.7" fill="#030303"/><path d="M1670.2,402.2 1676.9,400.8 1677.1,401.7 1670.3,403.0" fill="#030303"/><path d="M1663.4,403.5 1670.2,402.2 1670.3,403.0 1663.5,404.4" fill="#030303"/><path d="M1656.5,404.8 1663.4,403.5 1663.5,404.4 1656.6,405.7" fill="#030303"/><path d="M1649.7,406.1 1656.5,404.8 1656.6,405.7 1649.8,407.0" fill="#030303"/><path d="M1642.8,407.4 1649.7,406.1 1649.8,407.0 1642.9,408.3" fill="#030303"/><path d="M1635.9,408.7 1642.8,407.4 1642.9,408.3 1636.1,409.6" fill="#030303"/><path d="M1629.1,410.0 1635.9,408.7 1636.1,409.6 1629.2,410.9" fill="#030303"/><path d="M1622.2,411.2 1629.1,410.0 1629.2,410.9 1622.3,412.2" fill="#030303"/><path d="M1616.7,413.7 1622.2,411.2 1622.3,412.2 1616.9,414.6" fill="#020203"/><path d="M1611.5,416.3 1616.7,413.7 1616.9,414.6 1611.6,417.2" fill="#020203"/><path d="M1606.3,418.9 1611.5,416.3 1611.6,417.2 1606.4,419.8" fill="#020203"/><path d="M1601.0,421.5 1606.3,418.9 1606.4,419.8 1601.1,422.4" fill="#020203"/><path d="M1595.8,424.2 1601.0,421.5 1601.1,422.4 1595.9,425.0" fill="#020203"/><path d="M1590.7,426.9 1595.8,424.2 1595.9,425.0 1590.9,427.8" fill="#020203"/><path d="M1586.3,430.2 1590.7,426.9 1590.9,427.8 1586.4,431.1" fill="#020203"/><path d="M1581.9,433.5 1586.3,430.2 1586.4,431.1 1582.0,434.4" fill="#020203"/><path d="M1577.4,436.8 1581.9,433.5 1582.0,434.4 1577.6,437.6" fill="#020203"/><path d="M1573.0,440.0 1577.4,436.8 1577.6,437.6 1573.2,440.9" fill="#020203"/><path d="M1568.5,443.3 1573.0,440.0 1573.2,440.9 1568.6,444.1" fill="#020203"/><path d="M1562.4,445.2 1568.5,443.3 1568.6,444.1 1562.6,446.1" fill="#030303"/><path d="M1556.4,447.2 1562.4,445.2 1562.6,446.1 1556.5,448.0" fill="#030303"/><path d="M1550.3,449.1 1556.4,447.2 1556.5,448.0 1550.5,450.0" fill="#030303"/><path d="M1544.3,451.1 1550.3,449.1 1550.5,450.0 1544.4,451.9" fill="#030303"/><path d="M1538.2,453.0 1544.3,451.1 1544.4,451.9 1538.4,453.9" fill="#030303"/><path d="M1531.5,454.3 1538.2,453.0 1538.4,453.9 1531.6,455.2" fill="#030303"/><path d="M1523.7,452.4 1531.5,454.3 1531.6,455.2 1523.8,453.3" fill="#030304"/><path d="M1515.9,443.6 1523.7,452.4 1523.8,453.3 1516.1,444.5" fill="#040406"/><path d="M1508.2,431.3 1515.9,443.6 1516.1,444.5 1508.3,432.0" fill="#080a13"/><path d="M1500.4,452.9 1508.2,431.3 1508.3,432.0 1500.6,457.5" fill="#05060a"/><path d="M1492.1,455.4 1500.4,452.9 1500.6,457.5 1492.3,457.6" fill="#030304"/><path d="M1482.4,454.9 1492.1,455.4 1492.3,457.6 1482.6,456.6" fill="#020203"/><path d="M1472.7,454.2 1482.4,454.9 1482.6,456.6 1472.9,455.6" fill="#020203"/><path d="M1463.0,453.4 1472.7,454.2 1472.9,455.6 1463.2,454.6" fill="#020203"/><path d="M1453.3,452.5 1463.0,453.4 1463.2,454.6 1453.5,453.6" fill="#020203"/><path d="M1443.7,451.6 1453.3,452.5 1453.5,453.6 1443.8,452.6" fill="#020203"/><path d="M1433.5,450.3 1443.7,451.6 1443.8,452.6 1433.6,451.2" fill="#020203"/><path d="M1422.1,448.0 1433.5,450.3 1433.6,451.2 1422.2,448.9" fill="#020203"/><path d="M1410.7,445.6 1422.1,448.0 1422.2,448.9 1410.8,446.5" fill="#020203"/><path d="M1399.3,443.3 1410.7,445.6 1410.8,446.5 1399.4,444.1" fill="#020203"/><path d="M1387.9,441.0 1399.3,443.3 1399.4,444.1 1388.0,441.7" fill="#020203"/><path d="M1377.1,439.1 1387.9,441.0 1388.0,441.7 1377.2,439.8" fill="#020203"/><path d="M1367.6,438.3 1377.1,439.1 1377.2,439.8 1367.7,439.0" fill="#020203"/><path d="M1358.0,437.5 1367.6,438.3 1367.7,439.0 1358.1,438.1" fill="#020203"/><path d="M1348.5,436.6 1358.0,437.5 1358.1,438.1 1348.6,437.2" fill="#020203"/><path d="M1339.0,435.7 1348.5,436.6 1348.6,437.2 1339.1,436.4" fill="#020203"/><path d="M1329.5,434.5 1339.0,435.7 1339.1,436.4 1329.6,435.5" fill="#020203"/><path d="M1320.0,433.2 1329.5,434.5 1329.6,435.5 1320.0,434.6" fill="#020203"/><path d="M1310.5,431.8 1320.0,433.2 1320.0,434.6 1310.6,433.7" fill="#020203"/><path d="M1301.1,430.1 1310.5,431.8 1310.6,433.7 1301.1,432.9" fill="#020203"/><path d="M1291.7,427.9 1301.1,430.1 1301.1,432.9 1291.7,431.9" fill="#030304"/><path d="M1282.2,425.0 1291.7,427.9 1291.7,431.9 1282.3,430.8" fill="#030304"/><path d="M1272.8,421.0 1282.2,425.0 1282.3,430.8 1272.9,429.5" fill="#030304"/><path d="M1263.4,415.4 1272.8,421.0 1272.9,429.5 1263.4,427.7" fill="#030305"/><path d="M1798.8,383.8 1806.3,382.9 1806.3,382.9 1798.8,383.8" fill="#030304"/><path d="M1791.4,384.6 1798.8,383.8 1798.8,383.8 1791.4,384.6" fill="#030304"/><path d="M1784.0,385.4 1791.4,384.6 1791.4,384.6 1784.0,385.4" fill="#030303"/><path d="M1776.5,386.2 1784.0,385.4 1784.0,385.4 1776.5,386.2" fill="#030303"/><path d="M1769.1,387.1 1776.5,386.2 1776.5,386.2 1769.1,387.1" fill="#030303"/><path d="M1761.6,387.9 1769.1,387.1 1769.1,387.1 1761.6,387.9" fill="#030303"/><path d="M1754.2,388.7 1761.6,387.9 1761.6,387.9 1754.2,388.7" fill="#030303"/><path d="M1746.7,389.5 1754.2,388.7 1754.2,388.7 1746.7,389.5" fill="#020203"/><path d="M1739.3,390.4 1746.7,389.5 1746.7,389.5 1739.3,390.4" fill="#020203"/><path d="M1731.8,391.2 1739.3,390.4 1739.3,390.4 1731.8,391.2" fill="#020203"/><path d="M1724.4,392.0 1731.8,391.2 1731.8,391.2 1724.4,392.0" fill="#020203"/><path d="M1717.6,393.4 1724.4,392.0 1724.4,392.0 1717.6,393.4" fill="#020203"/><path d="M1710.8,394.7 1717.6,393.4 1717.6,393.4 1710.8,394.8" fill="#020203"/><path d="M1704.1,396.1 1710.8,394.7 1710.8,394.8 1704.1,396.1" fill="#020203"/><path d="M1697.3,397.5 1704.1,396.1 1704.1,396.1 1697.3,397.5" fill="#020203"/><path d="M1690.6,398.9 1697.3,397.5 1697.3,397.5 1690.6,398.9" fill="#020203"/><path d="M1683.8,400.3 1690.6,398.9 1690.6,398.9 1683.8,400.3" fill="#020203"/><path d="M1677.1,401.7 1683.8,400.3 1683.8,400.3 1677.1,401.7" fill="#020203"/><path d="M1670.3,403.0 1677.1,401.7 1677.1,401.7 1670.3,403.1" fill="#020203"/><path d="M1663.5,404.4 1670.3,403.0 1670.3,403.1 1663.5,404.4" fill="#020203"/><path d="M1656.6,405.7 1663.5,404.4 1663.5,404.4 1656.7,405.7" fill="#020203"/><path d="M1649.8,407.0 1656.6,405.7 1656.7,405.7 1649.8,407.0" fill="#020203"/><path d="M1642.9,408.3 1649.8,407.0 1649.8,407.0 1642.9,408.3" fill="#020203"/><path d="M1636.1,409.6 1642.9,408.3 1642.9,408.3 1636.1,409.6" fill="#020203"/><path d="M1629.2,410.9 1636.1,409.6 1636.1,409.6 1629.2,410.9" fill="#020203"/><path d="M1622.3,412.2 1629.2,410.9 1629.2,410.9 1622.3,412.2" fill="#020203"/><path d="M1616.9,414.6 1622.3,412.2 1622.3,412.2 1616.9,414.6" fill="#020203"/><path d="M1611.6,417.2 1616.9,414.6 1616.9,414.6 1611.6,417.2" fill="#020203"/><path d="M1606.4,419.8 1611.6,417.2 1611.6,417.2 1606.4,419.8" fill="#020203"/><path d="M1601.1,422.4 1606.4,419.8 1606.4,419.8 1601.2,422.4" fill="#020203"/><path d="M1595.9,425.0 1601.1,422.4 1601.2,422.4 1595.9,425.1" fill="#020203"/><path d="M1590.9,427.8 1595.9,425.0 1595.9,425.1 1590.9,427.8" fill="#020203"/><path d="M1586.4,431.1 1590.9,427.8 1590.9,427.8 1586.4,431.1" fill="#020203"/><path d="M1582.0,434.4 1586.4,431.1 1586.4,431.1 1582.0,434.4" fill="#020203"/><path d="M1577.6,437.6 1582.0,434.4 1582.0,434.4 1577.6,437.6" fill="#020203"/><path d="M1573.2,440.9 1577.6,437.6 1577.6,437.6 1573.2,440.9" fill="#020203"/><path d="M1568.6,444.1 1573.2,440.9 1573.2,440.9 1568.6,444.1" fill="#020203"/><path d="M1562.6,446.1 1568.6,444.1 1568.6,444.1 1562.6,446.1" fill="#020203"/><path d="M1556.5,448.0 1562.6,446.1 1562.6,446.1 1556.5,448.0" fill="#020203"/><path d="M1550.5,450.0 1556.5,448.0 1556.5,448.0 1550.5,450.0" fill="#020203"/><path d="M1544.4,451.9 1550.5,450.0 1550.5,450.0 1544.4,451.9" fill="#020203"/><path d="M1538.4,453.9 1544.4,451.9 1544.4,451.9 1538.4,453.9" fill="#020203"/><path d="M1531.6,455.2 1538.4,453.9 1538.4,453.9 1531.6,455.3" fill="#020203"/><path d="M1523.8,453.3 1531.6,455.2 1531.6,455.3 1523.8,455.8" fill="#020203"/><path d="M1516.1,444.5 1523.8,453.3 1523.8,455.8 1516.1,456.4" fill="#030304"/><path d="M1508.3,432.0 1516.1,444.5 1516.1,456.4 1508.3,457.0" fill="#040406"/><path d="M1500.6,457.5 1508.3,432.0 1508.3,457.0 1500.6,457.5" fill="#030305"/><path d="M1492.3,457.6 1500.6,457.5 1500.6,457.5 1492.3,457.6" fill="#020203"/><path d="M1482.6,456.6 1492.3,457.6 1492.3,457.6 1482.6,456.7" fill="#020203"/><path d="M1472.9,455.6 1482.6,456.6 1482.6,456.7 1472.9,455.7" fill="#020203"/><path d="M1463.2,454.6 1472.9,455.6 1472.9,455.7 1463.2,454.7" fill="#020203"/><path d="M1453.5,453.6 1463.2,454.6 1463.2,454.7 1453.5,453.7" fill="#020203"/><path d="M1443.8,452.6 1453.5,453.6 1453.5,453.7 1443.8,452.7" fill="#020203"/><path d="M1433.6,451.2 1443.8,452.6 1443.8,452.7 1433.6,451.3" fill="#020203"/><path d="M1422.2,448.9 1433.6,451.2 1433.6,451.3 1422.2,448.9" fill="#020203"/><path d="M1410.8,446.5 1422.2,448.9 1422.2,448.9 1410.8,446.5" fill="#020203"/><path d="M1399.4,444.1 1410.8,446.5 1410.8,446.5 1399.4,444.1" fill="#020203"/><path d="M1388.0,441.7 1399.4,444.1 1399.4,444.1 1388.0,441.8" fill="#020203"/><path d="M1377.2,439.8 1388.0,441.7 1388.0,441.8 1377.2,439.8" fill="#020203"/><path d="M1367.7,439.0 1377.2,439.8 1377.2,439.8 1367.7,439.0" fill="#020203"/><path d="M1358.1,438.1 1367.7,439.0 1367.7,439.0 1358.1,438.1" fill="#020203"/><path d="M1348.6,437.2 1358.1,438.1 1358.1,438.1 1348.6,437.2" fill="#020203"/><path d="M1339.1,436.4 1348.6,437.2 1348.6,437.2 1339.1,436.4" fill="#020203"/><path d="M1329.6,435.5 1339.1,436.4 1339.1,436.4 1329.6,435.5" fill="#020203"/><path d="M1320.0,434.6 1329.6,435.5 1329.6,435.5 1320.0,434.7" fill="#020203"/><path d="M1310.6,433.7 1320.0,434.6 1320.0,434.7 1310.6,433.9" fill="#020203"/><path d="M1301.1,432.9 1310.6,433.7 1310.6,433.9 1301.1,433.1" fill="#020203"/><path d="M1291.7,431.9 1301.1,432.9 1301.1,433.1 1291.7,432.3" fill="#020203"/><path d="M1282.3,430.8 1291.7,431.9 1291.7,432.3 1282.3,431.5" fill="#020203"/><path d="M1272.9,429.5 1282.3,430.8 1282.3,431.5 1272.9,430.7" fill="#020203"/><path d="M1263.4,427.7 1272.9,429.5 1272.9,430.7 1263.4,430.0" fill="#020203"/></g></g>
<path d="M1197.5,111.1 1198.6,112.0 1199.7,113.0 1200.9,114.1 1202.0,115.2 1203.1,116.4 1204.2,117.7 1205.3,119.1 1206.4,120.6 1207.6,122.1 1208.7,123.7 1209.8,125.4 1210.9,127.2 1212.0,129.0 1213.1,131.0 1214.3,133.0 1215.4,135.1 1216.5,137.3 1217.6,139.6 1218.7,141.9 1219.8,144.4 1221.0,146.9 1222.1,149.6 1223.2,152.3 1224.3,155.1 1225.4,158.0 1226.6,161.1 1227.7,164.2 1228.8,167.5 1229.9,170.8 1231.0,174.3 1232.1,177.9 1233.3,181.6 1234.4,185.5 1235.5,189.4 1236.6,193.6 1237.7,197.8 1238.8,202.2 1240.0,206.8 1241.1,211.6 1242.2,216.5 1243.3,221.6 1244.4,226.9 1245.5,232.5 1246.7,238.3 1247.8,244.3 1248.9,250.6 1250.0,257.3 1251.1,264.3 1252.3,271.6 1253.4,279.4 1254.5,287.8 1255.6,296.7 1256.7,306.3 1257.8,316.9 1259.0,328.6 1260.1,341.9 1261.2,357.8 1262.3,378.4 1263.4,422.8 1263.4,430.0 M1227.1,127.1 1228.1,126.7 1229.2,127.8 1230.2,129.1 1231.2,130.5 1232.2,132.1 1233.2,133.8 1234.3,135.6 1235.3,137.5 1236.3,139.6 1237.3,141.7 1238.3,144.0 1239.4,146.3 1240.4,148.8 1241.4,151.3 1242.4,154.0 1243.4,156.7 1244.5,159.6 1245.5,162.5 1246.5,165.5 1247.5,168.7 1248.5,171.9 1249.6,175.3 1250.6,178.7 1251.6,182.2 1252.6,185.9 1253.7,189.6 1254.7,193.4 1255.7,197.4 1256.7,201.4 1257.7,205.6 1258.8,209.9 1259.8,214.3 1260.8,218.8 1261.8,223.4 1262.8,228.2 1263.9,233.1 1264.9,238.1 1265.9,243.2 1266.9,248.5 1267.9,254.0 1269.0,259.6 1270.0,265.4 1271.0,271.3 1272.0,277.5 1273.0,283.8 1274.1,290.4 1275.1,297.2 1276.1,304.2 1277.1,311.6 1278.1,319.2 1279.2,327.2 1280.2,335.7 1281.2,344.6 1282.2,354.1 1283.2,364.3 1284.3,375.5 1285.3,388.1 1286.3,403.3 1287.3,429.7 1287.3,431.9 M1248.0,137.4 1249.1,139.2 1250.2,141.0 1251.2,142.8 1252.3,144.5 1253.4,146.3 1254.4,148.1 1255.5,149.9 1256.6,151.6 1257.7,153.4 1258.7,155.2 1259.8,153.5 1260.9,155.5 1261.9,157.8 1263.0,160.4 1264.1,163.2 1265.2,166.3 1266.2,169.5 1267.3,172.9 1268.4,176.4 1269.4,180.1 1270.5,183.9 1271.6,187.8 1272.7,191.9 1273.7,196.1 1274.8,200.4 1275.9,204.8 1276.9,209.3 1278.0,214.0 1279.1,218.7 1280.2,223.6 1281.2,228.5 1282.3,233.6 1283.4,238.8 1284.4,244.0 1285.5,249.4 1286.6,254.9 1287.7,260.6 1288.7,266.3 1289.8,272.1 1290.9,278.1 1291.9,284.2 1293.0,290.4 1294.1,296.7 1295.2,303.2 1296.2,309.8 1297.3,316.5 1298.4,323.4 1299.4,330.5 1300.5,337.7 1301.6,345.2 1302.7,352.9 1303.7,360.8 1304.8,368.9 1305.9,377.4 1306.9,386.3 1308.0,395.6 1309.1,405.7 1310.2,416.8 1311.2,433.3 1311.2,433.9 M1265.0,148.0 1266.2,149.1 1267.4,150.2 1268.6,151.4 1269.7,152.5 1270.9,153.7 1272.1,154.8 1273.3,155.9 1274.5,157.1 1275.7,158.2 1276.9,159.4 1278.1,160.5 1279.3,161.6 1280.5,162.8 1281.7,164.0 1282.9,166.5 1284.1,169.0 1285.2,171.5 1286.4,174.0 1287.6,176.5 1288.8,179.0 1290.0,181.4 1291.2,183.9 1292.4,185.6 1293.6,190.9 1294.8,196.5 1296.0,202.2 1297.2,208.1 1298.4,214.1 1299.6,220.2 1300.7,226.4 1301.9,232.7 1303.1,239.0 1304.3,245.4 1305.5,251.9 1306.7,258.5 1307.9,265.1 1309.1,271.7 1310.3,278.4 1311.5,285.2 1312.7,292.0 1313.9,298.9 1315.1,305.8 1316.2,312.8 1317.4,319.8 1318.6,326.9 1319.8,334.0 1321.0,341.2 1322.2,348.5 1323.4,355.8 1324.6,363.1 1325.8,370.5 1327.0,378.0 1328.2,385.6 1329.4,393.2 1330.6,400.9 1331.7,408.8 1332.9,416.8 1334.1,425.8 1335.3,435.9 1335.3,436.0 M1281.9,156.4 1283.3,157.1 1284.6,157.8 1285.9,158.5 1287.2,159.2 1288.5,159.9 1289.8,160.6 1291.1,161.4 1292.5,162.1 1293.8,162.8 1295.1,163.5 1296.4,164.2 1297.7,164.9 1299.0,166.2 1300.3,168.7 1301.7,171.1 1303.0,173.6 1304.3,176.0 1305.6,178.4 1306.9,180.9 1308.2,183.3 1309.5,185.7 1310.9,188.2 1312.2,190.6 1313.5,193.0 1314.8,195.5 1316.1,198.2 1317.4,201.0 1318.7,203.9 1320.1,206.7 1321.4,209.5 1322.7,212.3 1324.0,215.5 1325.3,223.6 1326.6,231.8 1327.9,240.0 1329.2,248.1 1330.6,256.3 1331.9,264.5 1333.2,272.6 1334.5,280.8 1335.8,288.9 1337.1,297.1 1338.4,305.3 1339.8,313.4 1341.1,321.6 1342.4,329.7 1343.7,337.9 1345.0,346.1 1346.3,354.2 1347.6,362.4 1349.0,370.5 1350.3,378.7 1351.6,386.9 1352.9,395.0 1354.2,403.2 1355.5,411.4 1356.8,419.5 1358.2,428.7 1359.5,438.1 1359.5,438.2 M1298.9,164.4 1300.4,165.0 1301.8,165.7 1303.2,166.3 1304.7,167.0 1306.1,167.6 1307.6,168.3 1309.0,168.9 1310.5,169.6 1311.9,170.2 1313.4,170.9 1314.8,171.5 1316.3,173.0 1317.7,175.2 1319.2,177.4 1320.6,179.7 1322.1,181.9 1323.5,184.1 1325.0,186.3 1326.4,188.5 1327.9,190.7 1329.3,192.9 1330.8,195.1 1332.2,197.4 1333.7,200.3 1335.1,203.2 1336.6,206.1 1338.0,209.0 1339.4,211.9 1340.9,214.8 1342.3,217.7 1343.8,220.6 1345.2,223.5 1346.7,226.4 1348.1,229.3 1349.6,232.0 1351.0,234.6 1352.5,237.2 1353.9,239.8 1355.4,242.4 1356.8,255.9 1358.3,265.5 1359.7,275.1 1361.2,284.7 1362.6,294.3 1364.1,303.9 1365.5,313.5 1367.0,323.1 1368.4,332.7 1369.9,342.3 1371.3,351.9 1372.8,361.6 1374.2,371.2 1375.7,380.8 1377.1,390.4 1378.5,400.0 1380.0,409.6 1381.4,419.2 1382.9,429.7 1384.3,440.8 1384.4,441.0 M1315.9,170.2 1317.5,171.1 1319.2,172.1 1320.8,173.0 1322.5,174.0 1324.1,174.9 1325.8,175.8 1327.4,176.8 1329.1,177.7 1330.7,178.6 1332.4,179.6 1334.0,181.5 1335.7,183.5 1337.3,185.5 1339.0,187.6 1340.6,189.6 1342.3,191.6 1343.9,193.6 1345.6,195.6 1347.2,197.6 1348.9,199.6 1350.5,202.6 1352.2,205.8 1353.8,208.9 1355.5,212.0 1357.1,215.2 1358.8,218.3 1360.4,221.5 1362.1,224.6 1363.7,227.8 1365.4,230.9 1367.0,234.0 1368.7,237.1 1370.3,240.1 1372.0,243.2 1373.6,246.3 1375.3,249.4 1376.9,252.4 1378.6,255.5 1380.2,258.6 1381.9,261.7 1383.5,264.9 1385.2,268.2 1386.8,271.5 1388.5,284.9 1390.1,295.5 1391.8,306.1 1393.4,316.8 1395.1,327.4 1396.7,338.0 1398.4,348.6 1400.0,359.2 1401.7,369.8 1403.3,380.4 1405.0,391.1 1406.6,401.7 1408.3,412.3 1409.9,422.9 1411.6,434.3 1413.2,446.9 1413.2,447.0 M1332.8,175.4 1334.7,176.5 1336.5,177.6 1338.3,178.7 1340.2,179.8 1342.0,180.9 1343.9,182.0 1345.7,183.1 1347.5,184.2 1349.4,185.3 1351.2,187.2 1353.1,189.1 1354.9,191.0 1356.7,192.9 1358.6,194.9 1360.4,196.8 1362.3,198.7 1364.1,200.6 1365.9,202.6 1367.8,205.9 1369.6,209.2 1371.5,212.6 1373.3,216.0 1375.1,219.3 1377.0,222.7 1378.8,226.1 1380.6,229.4 1382.5,232.8 1384.3,236.4 1386.2,240.0 1388.0,243.6 1389.8,247.2 1391.7,250.8 1393.5,254.3 1395.4,257.9 1397.2,261.5 1399.0,265.1 1400.9,268.6 1402.7,272.0 1404.6,275.5 1406.4,279.0 1408.2,282.4 1410.1,285.9 1411.9,289.3 1413.8,292.8 1415.6,296.2 1417.4,299.9 1419.3,303.5 1421.1,317.8 1422.9,329.8 1424.8,341.7 1426.6,353.7 1428.5,365.6 1430.3,377.6 1432.1,389.5 1434.0,401.5 1435.8,413.4 1437.7,425.4 1439.5,437.9 1441.3,452.3 1441.4,452.4 M1349.8,179.6 1351.8,180.9 1353.7,182.2 1355.7,183.4 1357.7,184.7 1359.6,186.0 1361.6,187.3 1363.6,188.6 1365.5,189.9 1367.5,191.3 1369.5,193.0 1371.4,194.6 1373.4,196.3 1375.4,197.9 1377.4,199.6 1379.3,201.2 1381.3,202.9 1383.3,204.8 1385.2,208.4 1387.2,212.0 1389.2,215.6 1391.1,219.2 1393.1,222.8 1395.1,226.4 1397.0,230.0 1399.0,233.6 1401.0,237.5 1402.9,241.6 1404.9,245.6 1406.9,249.7 1408.8,253.7 1410.8,257.7 1412.8,261.8 1414.7,265.8 1416.7,269.8 1418.7,273.4 1420.7,277.0 1422.6,280.6 1424.6,284.3 1426.6,287.9 1428.5,291.5 1430.5,295.2 1432.5,298.8 1434.4,302.4 1436.4,306.0 1438.4,309.6 1440.3,313.3 1442.3,316.9 1444.3,320.5 1446.2,324.1 1448.2,327.8 1450.2,331.9 1452.1,341.7 1454.1,357.4 1456.1,373.1 1458.0,388.8 1460.0,404.5 1462.0,420.2 1464.0,435.9 1465.9,454.8 1465.9,454.9 M1366.8,182.8 1368.9,184.1 1371.0,185.4 1373.1,186.7 1375.1,187.9 1377.2,189.2 1379.3,190.5 1381.4,191.8 1383.5,193.1 1385.6,194.7 1387.7,196.2 1389.8,197.7 1391.9,199.3 1394.0,200.8 1396.1,202.4 1398.2,203.9 1400.3,205.9 1402.4,209.8 1404.5,213.7 1406.6,217.7 1408.7,221.6 1410.8,225.5 1412.9,229.5 1415.0,233.4 1417.1,237.5 1419.2,241.9 1421.3,246.4 1423.4,250.9 1425.5,255.4 1427.6,259.9 1429.7,264.3 1431.8,268.8 1433.9,273.1 1436.0,277.0 1438.1,280.9 1440.2,284.8 1442.3,288.7 1444.4,292.6 1446.5,296.6 1448.6,300.5 1450.7,304.4 1452.8,308.3 1454.8,312.2 1456.9,316.1 1459.0,320.0 1461.1,324.0 1463.2,327.9 1465.3,331.8 1467.4,336.0 1469.5,340.5 1471.6,344.9 1473.7,349.3 1475.8,354.0 1477.9,358.8 1480.0,363.6 1482.1,368.4 1484.2,379.3 1486.3,404.1 1488.4,429.0 1490.5,457.2 1490.5,457.5 M1383.7,185.3 1385.9,186.7 1388.0,188.0 1390.2,189.3 1392.4,190.7 1394.5,192.0 1396.7,193.3 1398.8,194.6 1401.0,196.0 1403.2,197.2 1405.3,198.5 1407.5,199.8 1409.6,201.0 1411.8,202.3 1413.9,203.6 1416.1,204.9 1418.3,208.0 1420.4,212.2 1422.6,216.4 1424.7,220.6 1426.9,224.8 1429.1,229.0 1431.2,233.2 1433.4,237.4 1435.5,242.1 1437.7,246.8 1439.8,251.4 1442.0,256.1 1444.2,260.8 1446.3,265.5 1448.5,270.1 1450.6,274.7 1452.8,278.8 1455.0,282.8 1457.1,286.9 1459.3,291.0 1461.4,295.1 1463.6,299.2 1465.8,303.3 1467.9,307.5 1470.1,311.7 1472.2,315.9 1474.4,320.2 1476.5,324.4 1478.7,328.6 1480.9,332.8 1483.0,337.1 1485.2,341.9 1487.3,346.9 1489.5,351.8 1491.7,356.7 1493.8,361.6 1496.0,368.5 1498.1,377.5 1500.3,386.8 1502.4,396.7 1504.6,406.7 1506.8,416.6 1508.9,426.5 1511.1,436.4 1511.1,456.8 M1400.7,187.1 1402.9,188.4 1405.1,189.7 1407.3,191.0 1409.5,192.3 1411.7,193.6 1413.9,194.9 1416.1,196.2 1418.3,197.4 1420.5,198.5 1422.7,199.6 1424.9,200.8 1427.1,201.9 1429.3,203.0 1431.6,204.2 1433.8,205.3 1436.0,209.6 1438.2,214.0 1440.4,218.5 1442.6,222.9 1444.8,227.3 1447.0,231.8 1449.2,236.2 1451.4,240.7 1453.6,245.3 1455.8,249.9 1458.0,254.5 1460.2,259.0 1462.4,263.6 1464.6,268.2 1466.8,272.8 1469.0,277.2 1471.2,281.6 1473.4,285.9 1475.6,290.3 1477.8,294.7 1480.1,299.0 1482.3,303.4 1484.5,307.8 1486.7,312.3 1488.9,316.7 1491.1,321.2 1493.3,325.7 1495.5,330.1 1497.7,334.6 1499.9,339.1 1502.1,344.2 1504.3,349.4 1506.5,354.7 1508.7,359.9 1510.9,365.1 1513.1,370.4 1515.3,377.2 1517.5,387.8 1519.7,398.5 1521.9,409.1 1524.1,419.8 1526.3,430.4 1528.6,442.2 1530.8,455.2 1530.8,455.3 M1417.7,188.8 1419.8,190.0 1422.0,191.2 1424.2,192.4 1426.4,193.7 1428.6,194.9 1430.8,196.1 1433.0,197.3 1435.2,198.4 1437.4,199.4 1439.6,200.4 1441.8,201.4 1444.0,202.3 1446.2,203.3 1448.3,204.3 1450.5,205.3 1452.7,209.3 1454.9,213.9 1457.1,218.4 1459.3,222.9 1461.5,227.4 1463.7,231.9 1465.9,236.4 1468.1,240.8 1470.3,244.9 1472.5,249.0 1474.7,253.0 1476.9,257.1 1479.0,261.2 1481.2,265.3 1483.4,269.4 1485.6,273.9 1487.8,278.5 1490.0,283.1 1492.2,287.8 1494.4,292.4 1496.6,297.1 1498.8,301.7 1501.0,306.4 1503.2,310.9 1505.4,315.5 1507.5,320.0 1509.7,324.6 1511.9,329.1 1514.1,333.7 1516.3,338.2 1518.5,343.3 1520.7,348.7 1522.9,354.0 1525.1,359.4 1527.3,364.8 1529.5,370.2 1531.7,377.1 1533.9,387.2 1536.1,397.2 1538.2,407.3 1540.4,417.3 1542.6,427.4 1544.8,438.7 1547.0,451.0 1547.0,451.1 M1434.6,189.7 1436.8,190.9 1438.9,192.1 1441.1,193.4 1443.3,194.6 1445.4,195.9 1447.6,197.1 1449.8,198.4 1451.9,199.5 1454.1,200.6 1456.3,201.6 1458.4,202.6 1460.6,203.6 1462.8,204.6 1464.9,205.6 1467.1,206.7 1469.3,209.8 1471.4,214.0 1473.6,218.2 1475.8,222.3 1477.9,226.5 1480.1,230.7 1482.2,234.8 1484.4,239.0 1486.6,242.7 1488.7,246.5 1490.9,250.2 1493.1,253.9 1495.2,257.7 1497.4,261.4 1499.6,265.2 1501.7,269.3 1503.9,274.0 1506.1,278.7 1508.2,283.5 1510.4,288.2 1512.6,293.0 1514.7,297.7 1516.9,302.5 1519.1,307.0 1521.2,311.5 1523.4,316.0 1525.5,320.4 1527.7,324.9 1529.9,329.4 1532.0,333.8 1534.2,338.4 1536.4,343.9 1538.5,349.4 1540.7,354.9 1542.9,360.4 1545.0,365.9 1547.2,373.3 1549.4,383.2 1551.5,393.1 1553.7,403.0 1555.9,412.9 1558.0,422.8 1560.2,434.0 1562.4,446.0 1562.4,446.1 M1451.6,190.8 1453.7,191.9 1455.8,193.0 1457.9,194.2 1460.0,195.3 1462.1,196.4 1464.2,197.5 1466.3,198.6 1468.4,199.8 1470.5,200.9 1472.6,202.0 1474.7,203.2 1476.8,204.3 1478.9,205.4 1480.9,206.5 1483.0,207.7 1485.1,209.3 1487.2,213.0 1489.3,216.8 1491.4,220.6 1493.5,224.3 1495.6,228.1 1497.7,231.8 1499.8,235.6 1501.9,239.2 1504.0,242.6 1506.1,245.9 1508.2,249.2 1510.3,252.6 1512.4,255.9 1514.5,259.2 1516.6,262.6 1518.7,266.4 1520.8,271.0 1522.9,275.6 1525.0,280.2 1527.1,284.9 1529.2,289.5 1531.3,294.1 1533.4,298.7 1535.5,303.2 1537.6,307.5 1539.7,311.8 1541.8,316.1 1543.9,320.5 1546.0,324.8 1548.1,329.1 1550.2,333.5 1552.3,338.5 1554.4,344.0 1556.5,349.6 1558.6,355.2 1560.7,363.9 1562.8,374.1 1564.9,384.4 1567.0,394.7 1569.1,405.0 1571.2,415.2 1573.3,426.7 1575.3,439.2 1575.4,439.3 M1468.5,193.8 1470.5,194.6 1472.5,195.4 1474.5,196.1 1476.5,196.9 1478.5,197.6 1480.5,198.4 1482.5,199.2 1484.6,199.9 1486.6,201.0 1488.6,202.2 1490.6,203.4 1492.6,204.6 1494.6,205.8 1496.6,207.0 1498.6,208.3 1500.6,209.5 1502.6,211.6 1504.6,214.9 1506.6,218.2 1508.6,221.5 1510.6,224.8 1512.6,228.1 1514.6,231.5 1516.6,234.8 1518.6,238.0 1520.6,241.1 1522.6,244.1 1524.6,247.1 1526.6,250.2 1528.6,253.2 1530.6,256.2 1532.6,259.2 1534.6,262.3 1536.6,266.3 1538.6,270.6 1540.6,274.8 1542.6,279.0 1544.6,283.3 1546.6,287.5 1548.6,291.7 1550.6,296.0 1552.6,300.3 1554.6,304.8 1556.6,309.3 1558.6,313.8 1560.6,318.3 1562.6,322.8 1564.6,327.3 1566.6,331.8 1568.6,336.5 1570.6,341.9 1572.6,352.7 1574.6,363.4 1576.6,374.1 1578.6,384.8 1580.6,395.5 1582.6,406.2 1584.6,417.9 1586.6,430.9 1586.6,431.0 M1485.5,196.5 1487.4,197.0 1489.4,197.5 1491.3,197.9 1493.2,198.4 1495.1,198.9 1497.0,199.4 1499.0,199.8 1500.9,200.3 1502.8,201.1 1504.7,202.4 1506.6,203.7 1508.6,205.0 1510.5,206.2 1512.4,207.5 1514.3,208.8 1516.3,210.1 1518.2,211.4 1520.1,213.9 1522.0,216.9 1523.9,219.8 1525.9,222.7 1527.8,225.6 1529.7,228.6 1531.6,231.5 1533.6,234.4 1535.5,237.3 1537.4,240.3 1539.3,243.3 1541.2,246.3 1543.2,249.3 1545.1,252.3 1547.0,255.3 1548.9,258.3 1550.8,261.3 1552.8,264.7 1554.7,268.4 1556.6,272.2 1558.5,275.9 1560.5,279.7 1562.4,283.4 1564.3,287.2 1566.2,290.9 1568.1,294.7 1570.1,299.2 1572.0,303.9 1573.9,308.6 1575.8,313.3 1577.7,318.0 1579.7,322.7 1581.6,327.4 1583.5,334.4 1585.4,345.1 1587.4,355.9 1589.3,366.6 1591.2,377.3 1593.1,388.1 1595.0,398.8 1597.0,410.5 1598.9,423.4 1598.9,423.6 M1502.5,195.8 1504.3,196.4 1506.2,196.9 1508.1,197.5 1509.9,198.1 1511.8,198.7 1513.6,199.3 1515.5,199.9 1517.3,200.5 1519.2,201.1 1521.1,202.5 1522.9,203.9 1524.8,205.3 1526.6,206.7 1528.5,208.0 1530.4,209.4 1532.2,210.8 1534.1,212.2 1535.9,213.8 1537.8,216.5 1539.7,219.3 1541.5,222.0 1543.4,224.8 1545.2,227.5 1547.1,230.2 1549.0,233.0 1550.8,235.7 1552.7,238.5 1554.5,241.6 1556.4,244.6 1558.3,247.6 1560.1,250.7 1562.0,253.7 1563.8,256.7 1565.7,259.8 1567.6,262.8 1569.4,265.9 1571.3,269.1 1573.1,272.3 1575.0,275.5 1576.8,278.7 1578.7,281.9 1580.6,285.1 1582.4,288.4 1584.3,291.6 1586.1,295.3 1588.0,299.8 1589.9,304.2 1591.7,308.7 1593.6,313.2 1595.4,317.6 1597.3,326.3 1599.2,337.3 1601.0,348.2 1602.9,359.1 1604.7,370.1 1606.6,381.0 1608.5,391.9 1610.3,403.7 1612.2,416.8 1612.2,416.9 M1519.4,195.0 1521.3,195.7 1523.1,196.4 1524.9,197.1 1526.7,197.7 1528.5,198.4 1530.3,199.1 1532.2,199.8 1534.0,200.5 1535.8,201.2 1537.6,202.5 1539.4,204.0 1541.3,205.4 1543.1,206.8 1544.9,208.3 1546.7,209.7 1548.5,211.1 1550.3,212.6 1552.2,214.0 1554.0,216.4 1555.8,219.2 1557.6,221.9 1559.4,224.7 1561.3,227.4 1563.1,230.1 1564.9,232.9 1566.7,235.6 1568.5,238.3 1570.4,241.3 1572.2,244.3 1574.0,247.4 1575.8,250.4 1577.6,253.4 1579.4,256.5 1581.3,259.5 1583.1,262.5 1584.9,265.6 1586.7,268.4 1588.5,271.2 1590.4,273.9 1592.2,276.6 1594.0,279.3 1595.8,282.0 1597.6,284.7 1599.4,287.4 1601.3,290.1 1603.1,293.4 1604.9,297.7 1606.7,301.9 1608.5,306.1 1610.4,310.3 1612.2,320.3 1614.0,331.3 1615.8,342.3 1617.6,353.3 1619.4,364.3 1621.3,375.3 1623.1,386.2 1624.9,398.1 1626.7,411.2 1626.7,411.3 M1536.4,194.2 1538.2,195.0 1540.1,195.8 1541.9,196.6 1543.7,197.4 1545.5,198.2 1547.4,199.0 1549.2,199.8 1551.0,200.6 1552.8,201.4 1554.7,202.9 1556.5,204.4 1558.3,205.9 1560.1,207.4 1562.0,208.9 1563.8,210.4 1565.6,211.9 1567.4,213.4 1569.3,214.9 1571.1,217.4 1572.9,220.2 1574.7,222.9 1576.6,225.6 1578.4,228.3 1580.2,231.1 1582.0,233.8 1583.9,236.5 1585.7,239.2 1587.5,242.2 1589.4,245.2 1591.2,248.2 1593.0,251.2 1594.8,254.2 1596.7,257.2 1598.5,260.2 1600.3,263.2 1602.1,266.3 1604.0,269.0 1605.8,271.5 1607.6,274.1 1609.4,276.7 1611.3,279.2 1613.1,281.8 1614.9,284.3 1616.7,286.9 1618.6,289.5 1620.4,292.7 1622.2,296.5 1624.0,300.3 1625.9,304.0 1627.7,307.8 1629.5,317.4 1631.3,328.3 1633.2,339.3 1635.0,350.2 1636.8,361.1 1638.6,372.1 1640.5,383.0 1642.3,394.8 1644.1,407.9 1644.1,408.1 M1553.4,193.5 1555.2,194.4 1557.0,195.3 1558.9,196.2 1560.7,197.1 1562.5,198.0 1564.4,198.9 1566.2,199.8 1568.0,200.7 1569.9,201.6 1571.7,203.0 1573.5,204.5 1575.4,206.0 1577.2,207.4 1579.0,208.9 1580.9,210.3 1582.7,211.8 1584.5,213.2 1586.4,214.7 1588.2,217.2 1590.0,219.9 1591.9,222.6 1593.7,225.3 1595.5,228.0 1597.4,230.6 1599.2,233.3 1601.0,236.0 1602.9,238.7 1604.7,241.7 1606.5,244.8 1608.4,247.9 1610.2,251.0 1612.0,254.1 1613.9,257.2 1615.7,260.4 1617.5,263.5 1619.4,266.6 1621.2,269.3 1623.0,272.0 1624.9,274.7 1626.7,277.4 1628.5,280.1 1630.4,282.8 1632.2,285.5 1634.0,288.2 1635.9,290.9 1637.7,293.9 1639.5,297.0 1641.4,300.1 1643.2,303.2 1645.0,306.3 1646.9,315.4 1648.7,326.2 1650.5,336.9 1652.4,347.7 1654.2,358.5 1656.0,369.3 1657.9,380.1 1659.7,391.8 1661.5,404.6 1661.6,404.8 M1570.3,193.5 1572.2,194.3 1574.0,195.1 1575.8,195.9 1577.7,196.7 1579.5,197.6 1581.4,198.4 1583.2,199.2 1585.0,200.0 1586.9,200.8 1588.7,202.2 1590.5,203.6 1592.4,204.9 1594.2,206.3 1596.1,207.7 1597.9,209.1 1599.7,210.5 1601.6,211.9 1603.4,213.3 1605.2,215.9 1607.1,218.7 1608.9,221.4 1610.8,224.1 1612.6,226.9 1614.4,229.6 1616.3,232.3 1618.1,235.1 1619.9,237.8 1621.8,240.8 1623.6,243.9 1625.5,246.9 1627.3,249.9 1629.1,253.0 1631.0,256.0 1632.8,259.0 1634.6,262.1 1636.5,265.1 1638.3,268.1 1640.2,271.1 1642.0,274.1 1643.8,277.1 1645.7,280.1 1647.5,283.0 1649.3,286.0 1651.2,289.0 1653.0,292.0 1654.9,294.7 1656.7,297.3 1658.5,299.9 1660.4,302.5 1662.2,305.1 1664.0,313.7 1665.9,324.3 1667.7,334.8 1669.6,345.4 1671.4,356.0 1673.2,366.5 1675.1,377.1 1676.9,388.6 1678.7,401.2 1678.8,401.3 M1587.3,193.5 1589.1,194.2 1591.0,194.9 1592.8,195.6 1594.7,196.4 1596.5,197.1 1598.3,197.8 1600.2,198.5 1602.0,199.3 1603.9,200.0 1605.7,201.3 1607.5,202.6 1609.4,203.9 1611.2,205.2 1613.1,206.5 1614.9,207.8 1616.7,209.1 1618.6,210.4 1620.4,211.7 1622.3,214.5 1624.1,217.2 1625.9,219.9 1627.8,222.7 1629.6,225.4 1631.5,228.1 1633.3,230.9 1635.1,233.6 1637.0,236.3 1638.8,239.4 1640.7,242.4 1642.5,245.4 1644.3,248.4 1646.2,251.5 1648.0,254.5 1649.9,257.5 1651.7,260.5 1653.5,263.6 1655.4,266.6 1657.2,269.7 1659.1,272.8 1660.9,275.9 1662.7,279.0 1664.6,282.1 1666.4,285.2 1668.3,288.2 1670.1,291.3 1671.9,293.9 1673.8,296.4 1675.6,298.9 1677.5,301.5 1679.3,304.0 1681.1,312.3 1683.0,322.6 1684.8,332.9 1686.7,343.2 1688.5,353.5 1690.3,363.8 1692.2,374.1 1694.0,385.4 1695.9,397.7 1695.9,397.8 M1604.3,193.4 1606.1,194.1 1607.9,194.7 1609.8,195.3 1611.6,196.0 1613.5,196.6 1615.3,197.3 1617.2,197.9 1619.0,198.5 1620.8,199.2 1622.7,200.4 1624.5,201.6 1626.4,202.8 1628.2,204.0 1630.1,205.2 1631.9,206.4 1633.7,207.6 1635.6,208.8 1637.4,210.0 1639.3,212.7 1641.1,215.5 1643.0,218.3 1644.8,221.0 1646.7,223.8 1648.5,226.6 1650.3,229.3 1652.2,232.1 1654.0,234.9 1655.9,237.9 1657.7,240.9 1659.6,243.9 1661.4,246.9 1663.2,249.9 1665.1,253.0 1666.9,256.0 1668.8,259.0 1670.6,262.0 1672.5,265.2 1674.3,268.4 1676.1,271.5 1678.0,274.7 1679.8,277.9 1681.7,281.0 1683.5,284.2 1685.4,287.4 1687.2,290.5 1689.0,293.1 1690.9,295.6 1692.7,298.2 1694.6,300.7 1696.4,303.3 1698.3,311.3 1700.1,321.2 1701.9,331.2 1703.8,341.2 1705.6,351.2 1707.5,361.2 1709.3,371.2 1711.2,382.3 1713.0,394.2 1713.0,394.3 M1621.2,193.2 1623.1,193.8 1624.9,194.4 1626.8,195.0 1628.6,195.5 1630.5,196.1 1632.4,196.7 1634.2,197.2 1636.1,197.8 1637.9,198.4 1639.8,199.5 1641.6,200.6 1643.5,201.7 1645.4,202.8 1647.2,203.9 1649.1,205.0 1650.9,206.1 1652.8,207.2 1654.6,208.6 1656.5,211.5 1658.4,214.3 1660.2,217.2 1662.1,220.1 1663.9,223.0 1665.8,225.9 1667.6,228.8 1669.5,231.7 1671.3,234.6 1673.2,237.6 1675.1,240.5 1676.9,243.4 1678.8,246.4 1680.6,249.3 1682.5,252.2 1684.3,255.2 1686.2,258.1 1688.1,261.2 1689.9,264.5 1691.8,267.9 1693.6,271.2 1695.5,274.6 1697.3,277.9 1699.2,281.2 1701.1,284.6 1702.9,287.9 1704.8,291.0 1706.6,293.6 1708.5,296.1 1710.3,298.7 1712.2,301.3 1714.0,303.8 1715.9,311.1 1717.8,320.7 1719.6,330.4 1721.5,340.0 1723.3,349.6 1725.2,359.3 1727.0,368.9 1728.9,379.7 1730.8,391.2 1730.8,391.3 M1638.2,193.0 1640.1,193.5 1642.0,194.0 1643.9,194.5 1645.7,195.0 1647.6,195.6 1649.5,196.1 1651.4,196.6 1653.3,197.1 1655.2,197.7 1657.1,198.9 1659.0,200.0 1660.9,201.1 1662.7,202.2 1664.6,203.4 1666.5,204.5 1668.4,205.6 1670.3,206.7 1672.2,208.7 1674.1,211.6 1676.0,214.6 1677.9,217.5 1679.7,220.5 1681.6,223.4 1683.5,226.4 1685.4,229.3 1687.3,232.3 1689.2,235.2 1691.1,238.2 1693.0,241.1 1694.9,244.0 1696.7,247.0 1698.6,249.9 1700.5,252.9 1702.4,255.8 1704.3,258.7 1706.2,262.2 1708.1,265.8 1710.0,269.3 1711.9,272.9 1713.7,276.4 1715.6,280.0 1717.5,283.5 1719.4,287.1 1721.3,290.5 1723.2,293.1 1725.1,295.7 1727.0,298.3 1728.9,300.9 1730.7,303.5 1732.6,306.1 1734.5,312.2 1736.4,321.4 1738.3,330.6 1740.2,339.9 1742.1,349.1 1744.0,358.3 1745.9,367.6 1747.7,378.1 1749.6,389.1 1749.7,389.2 M1655.2,192.7 1657.1,193.2 1659.0,193.6 1660.9,194.1 1662.8,194.5 1664.8,195.0 1666.7,195.5 1668.6,195.9 1670.5,196.4 1672.4,197.1 1674.4,198.2 1676.3,199.4 1678.2,200.6 1680.1,201.7 1682.1,202.9 1684.0,204.0 1685.9,205.2 1687.8,206.3 1689.7,208.9 1691.7,211.9 1693.6,215.0 1695.5,218.1 1697.4,221.1 1699.3,224.2 1701.3,227.2 1703.2,230.3 1705.1,233.3 1707.0,236.2 1709.0,239.1 1710.9,242.1 1712.8,245.0 1714.7,247.9 1716.6,250.8 1718.6,253.7 1720.5,256.6 1722.4,259.8 1724.3,263.5 1726.2,267.1 1728.2,270.8 1730.1,274.4 1732.0,278.1 1733.9,281.7 1735.8,285.3 1737.8,289.0 1739.7,291.9 1741.6,294.7 1743.5,297.4 1745.5,300.2 1747.4,303.0 1749.3,305.7 1751.2,308.5 1753.1,313.5 1755.1,322.3 1757.0,331.1 1758.9,339.9 1760.8,348.7 1762.7,357.5 1764.7,366.3 1766.6,376.5 1768.5,387.0 1768.5,387.1 M1672.1,192.5 1674.1,192.9 1676.0,193.3 1678.0,193.7 1679.9,194.1 1681.9,194.5 1683.8,194.9 1685.8,195.3 1687.7,195.7 1689.7,196.6 1691.7,198.1 1693.6,199.5 1695.6,200.9 1697.5,202.3 1699.5,203.8 1701.4,205.2 1703.4,206.6 1705.3,208.1 1707.3,211.4 1709.2,214.8 1711.2,218.1 1713.1,221.5 1715.1,224.8 1717.1,228.2 1719.0,231.5 1721.0,234.9 1722.9,238.1 1724.9,241.3 1726.8,244.5 1728.8,247.6 1730.7,250.8 1732.7,254.0 1734.6,257.1 1736.6,260.3 1738.5,263.5 1740.5,267.2 1742.5,270.9 1744.4,274.5 1746.4,278.2 1748.3,281.9 1750.3,285.6 1752.2,289.3 1754.2,293.0 1756.1,296.8 1758.1,300.7 1760.0,304.7 1762.0,308.6 1763.9,312.5 1765.9,316.5 1767.9,320.4 1769.8,324.4 1771.8,328.9 1773.7,335.5 1775.7,342.1 1777.6,348.7 1779.6,355.3 1781.5,362.0 1783.5,369.3 1785.4,377.1 1787.4,385.0 1787.4,385.0 M1689.1,192.5 1691.1,192.8 1693.1,193.2 1695.0,193.5 1697.0,193.8 1699.0,194.2 1701.0,194.5 1703.0,194.8 1705.0,195.2 1707.0,196.9 1708.9,199.5 1710.9,202.0 1712.9,204.5 1714.9,207.1 1716.9,209.6 1718.9,212.1 1720.9,214.7 1722.8,217.4 1724.8,220.5 1726.8,223.6 1728.8,226.7 1730.8,229.8 1732.8,232.9 1734.8,236.0 1736.8,239.2 1738.7,242.3 1740.7,245.7 1742.7,249.2 1744.7,252.7 1746.7,256.1 1748.7,259.6 1750.7,263.1 1752.6,266.5 1754.6,270.0 1756.6,274.1 1758.6,278.5 1760.6,282.9 1762.6,287.3 1764.6,291.7 1766.5,296.1 1768.5,300.5 1770.5,304.9 1772.5,309.2 1774.5,313.4 1776.5,317.5 1778.5,321.6 1780.4,325.7 1782.4,329.8 1784.4,333.9 1786.4,338.1 1788.4,342.2 1790.4,345.2 1792.4,349.5 1794.4,353.8 1796.3,358.1 1798.3,363.0 1800.3,367.9 1802.3,372.9 1804.3,377.9 1806.3,382.9 1806.3,382.9 M1214.1,132.7 1217.1,133.0 1220.1,132.5 1223.0,131.9 1226.0,131.3 1229.0,130.6 1232.0,130.2 1235.0,130.2 1238.0,131.2 1241.0,133.1 1244.0,134.9 1246.9,136.8 1249.9,138.6 1252.9,140.5 1255.9,142.3 1258.9,144.2 1261.9,146.0 1264.9,147.9 1267.9,149.4 1270.8,150.9 1273.8,152.4 1276.8,153.9 1279.8,155.4 1282.8,156.8 1285.8,158.3 1288.8,159.8 1291.8,161.3 1294.7,162.8 1297.7,164.0 1300.7,165.0 1303.7,166.0 1306.7,167.0 1309.7,168.1 1312.7,169.1 1315.7,170.1 1318.6,171.2 1321.6,172.2 1324.6,173.2 1327.6,174.1 1330.6,174.9 1333.6,175.6 1336.6,176.3 1339.6,177.1 1342.5,177.8 1345.5,178.5 1348.5,179.3 1351.5,180.0 1354.5,180.8 1357.5,181.4 1360.5,181.9 1363.5,182.3 1366.4,182.8 1369.4,183.2 1372.4,183.6 1375.4,184.1 1378.4,184.5 1381.4,185.0 1384.4,185.4 1387.4,185.9 1390.3,186.1 1393.3,186.4 1396.3,186.7 1399.3,187.0 1402.3,187.3 1405.3,187.6 1408.3,187.9 1411.3,188.2 1414.2,188.4 1417.2,188.7 1420.2,188.9 1423.2,189.0 1426.2,189.2 1429.2,189.4 1432.2,189.5 1435.2,189.7 1438.1,189.8 1441.1,190.0 1444.1,190.2 1447.1,190.3 1450.1,190.5 1453.1,191.1 1456.1,191.6 1459.0,192.1 1462.0,192.7 1465.0,193.2 1468.0,193.7 1471.0,194.3 1474.0,194.8 1477.0,195.4 1480.0,195.9 1482.9,196.4 1485.9,196.5 1488.9,196.4 1491.9,196.2 1494.9,196.1 1497.9,196.0 1500.9,195.8 1503.9,195.7 1506.8,195.6 1509.8,195.4 1512.8,195.3 1515.8,195.2 1518.8,195.0 1521.8,194.9 1524.8,194.8 1527.8,194.6 1530.7,194.5 1533.7,194.4 1536.7,194.2 1539.7,194.1 1542.7,194.0 1545.7,193.8 1548.7,193.7 1551.7,193.6 1554.6,193.5 1557.6,193.5 1560.6,193.5 1563.6,193.5 1566.6,193.5 1569.6,193.5 1572.6,193.5 1575.6,193.5 1578.5,193.5 1581.5,193.5 1584.5,193.5 1587.5,193.5 1590.5,193.5 1593.5,193.5 1596.5,193.5 1599.5,193.4 1602.4,193.4 1605.4,193.4 1608.4,193.4 1611.4,193.4 1614.4,193.4 1617.4,193.3 1620.4,193.3 1623.4,193.2 1626.3,193.2 1629.3,193.1 1632.3,193.1 1635.3,193.0 1638.3,193.0 1641.3,192.9 1644.3,192.9 1647.3,192.8 1650.2,192.8 1653.2,192.7 1656.2,192.7 1659.2,192.6 1662.2,192.6 1665.2,192.6 1668.2,192.5 1671.2,192.5 1674.1,192.5 1677.1,192.5 1680.1,192.5 1683.1,192.5 1686.1,192.5 1689.1,192.5 M1230.7,173.2 1233.6,174.2 1236.6,173.5 1239.6,172.6 1242.6,171.4 1245.6,170.0 1248.6,168.5 1251.6,166.6 1254.6,166.6 1257.5,166.3 1260.5,165.7 1263.5,165.0 1266.5,164.0 1269.5,163.2 1272.5,164.1 1275.5,164.0 1278.5,163.9 1281.4,163.8 1284.4,163.7 1287.4,163.6 1290.4,163.6 1293.4,164.0 1296.4,164.8 1299.4,165.5 1302.4,166.3 1305.3,167.2 1308.3,168.5 1311.3,169.9 1314.3,171.3 1317.3,172.7 1320.3,174.0 1323.3,175.4 1326.3,176.8 1329.2,178.2 1332.2,179.5 1335.2,180.9 1338.2,181.8 1341.2,182.7 1344.2,183.7 1347.2,184.6 1350.2,185.5 1353.1,186.4 1356.1,187.4 1359.1,188.3 1362.1,189.2 1365.1,190.1 1368.1,190.7 1371.1,191.1 1374.1,191.6 1377.0,192.0 1380.0,192.5 1383.0,192.9 1386.0,193.4 1389.0,193.8 1392.0,194.3 1395.0,194.7 1398.0,195.2 1400.9,195.6 1403.9,195.9 1406.9,196.1 1409.9,196.3 1412.9,196.5 1415.9,196.7 1418.9,197.0 1421.9,197.2 1424.8,197.4 1427.8,197.6 1430.8,197.8 1433.8,198.0 1436.8,198.2 1439.8,198.4 1442.8,198.6 1445.8,198.8 1448.7,199.0 1451.7,199.2 1454.7,199.3 1457.7,199.4 1460.7,199.5 1463.7,199.5 1466.7,199.6 1469.7,199.7 1472.6,199.8 1475.6,199.9 1478.6,200.0 1481.6,200.0 1484.6,200.1 1487.6,200.2 1490.6,200.3 1493.6,200.4 1496.5,200.4 1499.5,200.5 1502.5,200.6 1505.5,200.7 1508.5,200.8 1511.5,200.9 1514.5,200.9 1517.5,201.0 1520.4,201.0 1523.4,201.1 1526.4,201.1 1529.4,201.2 1532.4,201.2 1535.4,201.2 1538.4,201.3 1541.4,201.3 1544.3,201.4 1547.3,201.4 1550.3,201.4 1553.3,201.5 1556.3,201.5 1559.3,201.6 1562.3,201.6 1565.3,201.7 1568.2,201.7 1571.2,201.6 1574.2,201.4 1577.2,201.3 1580.2,201.1 1583.2,201.0 1586.2,200.9 1589.2,200.7 1592.1,200.6 1595.1,200.4 1598.1,200.3 1601.1,200.1 1604.1,200.0 1607.1,199.8 1610.1,199.7 1613.1,199.5 1616.0,199.4 1619.0,199.2 1622.0,199.1 1625.0,199.0 1628.0,198.8 1631.0,198.7 1634.0,198.5 1637.0,198.4 1639.9,198.2 1642.9,198.1 1645.9,197.9 1648.9,197.8 1651.9,197.6 1654.9,197.5 1657.9,197.3 1660.9,197.2 1663.8,197.1 1666.8,196.9 1669.8,196.8 1672.8,196.6 1675.8,196.5 1678.8,196.3 1681.8,196.2 1684.8,196.1 1687.7,195.9 1690.7,195.8 1693.7,195.7 1696.7,195.6 1699.7,195.5 1702.7,195.4 1705.7,195.3 M1247.2,241.4 1250.2,241.9 1253.2,240.6 1256.2,239.2 1259.2,237.7 1262.2,236.0 1265.2,234.2 1268.2,232.2 1271.1,231.6 1274.1,230.8 1277.1,229.9 1280.1,228.7 1283.1,227.3 1286.1,225.7 1289.1,223.4 1292.1,220.7 1295.0,217.3 1298.0,213.1 1301.0,207.7 1304.0,200.3 1307.0,196.4 1310.0,196.3 1313.0,196.1 1316.0,196.0 1318.9,195.9 1321.9,195.8 1324.9,196.0 1327.9,196.4 1330.9,196.9 1333.9,197.4 1336.9,197.9 1339.9,198.3 1342.8,198.8 1345.8,199.3 1348.8,199.7 1351.8,200.2 1354.8,200.7 1357.8,201.2 1360.8,201.7 1363.8,202.2 1366.7,202.7 1369.7,203.2 1372.7,203.7 1375.7,203.9 1378.7,204.0 1381.7,204.2 1384.7,204.4 1387.7,204.5 1390.6,204.7 1393.6,204.8 1396.6,205.0 1399.6,205.1 1402.6,205.3 1405.6,205.3 1408.6,205.3 1411.6,205.3 1414.5,205.3 1417.5,205.3 1420.5,205.3 1423.5,205.3 1426.5,205.3 1429.5,205.3 1432.5,205.3 1435.5,205.4 1438.4,205.4 1441.4,205.4 1444.4,205.4 1447.4,205.4 1450.4,205.4 1453.4,205.6 1456.4,205.9 1459.4,206.2 1462.3,206.5 1465.3,206.8 1468.3,207.0 1471.3,207.3 1474.3,207.6 1477.3,207.9 1480.3,208.2 1483.3,208.4 1486.2,208.7 1489.2,209.0 1492.2,209.3 1495.2,209.6 1498.2,209.8 1501.2,210.1 1504.2,210.4 1507.1,210.7 1510.1,211.0 1513.1,211.2 1516.1,211.5 1519.1,211.8 1522.1,212.1 1525.1,212.3 1528.1,212.6 1531.0,212.9 1534.0,213.2 1537.0,213.5 1540.0,213.7 1543.0,213.9 1546.0,214.0 1549.0,214.2 1552.0,214.3 1554.9,214.5 1557.9,214.6 1560.9,214.7 1563.9,214.9 1566.9,215.0 1569.9,215.2 1572.9,215.3 1575.9,215.5 1578.8,215.5 1581.8,215.2 1584.8,215.0 1587.8,214.7 1590.8,214.4 1593.8,214.2 1596.8,213.9 1599.8,213.7 1602.7,213.4 1605.7,213.1 1608.7,212.9 1611.7,212.6 1614.7,212.4 1617.7,212.1 1620.7,211.7 1623.7,211.4 1626.6,211.1 1629.6,210.8 1632.6,210.5 1635.6,210.2 1638.6,209.8 1641.6,209.5 1644.6,209.2 1647.6,208.9 1650.5,208.6 1653.5,208.3 1656.5,208.0 1659.5,207.9 1662.5,207.7 1665.5,207.6 1668.5,207.5 1671.5,207.3 1674.4,207.2 1677.4,207.1 1680.4,207.0 1683.4,206.8 1686.4,206.7 1689.4,206.6 1692.4,206.4 1695.4,206.3 1698.3,206.2 1701.3,206.1 1704.3,207.5 1707.3,209.0 1710.3,210.5 1713.3,212.0 1716.3,213.5 1719.3,214.9 1722.2,216.4 M1266.8,390.4 1269.8,372.2 1272.8,360.7 1275.8,352.0 1278.8,345.0 1281.7,339.1 1284.7,333.8 1287.7,329.9 1290.7,326.4 1293.7,323.3 1296.7,320.4 1299.7,317.7 1302.7,315.1 1305.6,312.3 1308.6,309.6 1311.6,306.8 1314.6,304.0 1317.6,301.0 1320.6,297.8 1323.6,289.0 1326.6,279.7 1329.5,270.2 1332.5,260.4 1335.5,250.1 1338.5,239.4 1341.5,229.9 1344.5,230.1 1347.5,230.2 1350.5,230.4 1353.4,230.6 1356.4,230.8 1359.4,231.0 1362.4,231.1 1365.4,231.3 1368.4,231.6 1371.4,231.9 1374.4,232.2 1377.3,232.5 1380.3,232.8 1383.3,233.0 1386.3,233.3 1389.3,233.6 1392.3,233.9 1395.3,234.2 1398.3,234.5 1401.2,234.7 1404.2,235.0 1407.2,235.3 1410.2,235.6 1413.2,235.9 1416.2,236.2 1419.2,236.5 1422.2,236.7 1425.1,237.0 1428.1,237.3 1431.1,237.5 1434.1,237.7 1437.1,237.9 1440.1,238.0 1443.1,238.2 1446.1,238.4 1449.0,238.6 1452.0,238.8 1455.0,239.0 1458.0,239.2 1461.0,239.3 1464.0,239.5 1467.0,239.5 1470.0,239.4 1472.9,239.3 1475.9,239.2 1478.9,239.1 1481.9,239.0 1484.9,238.9 1487.9,238.8 1490.9,238.7 1493.9,238.5 1496.8,238.4 1499.8,238.3 1502.8,238.2 1505.8,238.1 1508.8,238.0 1511.8,237.9 1514.8,237.8 1517.8,237.7 1520.7,237.5 1523.7,237.4 1526.7,237.3 1529.7,237.2 1532.7,237.1 1535.7,237.0 1538.7,236.9 1541.7,236.8 1544.6,237.1 1547.6,237.4 1550.6,237.6 1553.6,237.9 1556.6,238.2 1559.6,238.5 1562.6,238.7 1565.6,239.0 1568.5,239.3 1571.5,239.5 1574.5,239.8 1577.5,240.1 1580.5,240.2 1583.5,240.0 1586.5,239.9 1589.5,239.7 1592.4,239.6 1595.4,239.4 1598.4,239.3 1601.4,239.1 1604.4,238.9 1607.4,238.8 1610.4,238.6 1613.4,238.5 1616.3,238.3 1619.3,238.1 1622.3,237.8 1625.3,237.5 1628.3,237.2 1631.3,237.0 1634.3,236.7 1637.3,236.4 1640.2,236.1 1643.2,235.8 1646.2,235.6 1649.2,235.3 1652.2,235.0 1655.2,234.7 1658.2,234.6 1661.2,234.5 1664.1,234.3 1667.1,234.2 1670.1,234.1 1673.1,233.9 1676.1,233.8 1679.1,233.7 1682.1,233.5 1685.1,233.4 1688.0,233.3 1691.0,233.1 1694.0,233.0 1697.0,233.0 1700.0,233.0 1703.0,233.0 1706.0,233.0 1709.0,233.0 1711.9,233.0 1714.9,234.0 1717.9,235.0 1720.9,236.1 1723.9,237.1 1726.9,238.2 1729.9,239.2 1732.9,240.3 1735.8,241.4 1738.8,242.4 M1322.2,432.0 1325.2,420.2 1328.2,412.3 1331.2,406.0 1334.2,400.6 1337.2,395.9 1340.2,388.3 1343.1,380.3 1346.1,372.2 1349.1,363.8 1352.1,355.0 1355.1,346.0 1358.1,336.7 1361.1,327.1 1364.1,316.3 1367.0,304.5 1370.0,292.8 1373.0,280.7 1376.0,268.8 1379.0,261.7 1382.0,262.2 1385.0,262.8 1388.0,263.3 1390.9,263.8 1393.9,264.4 1396.9,264.9 1399.9,265.5 1402.9,266.1 1405.9,266.7 1408.9,267.2 1411.9,267.8 1414.8,268.4 1417.8,269.0 1420.8,269.6 1423.8,270.2 1426.8,270.7 1429.8,271.2 1432.8,271.6 1435.8,271.9 1438.7,272.2 1441.7,272.6 1444.7,272.9 1447.7,273.3 1450.7,273.6 1453.7,273.9 1456.7,274.3 1459.7,274.4 1462.6,273.9 1465.6,273.4 1468.6,272.9 1471.6,272.4 1474.6,271.9 1477.6,271.4 1480.6,270.9 1483.6,270.4 1486.5,269.9 1489.5,269.4 1492.5,268.9 1495.5,268.4 1498.5,267.9 1501.5,267.4 1504.5,266.9 1507.5,266.4 1510.4,265.9 1513.4,265.4 1516.4,264.9 1519.4,264.4 1522.4,263.9 1525.4,263.4 1528.4,262.9 1531.3,262.7 1534.3,262.7 1537.3,262.8 1540.3,262.8 1543.3,262.8 1546.3,262.8 1549.3,262.8 1552.3,262.9 1555.2,262.9 1558.2,262.9 1561.2,263.2 1564.2,263.9 1567.2,264.5 1570.2,265.1 1573.2,265.8 1576.2,266.4 1579.1,266.9 1582.1,267.0 1585.1,267.0 1588.1,267.1 1591.1,267.1 1594.1,267.1 1597.1,267.2 1600.1,267.2 1603.0,267.2 1606.0,267.3 1609.0,267.3 1612.0,267.4 1615.0,267.4 1618.0,267.3 1621.0,267.0 1624.0,266.7 1626.9,266.4 1629.9,266.1 1632.9,265.8 1635.9,265.5 1638.9,265.2 1641.9,264.9 1644.9,264.6 1647.9,264.3 1650.8,264.0 1653.8,263.7 1656.8,263.4 1659.8,263.1 1662.8,262.8 1665.8,262.5 1668.8,262.2 1671.8,261.9 1674.7,261.6 1677.7,261.2 1680.7,260.9 1683.7,260.6 1686.7,260.3 1689.7,260.0 1692.7,259.7 1695.7,259.6 1698.6,259.4 1701.6,259.2 1704.6,259.1 1707.6,258.9 1710.6,258.7 1713.6,258.5 1716.6,258.4 1719.6,258.2 1722.5,258.0 1725.5,257.9 1728.5,258.6 1731.5,260.0 1734.5,261.4 1737.5,262.8 1740.5,264.3 1743.5,265.7 1746.4,267.1 1749.4,268.5 1752.4,270.0 1755.4,271.4 M1377.6,439.3 1380.6,427.2 1383.6,413.9 1386.6,401.3 1389.6,388.8 1392.6,376.4 1395.6,364.2 1398.6,352.0 1401.5,340.0 1404.5,328.2 1407.5,316.3 1410.5,304.4 1413.5,296.2 1416.5,296.6 1419.5,297.1 1422.5,297.5 1425.4,297.9 1428.4,298.4 1431.4,299.0 1434.4,299.6 1437.4,300.1 1440.4,300.7 1443.4,301.3 1446.4,301.9 1449.3,302.5 1452.3,303.1 1455.3,303.6 1458.3,304.2 1461.3,304.7 1464.3,304.9 1467.3,305.0 1470.3,305.2 1473.2,305.4 1476.2,305.6 1479.2,305.8 1482.2,305.9 1485.2,306.1 1488.2,306.3 1491.2,306.4 1494.2,306.1 1497.1,305.8 1500.1,305.6 1503.1,305.3 1506.1,305.0 1509.1,304.7 1512.1,304.4 1515.1,304.1 1518.1,303.8 1521.0,303.5 1524.0,303.1 1527.0,302.5 1530.0,302.0 1533.0,301.4 1536.0,300.8 1539.0,300.2 1542.0,299.7 1544.9,299.1 1547.9,298.5 1550.9,297.9 1553.9,297.3 1556.9,296.8 1559.9,296.2 1562.9,295.8 1565.9,295.5 1568.8,295.2 1571.8,294.8 1574.8,294.5 1577.8,294.2 1580.8,293.9 1583.8,293.6 1586.8,293.3 1589.8,293.0 1592.7,292.7 1595.7,292.4 1598.7,292.1 1601.7,291.8 1604.7,291.5 1607.7,291.2 1610.7,290.9 1613.7,290.6 1616.6,290.4 1619.6,290.5 1622.6,290.7 1625.6,290.9 1628.6,291.0 1631.6,291.2 1634.6,291.4 1637.6,291.5 1640.5,291.7 1643.5,291.8 1646.5,292.0 1649.5,292.2 1652.5,292.3 1655.5,292.4 1658.5,292.2 1661.5,292.0 1664.4,291.8 1667.4,291.7 1670.4,291.5 1673.4,291.3 1676.4,291.1 1679.4,290.9 1682.4,290.8 1685.4,290.6 1688.3,290.4 1691.3,290.2 1694.3,290.1 1697.3,290.1 1700.3,290.1 1703.3,290.1 1706.3,290.1 1709.3,290.2 1712.2,290.2 1715.2,290.2 1718.2,290.2 1721.2,290.2 1724.2,290.2 1727.2,290.3 1730.2,290.3 1733.2,290.2 1736.1,289.8 1739.1,289.4 1742.1,289.0 1745.1,288.6 1748.1,289.0 1751.1,291.4 1754.1,293.8 1757.1,296.2 1760.0,298.6 1763.0,301.0 1766.0,303.4 1769.0,305.8 1772.0,308.2 M1421.1,434.4 1424.1,421.6 1427.1,409.4 1430.1,397.9 1433.1,388.1 1436.1,377.6 1439.0,366.2 1442.0,353.7 1445.0,340.2 1448.0,329.4 1451.0,330.1 1454.0,330.8 1457.0,331.4 1460.0,332.1 1462.9,332.8 1465.9,333.4 1468.9,334.1 1471.9,334.8 1474.9,335.5 1477.9,336.2 1480.9,336.9 1483.9,337.6 1486.8,338.3 1489.8,339.0 1492.8,339.5 1495.8,339.6 1498.8,339.6 1501.8,339.7 1504.8,339.7 1507.8,339.8 1510.7,339.8 1513.7,339.9 1516.7,339.9 1519.7,340.0 1522.7,340.0 1525.7,339.5 1528.7,339.0 1531.7,338.5 1534.6,338.0 1537.6,337.5 1540.6,337.0 1543.6,336.5 1546.6,336.0 1549.6,335.5 1552.6,335.0 1555.5,334.6 1558.5,334.1 1561.5,333.9 1564.5,334.4 1567.5,335.0 1570.5,335.5 1573.5,336.1 1576.5,337.7 1579.4,339.6 1582.4,341.2 1585.4,342.9 1588.4,344.7 1591.4,346.6 1594.4,348.5 1597.4,350.5 1600.4,352.6 1603.3,354.7 1606.3,357.0 1609.3,359.2 1612.3,361.6 1615.3,362.3 1618.3,361.3 1621.3,360.3 1624.3,359.3 1627.2,358.3 1630.2,357.3 1633.2,356.4 1636.2,355.5 1639.2,354.6 1642.2,353.7 1645.2,352.7 1648.2,351.8 1651.1,351.0 1654.1,350.2 1657.1,349.4 1660.1,348.8 1663.1,348.3 1666.1,347.7 1669.1,347.1 1672.1,346.5 1675.0,345.8 1678.0,345.3 1681.0,344.8 1684.0,344.3 1687.0,343.8 1690.0,343.3 1693.0,342.8 1696.0,342.3 1698.9,341.8 1701.9,341.3 1704.9,340.8 1707.9,340.3 1710.9,339.8 1713.9,339.4 1716.9,338.1 1719.9,336.5 1722.8,334.9 1725.8,333.4 1728.8,331.9 1731.8,330.4 1734.8,328.9 1737.8,327.5 1740.8,326.2 1743.8,324.8 1746.7,323.5 1749.7,322.3 1752.7,321.0 1755.7,320.6 1758.7,321.5 1761.7,322.7 1764.7,324.1 1767.7,325.8 1770.6,327.7 1773.6,329.8 1776.6,332.3 1779.6,334.9 1782.6,337.4 1785.6,340.0 1788.6,342.5 M1467.6,446.8 1470.6,433.5 1473.5,420.5 1476.5,405.3 1479.5,387.0 1482.5,369.7 1485.5,372.4 1488.5,375.4 1491.5,378.3 1494.5,381.0 1497.4,383.2 1500.4,384.9 1503.4,386.0 1506.4,386.7 1509.4,386.4 1512.4,385.7 1515.4,384.6 1518.4,383.5 1521.3,383.1 1524.3,384.0 1527.3,384.8 1530.3,385.7 1533.3,386.4 1536.3,387.2 1539.3,388.0 1542.3,388.3 1545.2,388.6 1548.2,389.0 1551.2,389.3 1554.2,389.6 1557.2,389.9 1560.2,391.7 1563.2,394.1 1566.2,396.7 1569.1,399.5 1572.1,402.4 1575.1,405.6 1578.1,408.9 1581.1,412.6 1584.1,417.3 1587.1,422.3 1590.1,427.4 M1796.2,383.6 1799.2,382.3 1802.2,381.1 1805.2,380.1" fill="none" stroke="#101018" stroke-opacity="0.8" stroke-width="1.05"/>
<path d="M1240.7,130.9 1248.3,135.6 1255.9,140.3 1263.5,145.0 1271.1,149.0 1278.7,152.8 1286.3,156.6 1293.9,160.3 1301.5,163.2 1309.1,165.9 1316.7,168.5 1324.3,171.1 1331.9,173.2 1339.5,175.1 1347.1,176.9 1354.7,178.8 1362.3,180.1 1369.9,181.3 1377.5,182.4 1385.1,183.5 1392.7,184.4 1400.3,185.1 1407.9,185.8 1415.5,186.6 1423.1,187.0 1430.7,187.4 1438.3,187.8 1445.9,188.2 1453.5,189.1 1461.1,190.5 1468.7,191.9 1476.3,193.2 1483.9,194.6 1491.5,194.3 1499.1,193.9 1506.7,193.6 1514.3,193.2 1521.9,192.9 1529.5,192.6 1537.1,192.2 1544.7,191.9 1552.3,191.5 1559.9,191.5 1567.5,191.5 1575.1,191.5 1582.7,191.5 1590.3,191.5 1597.9,191.5 1605.5,191.4 1613.1,191.4 1620.7,191.3 1628.3,191.1 1635.9,191.0 1643.5,190.9 1651.1,190.8 1658.7,190.7 1666.3,190.5 1673.9,190.5 1681.5,190.5 1689.1,190.5" fill="none" stroke="#ffffff" stroke-width="1.8"/>
<path d="M1240.7,129.5 1248.3,134.2 1255.9,138.9 1263.5,143.6 1271.1,147.6 1278.7,151.4 1286.3,155.2 1293.9,158.9 1301.5,161.8 1309.1,164.5 1316.7,167.1 1324.3,169.7 1331.9,171.8 1339.5,173.7 1347.1,175.5 1354.7,177.4 1362.3,178.7 1369.9,179.9 1377.5,181.0 1385.1,182.1 1392.7,183.0 1400.3,183.7 1407.9,184.4 1415.5,185.2 1423.1,185.6 1430.7,186.0 1438.3,186.4 1445.9,186.8 1453.5,187.7 1461.1,189.1 1468.7,190.5 1476.3,191.8 1483.9,193.2 1491.5,192.9 1499.1,192.5 1506.7,192.2 1514.3,191.8 1521.9,191.5 1529.5,191.2 1537.1,190.8 1544.7,190.5 1552.3,190.1 1559.9,190.1 1567.5,190.1 1575.1,190.1 1582.7,190.1 1590.3,190.1 1597.9,190.1 1605.5,190.0 1613.1,190.0 1620.7,189.9 1628.3,189.7 1635.9,189.6 1643.5,189.5 1651.1,189.4 1658.7,189.3 1666.3,189.1 1673.9,189.1 1681.5,189.1 1689.1,189.1" fill="none" stroke="#2a2a30" stroke-opacity="0.75" stroke-width="0.8"/>
<defs><linearGradient id="hlg" gradientUnits="userSpaceOnUse" x1="1225" y1="125" x2="1510" y2="380"><stop offset="0" stop-color="#fff" stop-opacity="0.15"/><stop offset="0.2" stop-color="#fff" stop-opacity="0.95"/><stop offset="0.55" stop-color="#fff" stop-opacity="0.9"/><stop offset="0.78" stop-color="#fff" stop-opacity="0.5"/><stop offset="0.93" stop-color="#fff" stop-opacity="0.12"/><stop offset="1" stop-color="#fff" stop-opacity="0"/></linearGradient><filter id="hb3" x="-10%" y="-10%" width="120%" height="120%"><feGaussianBlur stdDeviation="3"/></filter><filter id="hb8" x="-20%" y="-20%" width="140%" height="140%"><feGaussianBlur stdDeviation="7"/></filter></defs>
<path d="M1216.8,122.3 L1227.0,127.2 L1237.1,132.2 L1247.3,144.8 L1257.4,154.6 L1267.6,162.2 L1277.7,171.4 L1287.8,181.1 L1298.0,190.1 L1308.1,199.0 L1318.3,209.3 L1328.4,218.1 L1338.6,227.4 L1348.7,236.7 L1358.8,245.4 L1369.0,254.4 L1379.1,264.2 L1389.3,274.5 L1399.4,284.2 L1409.6,294.0 L1419.7,304.2 L1429.9,313.8 L1440.0,322.8 L1450.1,333.4 L1460.3,345.6 L1470.4,356.8 L1480.6,367.5 L1490.7,389.4 L1500.9,415.7 L1511.0,459.2" fill="none" stroke="url(#hlg)" stroke-width="11" stroke-linecap="round" filter="url(#hb3)" opacity="0.8"/>
<path d="M1216.8,122.3 L1227.0,127.2 L1237.1,132.2 L1247.3,144.8 L1257.4,154.6 L1267.6,162.2 L1277.7,171.4 L1287.8,181.1 L1298.0,190.1 L1308.1,199.0 L1318.3,209.3 L1328.4,218.1 L1338.6,227.4 L1348.7,236.7 L1358.8,245.4 L1369.0,254.4 L1379.1,264.2 L1389.3,274.5 L1399.4,284.2 L1409.6,294.0 L1419.7,304.2 L1429.9,313.8 L1440.0,322.8 L1450.1,333.4 L1460.3,345.6 L1470.4,356.8 L1480.6,367.5 L1490.7,389.4 L1500.9,415.7 L1511.0,459.2" fill="none" stroke="url(#hlg)" stroke-width="4.4" stroke-linecap="round" filter="url(#blur1)"/>
<path d="M1480,244 C1540,268 1620,306 1688,340" fill="none" stroke="#e8e4ff" stroke-opacity="0.36" stroke-width="22" stroke-linecap="round" filter="url(#hb8)"/>
<path d="M1560,280 C1595,295 1635,314 1668,330" fill="none" stroke="#f0eeff" stroke-opacity="0.3" stroke-width="10" stroke-linecap="round" filter="url(#hb3)"/>
<path d="M1727,393 L1737.5,385.5 L1747,391.5 Z" fill="#f2f4f8" fill-opacity="0.92" filter="url(#blur1)"/>
<text transform="translate(1470.0,262.0) rotate(-9.0)" font-size="60.0" fill="#15151c" fill-opacity="0.75" textLength="64.0" lengthAdjust="spacingAndGlyphs" filter="url(#blur1)" dx="1.5" dy="2.5">SF</text><text transform="translate(1470.0,262.0) rotate(-9.0)" font-size="60.0" fill="#ffffff" stroke="#ffffff" stroke-width="0.6" textLength="64.0" lengthAdjust="spacingAndGlyphs">SF</text>
<text transform="translate(1707.0,466.0) rotate(-9.0)" font-size="62.0" fill="#15151c" fill-opacity="0.75" textLength="64.0" lengthAdjust="spacingAndGlyphs" filter="url(#blur1)" dx="1.5" dy="2.5">BG</text><text transform="translate(1707.0,466.0) rotate(-9.0)" font-size="62.0" fill="#ffffff" stroke="#ffffff" stroke-width="0.6" textLength="64.0" lengthAdjust="spacingAndGlyphs">BG</text>
<text transform="translate(1426.0,554.0) rotate(-9.0)" font-size="62.0" fill="#15151c" fill-opacity="0.75" textLength="145.0" lengthAdjust="spacingAndGlyphs" filter="url(#blur1)" dx="1.5" dy="2.5">normal</text><text transform="translate(1426.0,554.0) rotate(-9.0)" font-size="62.0" fill="#ffffff" stroke="#ffffff" stroke-width="0.6" textLength="145.0" lengthAdjust="spacingAndGlyphs">normal</text>
<defs><linearGradient id="cbg" x1="0" y1="0" x2="0" y2="1"><stop offset="0.000" stop-color="#fffff5"/><stop offset="0.025" stop-color="#fcf8ca"/><stop offset="0.050" stop-color="#f8f2a0"/><stop offset="0.075" stop-color="#f7ee7d"/><stop offset="0.100" stop-color="#f6ea5a"/><stop offset="0.125" stop-color="#f9d849"/><stop offset="0.150" stop-color="#fcc63a"/><stop offset="0.175" stop-color="#fab93c"/><stop offset="0.200" stop-color="#f8ac3e"/><stop offset="0.225" stop-color="#f69f3f"/><stop offset="0.250" stop-color="#f49242"/><stop offset="0.275" stop-color="#f18645"/><stop offset="0.300" stop-color="#ef7a48"/><stop offset="0.325" stop-color="#ea694c"/><stop offset="0.350" stop-color="#e45851"/><stop offset="0.375" stop-color="#dd4956"/><stop offset="0.400" stop-color="#d63a5c"/><stop offset="0.425" stop-color="#cb3266"/><stop offset="0.450" stop-color="#c02a70"/><stop offset="0.475" stop-color="#ad2a7d"/><stop offset="0.500" stop-color="#9a2a8a"/><stop offset="0.525" stop-color="#8c2b8d"/><stop offset="0.550" stop-color="#7e2c90"/><stop offset="0.575" stop-color="#742e93"/><stop offset="0.600" stop-color="#6a3096"/><stop offset="0.625" stop-color="#60379b"/><stop offset="0.650" stop-color="#573fa1"/><stop offset="0.675" stop-color="#4d49a7"/><stop offset="0.700" stop-color="#4452ae"/><stop offset="0.725" stop-color="#4057b1"/><stop offset="0.750" stop-color="#3c5cb4"/><stop offset="0.775" stop-color="#3358b2"/><stop offset="0.800" stop-color="#2a55b0"/><stop offset="0.825" stop-color="#24459f"/><stop offset="0.850" stop-color="#1f3785"/><stop offset="0.875" stop-color="#1a2861"/><stop offset="0.900" stop-color="#121733"/><stop offset="0.925" stop-color="#0b0d19"/><stop offset="0.950" stop-color="#07070d"/><stop offset="0.975" stop-color="#040407"/><stop offset="1.000" stop-color="#030304"/></linearGradient></defs>
<rect x="1970.6" y="7" width="28.8" height="499" fill="url(#cbg)" stroke="#77777c" stroke-width="1.2"/>
<path d="M1970,507.3 H2000" stroke="#8e9bb6" stroke-width="3.6"/>
<path d="M1970,458.9 h4 M1999.5,458.9 h-4 M1970,408.1 h4 M1999.5,408.1 h-4 M1970,357.2 h4 M1999.5,357.2 h-4 M1970,306.4 h4 M1999.5,306.4 h-4 M1970,255.6 h4 M1999.5,255.6 h-4 M1970,204.7 h4 M1999.5,204.7 h-4 M1970,153.9 h4 M1999.5,153.9 h-4 M1970,103.0 h4 M1999.5,103.0 h-4 M1970,52.1 h4 M1999.5,52.1 h-4" stroke="#3a3a40" stroke-opacity="0.7" stroke-width="1"/>
<text x="2012.4" y="30.6" font-size="46.0" fill="#242428" stroke="#242428" stroke-width="0.55" text-anchor="start" textLength="14.0" lengthAdjust="spacingAndGlyphs" ><tspan font-size="35.9" dy="0.0">1</tspan></text>
<text x="2008.4" y="268.0" font-size="46.0" fill="#242428" stroke="#242428" stroke-width="0.55" text-anchor="start" textLength="55.0" lengthAdjust="spacingAndGlyphs" ><tspan font-size="35.9" dy="0.0">0</tspan><tspan font-size="46.0" dy="0.0">.</tspan><tspan font-size="43.7" dy="7.8">5</tspan></text>
<text x="2009.6" y="518.0" font-size="46.0" fill="#242428" stroke="#242428" stroke-width="0.55" text-anchor="start" textLength="21.7" lengthAdjust="spacingAndGlyphs" ><tspan font-size="35.9" dy="0.0">0</tspan></text>
</svg>
</body></html>
